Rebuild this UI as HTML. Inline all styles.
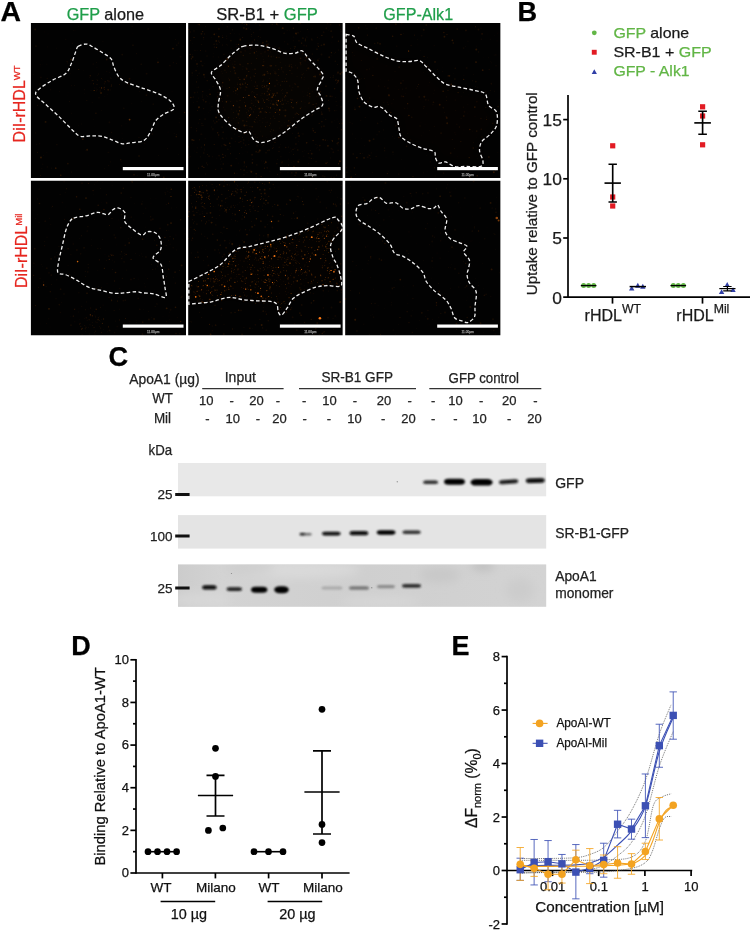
<!DOCTYPE html>
<html lang="en">
<head>
<meta charset="utf-8">
<title>Figure</title>
<style>
html,body{margin:0;padding:0;background:#fff;}
body{width:750px;height:930px;overflow:hidden;}
svg{display:block;}
svg text{font-family:'Liberation Sans',Arial,sans-serif;stroke-width:0.25px;stroke-linejoin:round;}
</style>
</head>
<body>
<svg width="750" height="930" viewBox="0 0 750 930">
<rect x="0" y="0" width="750" height="930" fill="#ffffff"/>
<g id="panelA">
<defs>
<clipPath id="cp00"><rect x="30.7" y="23" width="155.3" height="155"/></clipPath>
<clipPath id="cp01"><rect x="188.1" y="23" width="154.7" height="155"/></clipPath>
<clipPath id="cp02"><rect x="345.1" y="23" width="155.5" height="155"/></clipPath>
<clipPath id="cp10"><rect x="30.7" y="180.5" width="155.3" height="155"/></clipPath>
<clipPath id="cp11"><rect x="188.1" y="180.5" width="154.7" height="155"/></clipPath>
<clipPath id="cp12"><rect x="345.1" y="180.5" width="155.5" height="155"/></clipPath>
<filter id="blurA" x="-5%" y="-5%" width="110%" height="110%"><feGaussianBlur stdDeviation="0.45"/></filter>
<filter id="hazeA" x="-10%" y="-10%" width="120%" height="120%"><feGaussianBlur stdDeviation="4"/></filter>
</defs>
<g clip-path="url(#cp00)">
<rect x="30.7" y="23" width="155.3" height="155" fill="#020202"/>
<path d="M78.27,46.33C79.97,45.2 83.74,43.95 86.2,44.07C88.66,44.18 90.17,45.5 93,47.01C95.83,48.52 100.18,51.17 103.2,53.13C106.22,55.1 109.36,56.53 111.13,58.8C112.91,61.07 112.53,63.71 113.85,66.73C115.18,69.76 116.88,74.29 119.07,76.93C121.26,79.58 123.03,80.71 127,82.6C130.97,84.49 137.58,86.38 142.87,88.27C148.16,90.16 154.2,91.86 158.73,93.93C163.27,96.01 167.54,98.28 170.07,100.73C172.6,103.19 175.05,106.4 173.92,108.67C172.79,110.93 166.36,112.26 163.27,114.33C160.17,116.41 157.41,118.3 155.33,121.13C153.26,123.97 152.69,128.12 150.8,131.33C148.91,134.54 147.21,138.51 144,140.4C140.79,142.29 135.12,142.1 131.53,142.67C127.94,143.23 125.49,144.18 122.47,143.8C119.44,143.42 116.8,141.65 113.4,140.4C110,139.15 105.84,137.08 102.07,136.32C98.29,135.56 94.32,135.87 90.73,135.87C87.14,135.87 83.37,137.08 80.53,136.32C77.7,135.56 77.32,134.62 73.73,131.33C70.14,128.05 63.72,121.13 59,116.6C54.28,112.07 49.25,107.72 45.4,104.13C41.55,100.54 37.01,97.52 35.88,95.07C34.75,92.61 35.88,91.86 38.6,89.4C41.32,86.94 47.67,82.98 52.2,80.33C56.73,77.69 62.59,76.37 65.8,73.53C69.01,70.7 69.77,67.11 71.47,63.33C73.17,59.56 74.87,53.7 76,50.87C77.13,48.03 76.57,47.47 78.27,46.33Z" fill="#c8611a" opacity="0" filter="url(#hazeA)"/>
<g fill="#ff7a14" filter="url(#blurA)">
<circle cx="80.58" cy="59.11" r="0.38" opacity="0.03"/>
<circle cx="109.85" cy="80.54" r="0.3" opacity="0.09"/>
<circle cx="94.48" cy="126.53" r="0.3" opacity="0.05"/>
<circle cx="122.49" cy="138.58" r="0.37" opacity="0.07"/>
<circle cx="78.46" cy="125.46" r="0.31" opacity="0.1"/>
<circle cx="124.08" cy="81.21" r="0.36" opacity="0.03"/>
<circle cx="129.8" cy="86.71" r="0.32" opacity="0.1"/>
<circle cx="98.44" cy="73.96" r="0.43" opacity="0.13"/>
<circle cx="69.58" cy="101.36" r="0.36" opacity="0.18"/>
<circle cx="93.6" cy="119.58" r="0.3" opacity="0.08"/>
<circle cx="141.42" cy="101.22" r="0.45" opacity="0.06"/>
<circle cx="131.86" cy="103.35" r="0.37" opacity="0.08"/>
<circle cx="101.32" cy="110.3" r="0.3" opacity="0.13"/>
<circle cx="125.21" cy="143.11" r="0.44" opacity="0.05"/>
<circle cx="89.13" cy="110.75" r="0.3" opacity="0.08"/>
<circle cx="89.85" cy="130.98" r="0.3" opacity="0.08"/>
<circle cx="111.72" cy="132.17" r="0.43" opacity="0.18"/>
<circle cx="74.31" cy="85.49" r="0.33" opacity="0.18"/>
<circle cx="68.09" cy="92.43" r="0.37" opacity="0.05"/>
<circle cx="86.85" cy="100.55" r="0.48" opacity="0.13"/>
<circle cx="107.04" cy="105.66" r="0.39" opacity="0.03"/>
<circle cx="90.04" cy="83.86" r="0.3" opacity="0.12"/>
<circle cx="82.82" cy="49.31" r="0.3" opacity="0.04"/>
<circle cx="70.7" cy="78.71" r="0.33" opacity="0.04"/>
<circle cx="100.21" cy="92.32" r="0.3" opacity="0.04"/>
<circle cx="83.18" cy="70.47" r="0.44" opacity="0.04"/>
<circle cx="108.8" cy="58.69" r="0.36" opacity="0.03"/>
<circle cx="155.05" cy="113.5" r="0.31" opacity="0.06"/>
<circle cx="109.4" cy="121.76" r="0.32" opacity="0.05"/>
<circle cx="153.58" cy="124.46" r="0.43" opacity="0.14"/>
<circle cx="67.18" cy="95.69" r="0.33" opacity="0.03"/>
<circle cx="71.66" cy="113.13" r="0.48" opacity="0.08"/>
<circle cx="122.03" cy="133.86" r="0.44" opacity="0.08"/>
<circle cx="126.02" cy="123.82" r="0.3" opacity="0.12"/>
<circle cx="139.43" cy="91.74" r="0.31" opacity="0.16"/>
<circle cx="81.78" cy="123.94" r="0.49" opacity="0.07"/>
<circle cx="171.2" cy="109.62" r="0.32" opacity="0.1"/>
<circle cx="169.9" cy="108.86" r="0.36" opacity="0.2"/>
<circle cx="95.76" cy="131.01" r="0.44" opacity="0.04"/>
<circle cx="70.64" cy="73.29" r="0.31" opacity="0.1"/>
<circle cx="71.68" cy="85.86" r="0.3" opacity="0.19"/>
<circle cx="84.72" cy="89.76" r="0.37" opacity="0.19"/>
<circle cx="93.94" cy="135.59" r="0.35" opacity="0.09"/>
<circle cx="96.63" cy="62.33" r="0.3" opacity="0.16"/>
<circle cx="59.67" cy="91.29" r="0.41" opacity="0.1"/>
<circle cx="116.74" cy="144.48" r="0.3" opacity="0.07"/>
<circle cx="69.19" cy="65.89" r="0.48" opacity="0.06"/>
<circle cx="172.04" cy="91.66" r="0.41" opacity="0.06"/>
<circle cx="104.75" cy="168.84" r="0.45" opacity="0.13"/>
<circle cx="176.64" cy="63.21" r="0.39" opacity="0.15"/>
<circle cx="160.82" cy="44.24" r="0.3" opacity="0.06"/>
<circle cx="41.94" cy="60.27" r="0.3" opacity="0.09"/>
<circle cx="152.13" cy="161.95" r="0.31" opacity="0.1"/>
<circle cx="132.97" cy="45.15" r="0.53" opacity="0.15"/>
<circle cx="64.71" cy="170.54" r="0.35" opacity="0.06"/>
<circle cx="184.03" cy="151.95" r="0.31" opacity="0.06"/>
<circle cx="61.02" cy="72.34" r="0.46" opacity="0.03"/>
<circle cx="33.5" cy="74.35" r="0.42" opacity="0.07"/>
<circle cx="40.66" cy="175.59" r="0.49" opacity="0.15"/>
<circle cx="46.93" cy="64.14" r="0.3" opacity="0.11"/>
<circle cx="72.59" cy="43.07" r="0.35" opacity="0.14"/>
<circle cx="157.56" cy="63.06" r="0.31" opacity="0.14"/>
<circle cx="44.56" cy="31.91" r="0.44" opacity="0.06"/>
<circle cx="41.92" cy="168.35" r="0.42" opacity="0.11"/>
<circle cx="43.67" cy="155.63" r="0.3" opacity="0.13"/>
<circle cx="116.37" cy="166.54" r="0.32" opacity="0.03"/>
<circle cx="112.32" cy="59.93" r="0.3" opacity="0.04"/>
<circle cx="38.5" cy="54.25" r="0.33" opacity="0.04"/>
<circle cx="148.35" cy="67.91" r="0.38" opacity="0.04"/>
<circle cx="84.45" cy="25.81" r="0.32" opacity="0.03"/>
<circle cx="175.48" cy="39.46" r="0.5" opacity="0.06"/>
<circle cx="107.38" cy="152.28" r="0.35" opacity="0.06"/>
<circle cx="137.23" cy="175.18" r="0.34" opacity="0.12"/>
<circle cx="39.12" cy="43.11" r="0.3" opacity="0.1"/>
<circle cx="70.29" cy="48.29" r="0.3" opacity="0.12"/>
<circle cx="165.55" cy="126.87" r="0.32" opacity="0.04"/>
<circle cx="71.48" cy="171.98" r="0.58" opacity="0.07"/>
<circle cx="68.56" cy="172.58" r="0.33" opacity="0.05"/>
<circle cx="30.87" cy="82.11" r="0.37" opacity="0.06"/>
<circle cx="31.47" cy="63.92" r="0.3" opacity="0.05"/>
<circle cx="37.15" cy="26.48" r="0.33" opacity="0.04"/>
<circle cx="141.61" cy="159.17" r="0.35" opacity="0.05"/>
<circle cx="183.23" cy="46.15" r="0.46" opacity="0.08"/>
<circle cx="37.48" cy="152.39" r="0.54" opacity="0.08"/>
<circle cx="144.37" cy="148.81" r="0.31" opacity="0.07"/>
<circle cx="108.83" cy="152.33" r="0.49" opacity="0.12"/>
<circle cx="121.17" cy="161.3" r="0.44" opacity="0.09"/>
<circle cx="66.32" cy="27.83" r="0.31" opacity="0.05"/>
<circle cx="46.95" cy="152.47" r="0.39" opacity="0.08"/>
<circle cx="106.49" cy="23.51" r="0.49" opacity="0.1"/>
<circle cx="132.83" cy="33.23" r="0.46" opacity="0.04"/>
<circle cx="42.23" cy="64.13" r="0.46" opacity="0.04"/>
<circle cx="145.3" cy="174.14" r="0.37" opacity="0.05"/>
<circle cx="130.26" cy="35" r="0.31" opacity="0.04"/>
<circle cx="145.82" cy="70.15" r="0.4" opacity="0.03"/>
<circle cx="40.1" cy="64.63" r="0.44" opacity="0.09"/>
<circle cx="135.37" cy="68.05" r="0.38" opacity="0.06"/>
<circle cx="102.94" cy="41.36" r="0.54" opacity="0.04"/>
<circle cx="182.21" cy="168.03" r="0.3" opacity="0.06"/>
<circle cx="157.7" cy="172.96" r="0.36" opacity="0.04"/>
<circle cx="63.2" cy="169.47" r="0.31" opacity="0.08"/>
<circle cx="178.28" cy="43.54" r="0.5" opacity="0.07"/>
<circle cx="168.07" cy="131.95" r="0.32" opacity="0.14"/>
<circle cx="106" cy="26.85" r="0.3" opacity="0.06"/>
<circle cx="52.5" cy="76.28" r="0.33" opacity="0.12"/>
<circle cx="30.97" cy="139.29" r="0.51" opacity="0.03"/>
<circle cx="174.2" cy="133.45" r="0.54" opacity="0.04"/>
<circle cx="185.41" cy="114.26" r="0.34" opacity="0.06"/>
<circle cx="73.32" cy="30.48" r="0.3" opacity="0.12"/>
<circle cx="74.94" cy="167.92" r="0.32" opacity="0.04"/>
<circle cx="109.85" cy="52.41" r="0.34" opacity="0.15"/>
<circle cx="167.67" cy="148.77" r="0.42" opacity="0.14"/>
<circle cx="176.41" cy="108.08" r="0.46" opacity="0.03"/>
<circle cx="75.03" cy="30.59" r="0.56" opacity="0.03"/>
<circle cx="76.82" cy="137.48" r="0.59" opacity="0.04"/>
<circle cx="132.31" cy="69.6" r="0.39" opacity="0.05"/>
<circle cx="56.62" cy="48.04" r="0.31" opacity="0.14"/>
<circle cx="171.08" cy="177.35" r="0.36" opacity="0.03"/>
<circle cx="60.5" cy="37.05" r="0.34" opacity="0.03"/>
<circle cx="67.74" cy="63.02" r="0.4" opacity="0.13"/>
<circle cx="146.82" cy="86.94" r="0.35" opacity="0.07"/>
<circle cx="40.31" cy="65.99" r="0.58" opacity="0.03"/>
<circle cx="164.36" cy="56.45" r="0.32" opacity="0.04"/>
<circle cx="178.47" cy="154.46" r="0.53" opacity="0.03"/>
<circle cx="35.69" cy="132.9" r="0.54" opacity="0.06"/>
<circle cx="121.65" cy="23.03" r="0.35" opacity="0.14"/>
<circle cx="158.58" cy="155.51" r="0.58" opacity="0.04"/>
<circle cx="47.59" cy="46.91" r="0.38" opacity="0.09"/>
<circle cx="176.54" cy="134.8" r="0.43" opacity="0.11"/>
<circle cx="36.83" cy="144.18" r="0.32" opacity="0.14"/>
<circle cx="130.69" cy="70.06" r="0.3" opacity="0.04"/>
<circle cx="48.07" cy="33.9" r="0.38" opacity="0.08"/>
<circle cx="123.8" cy="24.62" r="0.33" opacity="0.06"/>
<circle cx="179.24" cy="122.84" r="0.53" opacity="0.06"/>
<circle cx="67.07" cy="61.27" r="0.58" opacity="0.1"/>
<circle cx="78.32" cy="26.37" r="0.37" opacity="0.09"/>
<circle cx="134.07" cy="166.31" r="0.32" opacity="0.03"/>
<circle cx="136.43" cy="53.68" r="0.49" opacity="0.1"/>
<circle cx="108.91" cy="54.79" r="0.58" opacity="0.04"/>
<circle cx="157.72" cy="58.75" r="0.31" opacity="0.11"/>
<circle cx="76.39" cy="170.45" r="0.37" opacity="0.04"/>
<circle cx="133.75" cy="169.96" r="0.31" opacity="0.05"/>
<circle cx="63.69" cy="173.89" r="0.31" opacity="0.03"/>
<circle cx="40.01" cy="83.93" r="0.54" opacity="0.13"/>
<circle cx="144.2" cy="177.52" r="0.56" opacity="0.05"/>
<circle cx="59.44" cy="167.97" r="0.47" opacity="0.03"/>
<circle cx="133.62" cy="81.65" r="0.34" opacity="0.05"/>
<circle cx="56.92" cy="23.44" r="0.32" opacity="0.05"/>
<circle cx="178.71" cy="42.16" r="0.58" opacity="0.04"/>
<circle cx="85.94" cy="150.26" r="0.5" opacity="0.06"/>
<circle cx="88.43" cy="165.43" r="0.31" opacity="0.05"/>
<circle cx="169.64" cy="27.69" r="0.35" opacity="0.12"/>
<circle cx="149.46" cy="29.3" r="0.3" opacity="0.03"/>
<circle cx="173.22" cy="62.81" r="0.47" opacity="0.14"/>
<circle cx="179.05" cy="118.57" r="0.32" opacity="0.1"/>
<circle cx="97.07" cy="89.87" r="0.3" opacity="0.21"/>
<circle cx="111.04" cy="78.32" r="0.66" opacity="0.06"/>
<circle cx="101.03" cy="93.04" r="0.67" opacity="0.3"/>
<circle cx="94.82" cy="87.98" r="0.37" opacity="0.13"/>
<circle cx="105.15" cy="81.78" r="0.56" opacity="0.2"/>
<circle cx="106.84" cy="71.64" r="0.45" opacity="0.09"/>
<circle cx="96.39" cy="90.87" r="0.54" opacity="0.07"/>
<circle cx="104.89" cy="96.65" r="0.32" opacity="0.07"/>
<circle cx="111.16" cy="86.14" r="0.34" opacity="0.31"/>
<circle cx="99.65" cy="87.34" r="0.3" opacity="0.13"/>
<circle cx="97.55" cy="75.57" r="0.32" opacity="0.11"/>
<circle cx="90.19" cy="75.78" r="0.52" opacity="0.25"/>
<circle cx="97.66" cy="80.51" r="0.58" opacity="0.09"/>
<circle cx="92.06" cy="80.85" r="0.52" opacity="0.07"/>
<circle cx="100.11" cy="90" r="0.31" opacity="0.26"/>
<circle cx="92.95" cy="80.64" r="0.36" opacity="0.32"/>
<circle cx="93.48" cy="83.73" r="0.56" opacity="0.17"/>
<circle cx="104.18" cy="83.79" r="0.39" opacity="0.24"/>
<circle cx="110.75" cy="69.06" r="0.3" opacity="0.09"/>
<circle cx="104.27" cy="87.53" r="0.68" opacity="0.15"/>
<circle cx="107.86" cy="80.72" r="0.6" opacity="0.12"/>
<circle cx="99.02" cy="97.85" r="0.66" opacity="0.07"/>
<circle cx="89.7" cy="77.68" r="0.32" opacity="0.1"/>
<circle cx="103.83" cy="88.19" r="0.33" opacity="0.16"/>
<circle cx="96.48" cy="79.6" r="0.3" opacity="0.09"/>
<circle cx="97.49" cy="79.39" r="0.34" opacity="0.07"/>
<circle cx="103.18" cy="74.32" r="0.3" opacity="0.07"/>
<circle cx="91" cy="90.18" r="0.46" opacity="0.07"/>
<circle cx="107.16" cy="94.57" r="0.37" opacity="0.08"/>
<circle cx="92.12" cy="102.51" r="0.34" opacity="0.15"/>
<circle cx="94.17" cy="90.49" r="0.6" opacity="0.32"/>
<circle cx="96.09" cy="88" r="0.51" opacity="0.07"/>
<circle cx="119.37" cy="84.64" r="0.37" opacity="0.24"/>
<circle cx="84.51" cy="93.21" r="0.38" opacity="0.07"/>
<circle cx="111.35" cy="84.94" r="0.46" opacity="0.28"/>
<circle cx="110.64" cy="89.92" r="0.36" opacity="0.13"/>
<circle cx="104.47" cy="89.18" r="0.41" opacity="0.28"/>
<circle cx="108.1" cy="89.87" r="0.56" opacity="0.3"/>
<circle cx="101.52" cy="87.94" r="0.66" opacity="0.31"/>
<circle cx="97.04" cy="84.29" r="0.64" opacity="0.1"/>
<circle cx="110.33" cy="77.7" r="0.57" opacity="0.07"/>
<circle cx="101.42" cy="78.47" r="0.37" opacity="0.25"/>
<circle cx="102.73" cy="79.53" r="0.32" opacity="0.1"/>
<circle cx="91.2" cy="83.12" r="0.31" opacity="0.08"/>
<circle cx="96.98" cy="67.14" r="0.3" opacity="0.14"/>
<circle cx="148.33" cy="28.91" r="0.92" opacity="0.05"/>
<circle cx="123.81" cy="108.26" r="0.81" opacity="0.06"/>
<circle cx="95.94" cy="113.31" r="0.71" opacity="0.11"/>
<circle cx="100.09" cy="90.94" r="0.51" opacity="0.1"/>
<circle cx="106.72" cy="59.46" r="0.88" opacity="0.13"/>
<circle cx="101.87" cy="50.83" r="0.74" opacity="0.05"/>
<circle cx="50.65" cy="89.74" r="0.55" opacity="0.08"/>
<circle cx="109.93" cy="29.32" r="0.82" opacity="0.05"/>
<circle cx="144.61" cy="143.53" r="0.76" opacity="0.05"/>
<circle cx="108.96" cy="81.57" r="0.98" opacity="0.05"/>
<circle cx="163.8" cy="177.4" r="0.87" opacity="0.14"/>
<circle cx="60.78" cy="175.17" r="0.75" opacity="0.17"/>
<circle cx="172.96" cy="48.59" r="0.89" opacity="0.16"/>
<circle cx="40.87" cy="77.39" r="0.88" opacity="0.05"/>
<circle cx="169.93" cy="65.62" r="0.91" opacity="0.05"/>
<circle cx="108.69" cy="165.59" r="0.6" opacity="0.06"/>
<circle cx="109.28" cy="72.46" r="0.52" opacity="0.05"/>
<circle cx="55.74" cy="168.14" r="0.84" opacity="0.15"/>
<circle cx="56.91" cy="144.65" r="0.56" opacity="0.09"/>
<circle cx="129.52" cy="78.77" r="0.94" opacity="0.09"/>
<circle cx="120.78" cy="159.79" r="0.55" opacity="0.18"/>
<circle cx="128.5" cy="84.11" r="0.9" opacity="0.06"/>
<circle cx="184.52" cy="112.49" r="0.68" opacity="0.13"/>
<circle cx="99.39" cy="50.4" r="0.87" opacity="0.05"/>
<circle cx="158.02" cy="62.32" r="0.82" opacity="0.18"/>
<circle cx="121.69" cy="125.87" r="0.66" opacity="0.05"/>
<circle cx="35.95" cy="46.15" r="0.81" opacity="0.07"/>
<circle cx="110.32" cy="161.81" r="0.57" opacity="0.06"/>
<circle cx="132.13" cy="26.45" r="0.5" opacity="0.07"/>
<circle cx="47.22" cy="78.36" r="0.61" opacity="0.09"/>
<circle cx="122.19" cy="54.65" r="0.81" opacity="0.08"/>
<circle cx="51.63" cy="168.17" r="0.62" opacity="0.05"/>
<circle cx="45.58" cy="121.92" r="0.94" opacity="0.13"/>
<circle cx="93.12" cy="63.96" r="0.51" opacity="0.1"/>
<circle cx="118.03" cy="77.3" r="0.82" opacity="0.08"/>
<circle cx="176.24" cy="136.7" r="0.62" opacity="0.16"/>
<circle cx="37.53" cy="105.39" r="0.7" opacity="0.06"/>
<circle cx="39.77" cy="143.73" r="0.51" opacity="0.09"/>
<circle cx="176.82" cy="45.05" r="0.6" opacity="0.1"/>
<circle cx="109.43" cy="122.44" r="0.91" opacity="0.05"/>
<circle cx="78.75" cy="69.54" r="0.52" opacity="0.15"/>
<circle cx="152.3" cy="133.89" r="0.5" opacity="0.14"/>
<circle cx="146.43" cy="95.12" r="0.87" opacity="0.08"/>
<circle cx="65.79" cy="39.32" r="0.62" opacity="0.05"/>
<circle cx="82.81" cy="139.2" r="0.85" opacity="0.14"/>
<circle cx="141.22" cy="64.23" r="0.78" opacity="0.07"/>
<circle cx="153.15" cy="104.1" r="0.63" opacity="0.1"/>
<circle cx="180.59" cy="56.63" r="0.94" opacity="0.05"/>
<circle cx="71.14" cy="59.6" r="0.87" opacity="0.17"/>
<circle cx="146.58" cy="73.67" r="0.94" opacity="0.06"/>
<circle cx="67.84" cy="163.67" r="0.82" opacity="0.11"/>
<circle cx="134.01" cy="174.75" r="0.73" opacity="0.14"/>
<circle cx="139.04" cy="155.92" r="0.72" opacity="0.12"/>
<circle cx="119.27" cy="70.7" r="0.61" opacity="0.1"/>
<circle cx="42.78" cy="164.17" r="0.57" opacity="0.05"/>
<circle cx="47.27" cy="166.99" r="0.67" opacity="0.05"/>
<circle cx="35.16" cy="29.46" r="0.85" opacity="0.1"/>
<circle cx="138.95" cy="137.2" r="0.53" opacity="0.1"/>
<circle cx="87.14" cy="149.72" r="0.91" opacity="0.15"/>
<circle cx="40.94" cy="157.51" r="0.96" opacity="0.17"/>
<circle cx="129.6" cy="119.6" r="0.9" opacity="0.35"/>
</g>
<path d="M78.27,46.33C79.97,45.2 83.74,43.95 86.2,44.07C88.66,44.18 90.17,45.5 93,47.01C95.83,48.52 100.18,51.17 103.2,53.13C106.22,55.1 109.36,56.53 111.13,58.8C112.91,61.07 112.53,63.71 113.85,66.73C115.18,69.76 116.88,74.29 119.07,76.93C121.26,79.58 123.03,80.71 127,82.6C130.97,84.49 137.58,86.38 142.87,88.27C148.16,90.16 154.2,91.86 158.73,93.93C163.27,96.01 167.54,98.28 170.07,100.73C172.6,103.19 175.05,106.4 173.92,108.67C172.79,110.93 166.36,112.26 163.27,114.33C160.17,116.41 157.41,118.3 155.33,121.13C153.26,123.97 152.69,128.12 150.8,131.33C148.91,134.54 147.21,138.51 144,140.4C140.79,142.29 135.12,142.1 131.53,142.67C127.94,143.23 125.49,144.18 122.47,143.8C119.44,143.42 116.8,141.65 113.4,140.4C110,139.15 105.84,137.08 102.07,136.32C98.29,135.56 94.32,135.87 90.73,135.87C87.14,135.87 83.37,137.08 80.53,136.32C77.7,135.56 77.32,134.62 73.73,131.33C70.14,128.05 63.72,121.13 59,116.6C54.28,112.07 49.25,107.72 45.4,104.13C41.55,100.54 37.01,97.52 35.88,95.07C34.75,92.61 35.88,91.86 38.6,89.4C41.32,86.94 47.67,82.98 52.2,80.33C56.73,77.69 62.59,76.37 65.8,73.53C69.01,70.7 69.77,67.11 71.47,63.33C73.17,59.56 74.87,53.7 76,50.87C77.13,48.03 76.57,47.47 78.27,46.33Z" fill="none" stroke="#f0f0f0" stroke-width="1.3" stroke-dasharray="3.6 2.3"/>
<rect x="122.8" y="167" width="60.7" height="3.2" fill="#ffffff"/>
<text x="153.2" y="175.5" font-size="3.2" fill="#8f8f8f" text-anchor="middle" stroke="#8f8f8f">11.00µm</text>
</g>
<g clip-path="url(#cp01)">
<rect x="188.1" y="23" width="154.7" height="155" fill="#020202"/>
<path d="M243.2,46.33C246.41,45.58 251.89,44.82 256.8,45.2C261.71,45.58 268.13,47.28 272.67,48.6C277.2,49.92 280.22,52.38 284,53.13C287.78,53.89 292.31,53.51 295.33,53.13C298.36,52.76 299.87,49.92 302.13,50.87C304.4,51.81 305.53,55.02 308.93,58.8C312.33,62.58 320.46,69.94 322.53,73.53C324.61,77.12 322.27,77.69 321.4,80.33C320.53,82.98 317.43,86.76 317.32,89.4C317.21,92.04 319.85,93.56 320.72,96.2C321.59,98.84 323.74,102.81 322.53,105.27C321.32,107.72 317.24,108.48 313.47,110.93C309.69,113.39 304.78,116.41 299.87,120C294.96,123.59 288.53,129.26 284,132.47C279.47,135.68 276.44,137.57 272.67,139.27C268.89,140.97 264.54,142.67 261.33,142.67C258.12,142.67 255.48,141.16 253.4,139.27C251.32,137.38 250.57,132.47 248.87,131.33C247.17,130.2 246.22,133.41 243.2,132.47C240.18,131.52 234.7,128.88 230.73,125.67C226.77,122.46 221.48,116.79 219.4,113.2C217.32,109.61 218.08,107.91 218.27,104.13C218.46,100.36 220.91,94.5 220.53,90.53C220.16,86.57 217.51,83.36 216,80.33C214.49,77.31 210.71,74.86 211.47,72.4C212.22,69.94 217.32,68.43 220.53,65.6C223.74,62.77 227.9,58.04 230.73,55.4C233.57,52.76 235.46,51.24 237.53,49.73C239.61,48.22 239.99,47.09 243.2,46.33Z" fill="#c8611a" opacity="0.02" filter="url(#hazeA)"/>
<g fill="#ff7a14" filter="url(#blurA)">
<circle cx="223.36" cy="65.25" r="0.3" opacity="0.05"/>
<circle cx="281.9" cy="125.62" r="0.4" opacity="0.08"/>
<circle cx="295.58" cy="65.18" r="0.33" opacity="0.11"/>
<circle cx="242.85" cy="114.96" r="0.33" opacity="0.09"/>
<circle cx="318.53" cy="94.3" r="0.48" opacity="0.17"/>
<circle cx="259.94" cy="120.54" r="0.33" opacity="0.2"/>
<circle cx="271.21" cy="66.31" r="0.49" opacity="0.05"/>
<circle cx="302.52" cy="61.81" r="0.3" opacity="0.07"/>
<circle cx="266.05" cy="122.86" r="0.31" opacity="0.13"/>
<circle cx="250.03" cy="126.28" r="0.32" opacity="0.31"/>
<circle cx="242.98" cy="66.13" r="0.42" opacity="0.13"/>
<circle cx="223.68" cy="107.24" r="0.3" opacity="0.24"/>
<circle cx="288.9" cy="121.9" r="0.4" opacity="0.1"/>
<circle cx="256.03" cy="83.66" r="0.5" opacity="0.05"/>
<circle cx="234.36" cy="70.85" r="0.5" opacity="0.13"/>
<circle cx="253.59" cy="131.36" r="0.31" opacity="0.12"/>
<circle cx="270.5" cy="118.74" r="0.44" opacity="0.18"/>
<circle cx="250.17" cy="77.04" r="0.31" opacity="0.26"/>
<circle cx="285" cy="117.52" r="0.31" opacity="0.12"/>
<circle cx="297.37" cy="101.65" r="0.3" opacity="0.12"/>
<circle cx="309.77" cy="68.39" r="0.31" opacity="0.08"/>
<circle cx="289.56" cy="127.43" r="0.31" opacity="0.06"/>
<circle cx="238.96" cy="77.03" r="0.37" opacity="0.06"/>
<circle cx="247.9" cy="63.65" r="0.54" opacity="0.21"/>
<circle cx="222.76" cy="82.65" r="0.54" opacity="0.24"/>
<circle cx="292.91" cy="87.59" r="0.31" opacity="0.18"/>
<circle cx="223.34" cy="65.32" r="0.34" opacity="0.05"/>
<circle cx="255.78" cy="122.3" r="0.42" opacity="0.13"/>
<circle cx="281.7" cy="90.35" r="0.31" opacity="0.17"/>
<circle cx="256.42" cy="117.42" r="0.51" opacity="0.11"/>
<circle cx="275.22" cy="118.21" r="0.34" opacity="0.07"/>
<circle cx="297.44" cy="113.43" r="0.48" opacity="0.2"/>
<circle cx="282.72" cy="89.44" r="0.32" opacity="0.18"/>
<circle cx="222.34" cy="86.1" r="0.45" opacity="0.21"/>
<circle cx="281.4" cy="69.57" r="0.34" opacity="0.12"/>
<circle cx="280.5" cy="85.1" r="0.41" opacity="0.3"/>
<circle cx="231.8" cy="108.99" r="0.45" opacity="0.1"/>
<circle cx="265.87" cy="140.19" r="0.3" opacity="0.15"/>
<circle cx="229.33" cy="121.4" r="0.52" opacity="0.14"/>
<circle cx="222.69" cy="101.2" r="0.37" opacity="0.21"/>
<circle cx="268.35" cy="107.51" r="0.47" opacity="0.14"/>
<circle cx="257.04" cy="137.6" r="0.31" opacity="0.2"/>
<circle cx="255.06" cy="119.54" r="0.3" opacity="0.33"/>
<circle cx="250.95" cy="50.72" r="0.32" opacity="0.11"/>
<circle cx="258.18" cy="113.26" r="0.33" opacity="0.08"/>
<circle cx="236.39" cy="117.47" r="0.52" opacity="0.14"/>
<circle cx="235.78" cy="123.32" r="0.34" opacity="0.07"/>
<circle cx="301.38" cy="107.02" r="0.36" opacity="0.15"/>
<circle cx="250.69" cy="107.46" r="0.47" opacity="0.25"/>
<circle cx="263.46" cy="73.89" r="0.38" opacity="0.06"/>
<circle cx="304.07" cy="79.78" r="0.48" opacity="0.08"/>
<circle cx="253.24" cy="69.91" r="0.35" opacity="0.06"/>
<circle cx="242.7" cy="69.08" r="0.32" opacity="0.13"/>
<circle cx="259.06" cy="107.32" r="0.41" opacity="0.1"/>
<circle cx="284.32" cy="69.57" r="0.3" opacity="0.06"/>
<circle cx="237.42" cy="120.86" r="0.33" opacity="0.06"/>
<circle cx="279.04" cy="121.35" r="0.41" opacity="0.29"/>
<circle cx="233.39" cy="112.72" r="0.37" opacity="0.22"/>
<circle cx="260.18" cy="131.23" r="0.38" opacity="0.08"/>
<circle cx="237.48" cy="58.78" r="0.36" opacity="0.05"/>
<circle cx="263.35" cy="59.28" r="0.36" opacity="0.13"/>
<circle cx="271.39" cy="129.3" r="0.3" opacity="0.26"/>
<circle cx="263.44" cy="100.03" r="0.41" opacity="0.26"/>
<circle cx="253.11" cy="86.02" r="0.53" opacity="0.05"/>
<circle cx="282.22" cy="107.2" r="0.3" opacity="0.17"/>
<circle cx="268.18" cy="92.44" r="0.5" opacity="0.05"/>
<circle cx="291.23" cy="106.14" r="0.33" opacity="0.27"/>
<circle cx="252.13" cy="91.45" r="0.37" opacity="0.23"/>
<circle cx="234.87" cy="87.62" r="0.34" opacity="0.15"/>
<circle cx="303.29" cy="73.75" r="0.47" opacity="0.11"/>
<circle cx="267.42" cy="71.68" r="0.36" opacity="0.33"/>
<circle cx="284.17" cy="122.39" r="0.33" opacity="0.09"/>
<circle cx="244.7" cy="102.36" r="0.4" opacity="0.24"/>
<circle cx="309.83" cy="98.36" r="0.3" opacity="0.08"/>
<circle cx="313.81" cy="104.53" r="0.41" opacity="0.24"/>
<circle cx="312.52" cy="104.82" r="0.4" opacity="0.18"/>
<circle cx="288.81" cy="103.32" r="0.42" opacity="0.07"/>
<circle cx="285.55" cy="89.83" r="0.45" opacity="0.06"/>
<circle cx="284.3" cy="81.15" r="0.47" opacity="0.24"/>
<circle cx="273.9" cy="70.35" r="0.32" opacity="0.11"/>
<circle cx="246.84" cy="87.18" r="0.4" opacity="0.31"/>
<circle cx="301.47" cy="101.27" r="0.51" opacity="0.12"/>
<circle cx="257.27" cy="55.15" r="0.4" opacity="0.07"/>
<circle cx="291.36" cy="68.81" r="0.43" opacity="0.07"/>
<circle cx="292.51" cy="53.42" r="0.4" opacity="0.21"/>
<circle cx="262.62" cy="136.07" r="0.32" opacity="0.32"/>
<circle cx="302.25" cy="52.97" r="0.32" opacity="0.21"/>
<circle cx="265.48" cy="51.03" r="0.33" opacity="0.16"/>
<circle cx="260.19" cy="111.17" r="0.31" opacity="0.24"/>
<circle cx="251.81" cy="108.06" r="0.4" opacity="0.11"/>
<circle cx="254.31" cy="121.83" r="0.52" opacity="0.24"/>
<circle cx="274.42" cy="73.7" r="0.3" opacity="0.33"/>
<circle cx="289.58" cy="125.84" r="0.33" opacity="0.17"/>
<circle cx="278.23" cy="75.28" r="0.35" opacity="0.28"/>
<circle cx="253.3" cy="111.95" r="0.39" opacity="0.29"/>
<circle cx="301.15" cy="72.81" r="0.3" opacity="0.08"/>
<circle cx="258.39" cy="102.38" r="0.47" opacity="0.28"/>
<circle cx="274.99" cy="71.89" r="0.48" opacity="0.25"/>
<circle cx="249.99" cy="53.49" r="0.38" opacity="0.24"/>
<circle cx="233.73" cy="118.32" r="0.52" opacity="0.07"/>
<circle cx="278.87" cy="111.25" r="0.35" opacity="0.07"/>
<circle cx="239.76" cy="118.41" r="0.46" opacity="0.12"/>
<circle cx="297.23" cy="67.9" r="0.38" opacity="0.29"/>
<circle cx="309.77" cy="96.06" r="0.36" opacity="0.16"/>
<circle cx="232.48" cy="63.94" r="0.31" opacity="0.2"/>
<circle cx="251.76" cy="100.21" r="0.34" opacity="0.14"/>
<circle cx="223.25" cy="106.87" r="0.45" opacity="0.06"/>
<circle cx="277.8" cy="78.82" r="0.37" opacity="0.05"/>
<circle cx="307.66" cy="92.6" r="0.38" opacity="0.08"/>
<circle cx="298.01" cy="86.72" r="0.52" opacity="0.23"/>
<circle cx="239.68" cy="48.89" r="0.31" opacity="0.06"/>
<circle cx="273.37" cy="130.06" r="0.35" opacity="0.31"/>
<circle cx="277.89" cy="83.93" r="0.3" opacity="0.32"/>
<circle cx="240.03" cy="100.22" r="0.4" opacity="0.32"/>
<circle cx="285.85" cy="83.52" r="0.35" opacity="0.06"/>
<circle cx="239.88" cy="79.51" r="0.5" opacity="0.29"/>
<circle cx="298.81" cy="114.36" r="0.4" opacity="0.33"/>
<circle cx="286.65" cy="74.32" r="0.39" opacity="0.23"/>
<circle cx="223.18" cy="76.77" r="0.32" opacity="0.06"/>
<circle cx="264.92" cy="61.63" r="0.31" opacity="0.06"/>
<circle cx="291.13" cy="64.22" r="0.3" opacity="0.3"/>
<circle cx="226.99" cy="88.79" r="0.3" opacity="0.3"/>
<circle cx="305.01" cy="106.45" r="0.35" opacity="0.09"/>
<circle cx="302.88" cy="91.74" r="0.4" opacity="0.06"/>
<circle cx="290.74" cy="99.14" r="0.31" opacity="0.28"/>
<circle cx="241.05" cy="85.33" r="0.31" opacity="0.08"/>
<circle cx="304.71" cy="77.8" r="0.31" opacity="0.13"/>
<circle cx="285.69" cy="65.78" r="0.36" opacity="0.08"/>
<circle cx="240.1" cy="64.85" r="0.33" opacity="0.34"/>
<circle cx="222.3" cy="73.41" r="0.5" opacity="0.05"/>
<circle cx="292.15" cy="73.81" r="0.54" opacity="0.05"/>
<circle cx="301.1" cy="78.43" r="0.3" opacity="0.05"/>
<circle cx="303.9" cy="96.52" r="0.31" opacity="0.12"/>
<circle cx="312.76" cy="66.47" r="0.38" opacity="0.06"/>
<circle cx="231.47" cy="120.29" r="0.43" opacity="0.07"/>
<circle cx="279.06" cy="93.49" r="0.32" opacity="0.07"/>
<circle cx="279.49" cy="114.18" r="0.46" opacity="0.16"/>
<circle cx="292.85" cy="84.98" r="0.43" opacity="0.05"/>
<circle cx="301.5" cy="77.87" r="0.48" opacity="0.27"/>
<circle cx="312.56" cy="91.65" r="0.49" opacity="0.08"/>
<circle cx="232.13" cy="126.26" r="0.33" opacity="0.06"/>
<circle cx="252.69" cy="103.18" r="0.3" opacity="0.14"/>
<circle cx="260.98" cy="95.46" r="0.3" opacity="0.21"/>
<circle cx="247.12" cy="114.52" r="0.34" opacity="0.22"/>
<circle cx="317.43" cy="93.43" r="0.37" opacity="0.14"/>
<circle cx="231.72" cy="55.21" r="0.32" opacity="0.25"/>
<circle cx="289.1" cy="64.21" r="0.3" opacity="0.17"/>
<circle cx="275.49" cy="96.17" r="0.42" opacity="0.06"/>
<circle cx="266.29" cy="94.01" r="0.32" opacity="0.06"/>
<circle cx="256.52" cy="58.55" r="0.39" opacity="0.27"/>
<circle cx="227.82" cy="101.03" r="0.44" opacity="0.06"/>
<circle cx="254.64" cy="86.18" r="0.48" opacity="0.14"/>
<circle cx="255.41" cy="136.94" r="0.45" opacity="0.09"/>
<circle cx="238.16" cy="77.86" r="0.35" opacity="0.33"/>
<circle cx="239.15" cy="86.34" r="0.4" opacity="0.1"/>
<circle cx="270.42" cy="51.95" r="0.35" opacity="0.14"/>
<circle cx="315.53" cy="106.92" r="0.46" opacity="0.28"/>
<circle cx="282.72" cy="71.1" r="0.42" opacity="0.08"/>
<circle cx="271.69" cy="135.3" r="0.4" opacity="0.07"/>
<circle cx="269.26" cy="87.47" r="0.53" opacity="0.08"/>
<circle cx="245.39" cy="108.31" r="0.3" opacity="0.16"/>
<circle cx="317.66" cy="95.28" r="0.32" opacity="0.12"/>
<circle cx="270.76" cy="59.66" r="0.3" opacity="0.06"/>
<circle cx="244.08" cy="84.82" r="0.32" opacity="0.07"/>
<circle cx="221.22" cy="98.45" r="0.48" opacity="0.17"/>
<circle cx="274.79" cy="108.59" r="0.31" opacity="0.21"/>
<circle cx="262.66" cy="98.61" r="0.39" opacity="0.12"/>
<circle cx="245.95" cy="68.81" r="0.31" opacity="0.14"/>
<circle cx="254.02" cy="102.28" r="0.3" opacity="0.1"/>
<circle cx="307.19" cy="68.45" r="0.38" opacity="0.13"/>
<circle cx="244.29" cy="120.46" r="0.31" opacity="0.05"/>
<circle cx="308.24" cy="88.08" r="0.3" opacity="0.1"/>
<circle cx="260.32" cy="116.88" r="0.3" opacity="0.07"/>
<circle cx="228.63" cy="78.05" r="0.33" opacity="0.19"/>
<circle cx="279.92" cy="128.05" r="0.47" opacity="0.14"/>
<circle cx="293.52" cy="117.64" r="0.44" opacity="0.13"/>
<circle cx="298.65" cy="114.26" r="0.51" opacity="0.06"/>
<circle cx="296.51" cy="102.3" r="0.36" opacity="0.32"/>
<circle cx="274.99" cy="85.93" r="0.45" opacity="0.28"/>
<circle cx="278.92" cy="82.19" r="0.35" opacity="0.12"/>
<circle cx="291.77" cy="73.75" r="0.34" opacity="0.15"/>
<circle cx="254.17" cy="76.58" r="0.45" opacity="0.27"/>
<circle cx="266.95" cy="88.48" r="0.31" opacity="0.08"/>
<circle cx="227.57" cy="101.29" r="0.38" opacity="0.05"/>
<circle cx="313.67" cy="76.77" r="0.48" opacity="0.26"/>
<circle cx="258.83" cy="133.95" r="0.3" opacity="0.05"/>
<circle cx="274.21" cy="93.67" r="0.51" opacity="0.23"/>
<circle cx="268.94" cy="95.62" r="0.42" opacity="0.1"/>
<circle cx="251.2" cy="103.17" r="0.33" opacity="0.31"/>
<circle cx="286.6" cy="96.39" r="0.3" opacity="0.1"/>
<circle cx="255.99" cy="99.91" r="0.38" opacity="0.28"/>
<circle cx="318.59" cy="92.64" r="0.35" opacity="0.17"/>
<circle cx="270.35" cy="124.72" r="0.31" opacity="0.09"/>
<circle cx="268.4" cy="55.97" r="0.5" opacity="0.2"/>
<circle cx="310.11" cy="86.22" r="0.31" opacity="0.08"/>
<circle cx="268.29" cy="94.41" r="0.31" opacity="0.06"/>
<circle cx="281.45" cy="103.98" r="0.33" opacity="0.34"/>
<circle cx="257.16" cy="121.97" r="0.32" opacity="0.2"/>
<circle cx="305" cy="102.34" r="0.41" opacity="0.07"/>
<circle cx="266.76" cy="99.12" r="0.32" opacity="0.18"/>
<circle cx="275.27" cy="85.27" r="0.3" opacity="0.06"/>
<circle cx="295.82" cy="55.59" r="0.3" opacity="0.06"/>
<circle cx="269.5" cy="125.43" r="0.39" opacity="0.25"/>
<circle cx="297.05" cy="76.66" r="0.43" opacity="0.1"/>
<circle cx="230.28" cy="71.19" r="0.3" opacity="0.29"/>
<circle cx="276.14" cy="79.21" r="0.35" opacity="0.1"/>
<circle cx="260.3" cy="105.65" r="0.32" opacity="0.05"/>
<circle cx="302.09" cy="74.8" r="0.39" opacity="0.32"/>
<circle cx="266.51" cy="137.77" r="0.31" opacity="0.1"/>
<circle cx="291.26" cy="66.78" r="0.32" opacity="0.28"/>
<circle cx="265.27" cy="122.47" r="0.31" opacity="0.06"/>
<circle cx="251.27" cy="63.38" r="0.54" opacity="0.08"/>
<circle cx="273.83" cy="56.4" r="0.37" opacity="0.1"/>
<circle cx="256.25" cy="51.58" r="0.3" opacity="0.26"/>
<circle cx="250.48" cy="69.07" r="0.31" opacity="0.08"/>
<circle cx="285.25" cy="78.48" r="0.31" opacity="0.21"/>
<circle cx="221.75" cy="71.48" r="0.47" opacity="0.06"/>
<circle cx="260.7" cy="126.71" r="0.46" opacity="0.06"/>
<circle cx="250.66" cy="115.62" r="0.34" opacity="0.32"/>
<circle cx="267.54" cy="67.35" r="0.35" opacity="0.06"/>
<circle cx="289.93" cy="70.62" r="0.5" opacity="0.16"/>
<circle cx="252.34" cy="69.2" r="0.39" opacity="0.07"/>
<circle cx="268.45" cy="98.08" r="0.32" opacity="0.23"/>
<circle cx="254.21" cy="109.29" r="0.38" opacity="0.09"/>
<circle cx="254.78" cy="53.59" r="0.31" opacity="0.27"/>
<circle cx="247.12" cy="109.8" r="0.3" opacity="0.15"/>
<circle cx="251.62" cy="93.97" r="0.32" opacity="0.05"/>
<circle cx="246.04" cy="67.27" r="0.3" opacity="0.21"/>
<circle cx="242.83" cy="84.52" r="0.51" opacity="0.23"/>
<circle cx="226.15" cy="72.15" r="0.3" opacity="0.2"/>
<circle cx="285.51" cy="51.14" r="0.3" opacity="0.23"/>
<circle cx="301.8" cy="133.38" r="0.3" opacity="0.05"/>
<circle cx="213.2" cy="53.68" r="0.33" opacity="0.08"/>
<circle cx="194.18" cy="71.16" r="0.42" opacity="0.06"/>
<circle cx="318.13" cy="111.32" r="0.45" opacity="0.07"/>
<circle cx="242.17" cy="23.15" r="0.51" opacity="0.18"/>
<circle cx="232.45" cy="29.65" r="0.52" opacity="0.13"/>
<circle cx="195.43" cy="60.87" r="0.3" opacity="0.18"/>
<circle cx="220.65" cy="164.65" r="0.47" opacity="0.05"/>
<circle cx="303.9" cy="151.37" r="0.32" opacity="0.05"/>
<circle cx="334.69" cy="88.67" r="0.56" opacity="0.15"/>
<circle cx="302.51" cy="151.57" r="0.42" opacity="0.09"/>
<circle cx="196.51" cy="131.16" r="0.36" opacity="0.11"/>
<circle cx="331.87" cy="42.77" r="0.47" opacity="0.05"/>
<circle cx="296.95" cy="147.81" r="0.32" opacity="0.11"/>
<circle cx="338.26" cy="121.75" r="0.39" opacity="0.06"/>
<circle cx="197.3" cy="78.43" r="0.35" opacity="0.06"/>
<circle cx="236.2" cy="44.15" r="0.45" opacity="0.15"/>
<circle cx="224.95" cy="60.44" r="0.38" opacity="0.09"/>
<circle cx="333.06" cy="77.44" r="0.33" opacity="0.21"/>
<circle cx="210.08" cy="110.25" r="0.33" opacity="0.19"/>
<circle cx="273.03" cy="140.8" r="0.31" opacity="0.14"/>
<circle cx="306.78" cy="151.75" r="0.3" opacity="0.07"/>
<circle cx="197.45" cy="66.51" r="0.31" opacity="0.15"/>
<circle cx="257.5" cy="40.5" r="0.33" opacity="0.1"/>
<circle cx="199.22" cy="24.68" r="0.6" opacity="0.17"/>
<circle cx="201.11" cy="134.09" r="0.59" opacity="0.12"/>
<circle cx="204.95" cy="98.73" r="0.36" opacity="0.06"/>
<circle cx="272.22" cy="24.29" r="0.55" opacity="0.14"/>
<circle cx="285.34" cy="167.87" r="0.43" opacity="0.07"/>
<circle cx="226.2" cy="44.48" r="0.3" opacity="0.18"/>
<circle cx="216.87" cy="121.84" r="0.51" opacity="0.23"/>
<circle cx="214.19" cy="144.54" r="0.51" opacity="0.17"/>
<circle cx="245.3" cy="151.78" r="0.32" opacity="0.05"/>
<circle cx="315.08" cy="132.29" r="0.55" opacity="0.24"/>
<circle cx="212.49" cy="69.4" r="0.4" opacity="0.05"/>
<circle cx="294.67" cy="48.35" r="0.36" opacity="0.25"/>
<circle cx="201.99" cy="29.19" r="0.36" opacity="0.06"/>
<circle cx="300.09" cy="23.43" r="0.51" opacity="0.2"/>
<circle cx="291.28" cy="150.96" r="0.55" opacity="0.06"/>
<circle cx="218.37" cy="36.17" r="0.33" opacity="0.1"/>
<circle cx="338.55" cy="163.76" r="0.52" opacity="0.25"/>
<circle cx="337.09" cy="119.02" r="0.5" opacity="0.05"/>
<circle cx="335.69" cy="97.47" r="0.43" opacity="0.07"/>
<circle cx="241.29" cy="160.1" r="0.3" opacity="0.06"/>
<circle cx="201.3" cy="125.31" r="0.34" opacity="0.12"/>
<circle cx="205.8" cy="50.96" r="0.54" opacity="0.11"/>
<circle cx="205.49" cy="156.55" r="0.32" opacity="0.05"/>
<circle cx="205.61" cy="102.49" r="0.4" opacity="0.05"/>
<circle cx="251.3" cy="34.38" r="0.36" opacity="0.21"/>
<circle cx="305.34" cy="40.75" r="0.59" opacity="0.16"/>
<circle cx="203.91" cy="151.6" r="0.35" opacity="0.06"/>
<circle cx="336.81" cy="110.21" r="0.48" opacity="0.06"/>
<circle cx="308.33" cy="31.92" r="0.32" opacity="0.08"/>
<circle cx="190.45" cy="115.06" r="0.31" opacity="0.07"/>
<circle cx="325.75" cy="119.22" r="0.53" opacity="0.12"/>
<circle cx="330.22" cy="157.88" r="0.31" opacity="0.17"/>
<circle cx="240.98" cy="141.28" r="0.44" opacity="0.19"/>
<circle cx="207.11" cy="80.78" r="0.46" opacity="0.24"/>
<circle cx="299.9" cy="29.74" r="0.41" opacity="0.05"/>
<circle cx="273.11" cy="147.39" r="0.3" opacity="0.23"/>
<circle cx="218.02" cy="92.2" r="0.51" opacity="0.12"/>
<circle cx="205.69" cy="26.25" r="0.3" opacity="0.19"/>
<circle cx="216.8" cy="108.85" r="0.33" opacity="0.15"/>
<circle cx="247.09" cy="45.34" r="0.53" opacity="0.11"/>
<circle cx="294.91" cy="148.19" r="0.57" opacity="0.05"/>
<circle cx="241.13" cy="46.38" r="0.38" opacity="0.21"/>
<circle cx="312.09" cy="28.49" r="0.31" opacity="0.19"/>
<circle cx="323.33" cy="117.62" r="0.3" opacity="0.07"/>
<circle cx="221.61" cy="161.48" r="0.4" opacity="0.05"/>
<circle cx="214.39" cy="78.92" r="0.37" opacity="0.12"/>
<circle cx="189.03" cy="112.71" r="0.33" opacity="0.05"/>
<circle cx="259.26" cy="175.79" r="0.3" opacity="0.06"/>
<circle cx="269.91" cy="171.23" r="0.6" opacity="0.05"/>
<circle cx="274.94" cy="142.41" r="0.53" opacity="0.18"/>
<circle cx="311.29" cy="158.2" r="0.56" opacity="0.15"/>
<circle cx="235.19" cy="141.24" r="0.46" opacity="0.11"/>
<circle cx="197.46" cy="75.23" r="0.33" opacity="0.26"/>
<circle cx="225.81" cy="59.37" r="0.34" opacity="0.06"/>
<circle cx="189.22" cy="157.91" r="0.36" opacity="0.09"/>
<circle cx="214.27" cy="33.27" r="0.33" opacity="0.07"/>
<circle cx="333.31" cy="75.74" r="0.55" opacity="0.12"/>
<circle cx="200.5" cy="50.69" r="0.4" opacity="0.25"/>
<circle cx="243.4" cy="142.96" r="0.36" opacity="0.21"/>
<circle cx="198.59" cy="98.05" r="0.54" opacity="0.07"/>
<circle cx="227.99" cy="26.57" r="0.31" opacity="0.07"/>
<circle cx="281.49" cy="156.84" r="0.43" opacity="0.06"/>
<circle cx="301.78" cy="172.19" r="0.41" opacity="0.05"/>
<circle cx="313.49" cy="158.62" r="0.33" opacity="0.06"/>
<circle cx="217.25" cy="106.17" r="0.53" opacity="0.14"/>
<circle cx="331.06" cy="55.87" r="0.33" opacity="0.17"/>
<circle cx="197" cy="87.17" r="0.3" opacity="0.13"/>
<circle cx="259.88" cy="25.11" r="0.56" opacity="0.12"/>
<circle cx="341.07" cy="31.68" r="0.41" opacity="0.16"/>
<circle cx="239.09" cy="37.48" r="0.31" opacity="0.06"/>
<circle cx="306.94" cy="36.92" r="0.5" opacity="0.09"/>
<circle cx="298.3" cy="141.24" r="0.48" opacity="0.07"/>
<circle cx="307.78" cy="174.4" r="0.36" opacity="0.07"/>
<circle cx="269.16" cy="168.75" r="0.31" opacity="0.05"/>
<circle cx="341.38" cy="58.34" r="0.47" opacity="0.05"/>
<circle cx="192.43" cy="43.78" r="0.3" opacity="0.1"/>
<circle cx="333.67" cy="79.63" r="0.31" opacity="0.06"/>
<circle cx="302.38" cy="165.73" r="0.31" opacity="0.05"/>
<circle cx="340.26" cy="100.29" r="0.42" opacity="0.08"/>
<circle cx="238.26" cy="162.95" r="0.3" opacity="0.16"/>
<circle cx="198.24" cy="122.98" r="0.35" opacity="0.21"/>
<circle cx="197.39" cy="110.39" r="0.35" opacity="0.23"/>
<circle cx="334.47" cy="120.14" r="0.32" opacity="0.07"/>
<circle cx="223.94" cy="54.48" r="0.47" opacity="0.14"/>
<circle cx="234.33" cy="177.02" r="0.31" opacity="0.12"/>
<circle cx="212.38" cy="156.69" r="0.53" opacity="0.07"/>
<circle cx="304.51" cy="150.46" r="0.32" opacity="0.07"/>
<circle cx="263.31" cy="161.01" r="0.31" opacity="0.15"/>
<circle cx="277.82" cy="159.75" r="0.31" opacity="0.21"/>
<circle cx="243.92" cy="143.79" r="0.52" opacity="0.06"/>
<circle cx="321.93" cy="177.1" r="0.33" opacity="0.05"/>
<circle cx="205.38" cy="173.92" r="0.3" opacity="0.22"/>
<circle cx="211.46" cy="137.01" r="0.3" opacity="0.06"/>
<circle cx="293.86" cy="36.98" r="0.33" opacity="0.23"/>
<circle cx="299.06" cy="159.61" r="0.59" opacity="0.05"/>
<circle cx="224.44" cy="145.7" r="0.44" opacity="0.05"/>
<circle cx="254.78" cy="39.24" r="0.3" opacity="0.26"/>
<circle cx="237.12" cy="159.09" r="0.3" opacity="0.1"/>
<circle cx="209.14" cy="89.37" r="0.31" opacity="0.15"/>
<circle cx="211.02" cy="137.35" r="0.38" opacity="0.05"/>
<circle cx="330.41" cy="77.13" r="0.31" opacity="0.25"/>
<circle cx="324.9" cy="136.29" r="0.32" opacity="0.06"/>
<circle cx="229.09" cy="33.68" r="0.3" opacity="0.11"/>
<circle cx="244.27" cy="24.64" r="0.44" opacity="0.14"/>
<circle cx="295.03" cy="175.17" r="0.53" opacity="0.16"/>
<circle cx="253.03" cy="173.71" r="0.34" opacity="0.08"/>
<circle cx="251.6" cy="45.16" r="0.6" opacity="0.05"/>
<circle cx="282.25" cy="166.48" r="0.32" opacity="0.13"/>
<circle cx="218.84" cy="40.99" r="0.51" opacity="0.18"/>
<circle cx="328.83" cy="30.67" r="0.44" opacity="0.07"/>
<circle cx="236.99" cy="173.5" r="0.3" opacity="0.17"/>
<circle cx="279.85" cy="177.09" r="0.32" opacity="0.13"/>
<circle cx="222.68" cy="117.88" r="0.32" opacity="0.22"/>
<circle cx="222.37" cy="45.01" r="0.56" opacity="0.11"/>
<circle cx="314.09" cy="59.97" r="0.31" opacity="0.19"/>
<circle cx="316.27" cy="161.48" r="0.53" opacity="0.05"/>
<circle cx="247.16" cy="151.9" r="0.5" opacity="0.06"/>
<circle cx="211.93" cy="61.95" r="0.3" opacity="0.08"/>
<circle cx="258.24" cy="36.63" r="0.35" opacity="0.26"/>
<circle cx="262.19" cy="146.65" r="0.47" opacity="0.06"/>
<circle cx="247.14" cy="25.75" r="0.31" opacity="0.12"/>
<circle cx="197.04" cy="50.64" r="0.45" opacity="0.07"/>
<circle cx="317.31" cy="37.15" r="0.42" opacity="0.21"/>
<circle cx="219.34" cy="88.55" r="0.49" opacity="0.13"/>
<circle cx="245.66" cy="29.8" r="0.36" opacity="0.08"/>
<circle cx="331.35" cy="52.68" r="0.58" opacity="0.16"/>
<circle cx="239.13" cy="33.96" r="0.47" opacity="0.08"/>
<circle cx="327.71" cy="140.26" r="0.3" opacity="0.13"/>
<circle cx="261.46" cy="160.92" r="0.36" opacity="0.1"/>
<circle cx="267.38" cy="150.74" r="0.43" opacity="0.17"/>
<circle cx="250.32" cy="29.29" r="0.44" opacity="0.12"/>
<circle cx="307.25" cy="142.25" r="0.3" opacity="0.06"/>
<circle cx="200.05" cy="149.63" r="0.3" opacity="0.05"/>
<circle cx="196.62" cy="128.48" r="0.45" opacity="0.1"/>
<circle cx="196.59" cy="130.04" r="0.35" opacity="0.12"/>
<circle cx="342.7" cy="149.53" r="0.53" opacity="0.06"/>
<circle cx="189.03" cy="176.15" r="0.32" opacity="0.07"/>
<circle cx="321.14" cy="109.08" r="0.38" opacity="0.09"/>
<circle cx="196.02" cy="70.17" r="0.53" opacity="0.19"/>
<circle cx="320.79" cy="62.82" r="0.31" opacity="0.05"/>
<circle cx="312.24" cy="54.02" r="0.55" opacity="0.12"/>
<circle cx="196.02" cy="71.68" r="0.39" opacity="0.09"/>
<circle cx="230.47" cy="146.31" r="0.33" opacity="0.16"/>
<circle cx="312.4" cy="114.72" r="0.36" opacity="0.23"/>
<circle cx="257.01" cy="159.01" r="0.3" opacity="0.09"/>
<circle cx="287.12" cy="30.58" r="0.52" opacity="0.05"/>
<circle cx="280.46" cy="50.91" r="0.56" opacity="0.12"/>
<circle cx="292.48" cy="127.55" r="0.33" opacity="0.06"/>
<circle cx="317.95" cy="45.58" r="0.55" opacity="0.06"/>
<circle cx="203.72" cy="37.75" r="0.48" opacity="0.24"/>
<circle cx="228" cy="163.32" r="0.44" opacity="0.06"/>
<circle cx="196.88" cy="130.77" r="0.3" opacity="0.2"/>
<circle cx="274.93" cy="46.85" r="0.55" opacity="0.07"/>
<circle cx="318.42" cy="46.53" r="0.49" opacity="0.25"/>
<circle cx="248.74" cy="28.1" r="0.34" opacity="0.14"/>
<circle cx="202.6" cy="94.94" r="0.46" opacity="0.09"/>
<circle cx="293.26" cy="40.72" r="0.51" opacity="0.06"/>
<circle cx="331.12" cy="177.3" r="0.56" opacity="0.11"/>
<circle cx="332.13" cy="37.4" r="0.37" opacity="0.21"/>
<circle cx="201.8" cy="44.64" r="0.32" opacity="0.22"/>
<circle cx="319.05" cy="58.19" r="0.56" opacity="0.05"/>
<circle cx="280.85" cy="172.84" r="0.34" opacity="0.24"/>
<circle cx="289.8" cy="30.75" r="0.33" opacity="0.09"/>
<circle cx="226.42" cy="137.99" r="0.31" opacity="0.18"/>
<circle cx="234.3" cy="33.75" r="0.39" opacity="0.05"/>
<circle cx="273.54" cy="145.06" r="0.41" opacity="0.1"/>
<circle cx="193.32" cy="102.52" r="0.3" opacity="0.14"/>
<circle cx="208.54" cy="112.53" r="0.34" opacity="0.08"/>
<circle cx="290.82" cy="48.39" r="0.31" opacity="0.24"/>
<circle cx="239.47" cy="153.47" r="0.53" opacity="0.1"/>
<circle cx="211.19" cy="37.56" r="0.53" opacity="0.05"/>
<circle cx="206.31" cy="95.46" r="0.31" opacity="0.11"/>
<circle cx="219.62" cy="42.69" r="0.32" opacity="0.21"/>
<circle cx="265.83" cy="160.96" r="0.3" opacity="0.24"/>
<circle cx="263.75" cy="145.53" r="0.4" opacity="0.15"/>
<circle cx="223.61" cy="139.18" r="0.31" opacity="0.07"/>
<circle cx="192.89" cy="83.92" r="0.38" opacity="0.07"/>
<circle cx="326.04" cy="36.06" r="0.4" opacity="0.06"/>
<circle cx="280.31" cy="144.44" r="0.45" opacity="0.05"/>
<circle cx="340.36" cy="29.39" r="0.41" opacity="0.15"/>
<circle cx="330.74" cy="24.67" r="0.57" opacity="0.09"/>
<circle cx="251.16" cy="36.64" r="0.32" opacity="0.16"/>
<circle cx="293.25" cy="46.43" r="0.34" opacity="0.06"/>
<circle cx="218.8" cy="57.02" r="0.33" opacity="0.25"/>
<circle cx="342.58" cy="145.62" r="0.37" opacity="0.1"/>
<circle cx="308.81" cy="163.66" r="0.47" opacity="0.14"/>
<circle cx="218.93" cy="119.84" r="0.51" opacity="0.18"/>
<circle cx="202.41" cy="134.13" r="0.34" opacity="0.06"/>
<circle cx="337.69" cy="127.2" r="0.47" opacity="0.06"/>
<circle cx="316.42" cy="168.16" r="0.55" opacity="0.17"/>
<circle cx="317.05" cy="147.26" r="0.4" opacity="0.09"/>
<circle cx="315.92" cy="144.51" r="0.53" opacity="0.07"/>
<circle cx="336.95" cy="105.36" r="0.57" opacity="0.05"/>
<circle cx="338.11" cy="144.98" r="0.32" opacity="0.2"/>
<circle cx="224.05" cy="53.67" r="0.36" opacity="0.06"/>
<circle cx="264.41" cy="163.67" r="0.44" opacity="0.16"/>
<circle cx="248.82" cy="144.42" r="0.49" opacity="0.15"/>
<circle cx="333.97" cy="150.91" r="0.35" opacity="0.05"/>
<circle cx="289.17" cy="152.54" r="0.33" opacity="0.13"/>
<circle cx="317.64" cy="145.83" r="0.3" opacity="0.1"/>
<circle cx="190.63" cy="40.13" r="0.5" opacity="0.09"/>
<circle cx="242.89" cy="153.82" r="0.42" opacity="0.07"/>
<circle cx="201.73" cy="64.98" r="0.45" opacity="0.09"/>
<circle cx="290.49" cy="148.02" r="0.3" opacity="0.15"/>
<circle cx="194.53" cy="150.47" r="0.31" opacity="0.07"/>
<circle cx="336.45" cy="79.13" r="0.32" opacity="0.22"/>
<circle cx="282.63" cy="161.46" r="0.35" opacity="0.1"/>
<circle cx="336.15" cy="101.5" r="0.59" opacity="0.06"/>
<circle cx="316.76" cy="48.13" r="0.38" opacity="0.05"/>
<circle cx="215.26" cy="169.38" r="0.36" opacity="0.19"/>
<circle cx="203.73" cy="108.61" r="0.52" opacity="0.11"/>
<circle cx="246.45" cy="166.84" r="0.54" opacity="0.14"/>
<circle cx="199.86" cy="119.66" r="0.36" opacity="0.24"/>
<circle cx="328.62" cy="100.16" r="0.34" opacity="0.25"/>
<circle cx="196.93" cy="152.31" r="0.44" opacity="0.12"/>
<circle cx="326.13" cy="135.9" r="0.47" opacity="0.05"/>
<circle cx="238.47" cy="44.22" r="0.57" opacity="0.22"/>
<circle cx="210.49" cy="114.01" r="0.4" opacity="0.05"/>
<circle cx="248.85" cy="138.77" r="0.42" opacity="0.07"/>
<circle cx="339.62" cy="123.5" r="0.49" opacity="0.15"/>
<circle cx="247.04" cy="172.17" r="0.45" opacity="0.15"/>
<circle cx="231.08" cy="48.07" r="0.4" opacity="0.19"/>
<circle cx="209.77" cy="102.93" r="0.53" opacity="0.06"/>
<circle cx="302.47" cy="49.44" r="0.33" opacity="0.05"/>
<circle cx="337.88" cy="172.03" r="0.31" opacity="0.07"/>
<circle cx="334.28" cy="53.57" r="0.33" opacity="0.09"/>
<circle cx="204.9" cy="63.31" r="0.35" opacity="0.08"/>
<circle cx="337.36" cy="64.33" r="0.31" opacity="0.22"/>
<circle cx="257.84" cy="152.67" r="0.42" opacity="0.18"/>
<circle cx="236.86" cy="46.56" r="0.47" opacity="0.1"/>
<circle cx="244.29" cy="165.12" r="0.38" opacity="0.07"/>
<circle cx="307.58" cy="29.4" r="0.51" opacity="0.12"/>
<circle cx="242.88" cy="168.59" r="0.32" opacity="0.06"/>
<circle cx="198.92" cy="107.97" r="0.47" opacity="0.15"/>
<circle cx="252.03" cy="148.12" r="0.3" opacity="0.07"/>
<circle cx="287.98" cy="172.83" r="0.42" opacity="0.15"/>
<circle cx="333.76" cy="138.01" r="0.34" opacity="0.08"/>
<circle cx="216.87" cy="158.01" r="0.38" opacity="0.11"/>
<circle cx="291.79" cy="162.64" r="0.31" opacity="0.08"/>
<circle cx="198.32" cy="87.01" r="0.38" opacity="0.2"/>
<circle cx="230.51" cy="153.86" r="0.49" opacity="0.2"/>
<circle cx="211.51" cy="127.02" r="0.47" opacity="0.1"/>
<circle cx="327.25" cy="162.23" r="0.47" opacity="0.19"/>
<circle cx="288.61" cy="159.11" r="0.31" opacity="0.16"/>
<circle cx="230.71" cy="33.43" r="0.41" opacity="0.19"/>
<circle cx="222.78" cy="37.54" r="0.44" opacity="0.25"/>
<circle cx="296.44" cy="34.18" r="0.51" opacity="0.07"/>
<circle cx="188.63" cy="120.47" r="0.31" opacity="0.07"/>
<circle cx="197.25" cy="92.04" r="0.39" opacity="0.19"/>
<circle cx="194.23" cy="151.16" r="0.3" opacity="0.06"/>
<circle cx="221.85" cy="145.91" r="0.31" opacity="0.2"/>
<circle cx="192.82" cy="143.53" r="0.3" opacity="0.1"/>
<circle cx="253.76" cy="32.77" r="0.42" opacity="0.16"/>
<circle cx="223.15" cy="157.4" r="0.6" opacity="0.19"/>
<circle cx="337.01" cy="74.03" r="0.59" opacity="0.05"/>
<circle cx="262.12" cy="43.72" r="0.36" opacity="0.15"/>
<circle cx="218.18" cy="137.01" r="0.38" opacity="0.09"/>
<circle cx="218.72" cy="132.01" r="0.31" opacity="0.07"/>
<circle cx="338.82" cy="138.81" r="0.57" opacity="0.23"/>
<circle cx="300.02" cy="134.45" r="0.3" opacity="0.06"/>
<circle cx="190.12" cy="156.77" r="0.46" opacity="0.13"/>
<circle cx="213.45" cy="120.93" r="0.59" opacity="0.07"/>
<circle cx="194.95" cy="50.13" r="0.34" opacity="0.22"/>
<circle cx="203.92" cy="39.53" r="0.31" opacity="0.18"/>
<circle cx="261.1" cy="176.44" r="0.55" opacity="0.18"/>
<circle cx="261.87" cy="150.31" r="0.3" opacity="0.05"/>
<circle cx="220.52" cy="62.03" r="0.3" opacity="0.22"/>
<circle cx="298.11" cy="169.43" r="0.59" opacity="0.09"/>
<circle cx="313.86" cy="153.33" r="0.31" opacity="0.05"/>
<circle cx="246.79" cy="24.41" r="0.51" opacity="0.18"/>
<circle cx="259.93" cy="29.7" r="0.54" opacity="0.11"/>
<circle cx="199.09" cy="73.09" r="0.42" opacity="0.22"/>
<circle cx="219.97" cy="60.7" r="0.55" opacity="0.08"/>
<circle cx="204.21" cy="114.58" r="0.3" opacity="0.06"/>
<circle cx="286.68" cy="132.51" r="0.36" opacity="0.05"/>
<circle cx="300.32" cy="31.33" r="0.37" opacity="0.09"/>
<circle cx="292.33" cy="133.56" r="0.32" opacity="0.14"/>
<circle cx="210.06" cy="163.81" r="0.41" opacity="0.05"/>
<circle cx="225.06" cy="175.86" r="0.32" opacity="0.08"/>
<circle cx="310.17" cy="150.61" r="0.42" opacity="0.17"/>
<circle cx="194.03" cy="37.53" r="0.59" opacity="0.19"/>
<circle cx="194" cy="30.54" r="0.32" opacity="0.23"/>
<circle cx="222.11" cy="127.07" r="0.56" opacity="0.14"/>
<circle cx="330.5" cy="63.73" r="0.31" opacity="0.05"/>
<circle cx="305.38" cy="39.08" r="0.58" opacity="0.16"/>
<circle cx="217.06" cy="148.01" r="0.31" opacity="0.11"/>
<circle cx="204.49" cy="144.9" r="0.54" opacity="0.23"/>
<circle cx="188.45" cy="154.88" r="0.39" opacity="0.19"/>
<circle cx="280.2" cy="146.84" r="0.3" opacity="0.05"/>
<circle cx="249.59" cy="24.18" r="0.47" opacity="0.05"/>
<circle cx="316.61" cy="148.71" r="0.36" opacity="0.06"/>
<circle cx="254.56" cy="40.1" r="0.59" opacity="0.11"/>
<circle cx="242.71" cy="37.57" r="0.46" opacity="0.2"/>
<circle cx="319.51" cy="38.71" r="0.34" opacity="0.07"/>
<circle cx="306.2" cy="45.9" r="0.41" opacity="0.25"/>
<circle cx="307.19" cy="24.08" r="0.3" opacity="0.05"/>
<circle cx="288.56" cy="164.95" r="0.46" opacity="0.18"/>
<circle cx="329.5" cy="152.68" r="0.45" opacity="0.05"/>
<circle cx="293.57" cy="154.66" r="0.36" opacity="0.21"/>
<circle cx="215.95" cy="169.03" r="0.36" opacity="0.16"/>
<circle cx="202.77" cy="91.6" r="0.59" opacity="0.14"/>
<circle cx="332.5" cy="141.09" r="0.51" opacity="0.26"/>
<circle cx="191.34" cy="58.75" r="0.54" opacity="0.23"/>
<circle cx="239.02" cy="142.34" r="0.48" opacity="0.22"/>
<circle cx="204.34" cy="150.86" r="0.33" opacity="0.13"/>
<circle cx="260.83" cy="111.96" r="0.67" opacity="0.21"/>
<circle cx="254.36" cy="96.36" r="0.42" opacity="0.86"/>
<circle cx="249.64" cy="115.8" r="0.49" opacity="0.9"/>
<circle cx="276.43" cy="104.8" r="0.33" opacity="0.81"/>
<circle cx="278.51" cy="100.86" r="0.5" opacity="0.93"/>
<circle cx="275.28" cy="112.49" r="0.49" opacity="0.55"/>
<circle cx="269.54" cy="78.26" r="0.32" opacity="0.24"/>
<circle cx="286.61" cy="103.45" r="0.32" opacity="0.24"/>
<circle cx="285.4" cy="95.85" r="0.44" opacity="0.52"/>
<circle cx="256.15" cy="88.44" r="0.34" opacity="0.19"/>
<circle cx="271.72" cy="100.91" r="0.35" opacity="0.21"/>
<circle cx="279.74" cy="109.88" r="0.68" opacity="0.55"/>
<circle cx="267.23" cy="122.03" r="0.31" opacity="0.2"/>
<circle cx="266.3" cy="112.59" r="0.49" opacity="0.34"/>
<circle cx="269.33" cy="94.25" r="0.65" opacity="0.28"/>
<circle cx="271.36" cy="97.18" r="0.57" opacity="0.23"/>
<circle cx="282.15" cy="81.49" r="0.48" opacity="0.25"/>
<circle cx="277.13" cy="100.52" r="0.63" opacity="0.21"/>
<circle cx="262.1" cy="85.45" r="0.47" opacity="0.21"/>
<circle cx="273.08" cy="104.61" r="0.69" opacity="0.3"/>
<circle cx="261.77" cy="86.21" r="0.32" opacity="0.19"/>
<circle cx="291.43" cy="102.36" r="0.31" opacity="0.89"/>
<circle cx="258.46" cy="115.73" r="0.31" opacity="0.66"/>
<circle cx="269.89" cy="112.42" r="0.41" opacity="0.2"/>
<circle cx="270.21" cy="123.18" r="0.33" opacity="0.3"/>
<circle cx="270.73" cy="90.78" r="0.32" opacity="0.23"/>
<circle cx="262.17" cy="108.25" r="0.46" opacity="0.36"/>
<circle cx="272.42" cy="96.94" r="0.48" opacity="0.72"/>
<circle cx="270.26" cy="103.16" r="0.38" opacity="0.2"/>
<circle cx="253.2" cy="105.1" r="0.3" opacity="0.2"/>
<circle cx="263.26" cy="101.03" r="0.32" opacity="0.34"/>
<circle cx="273.04" cy="103.3" r="0.35" opacity="0.36"/>
<circle cx="282.9" cy="93.58" r="0.3" opacity="0.23"/>
<circle cx="269.49" cy="83.29" r="0.6" opacity="0.89"/>
<circle cx="273.33" cy="95.11" r="0.66" opacity="0.4"/>
<circle cx="270.43" cy="107.94" r="0.6" opacity="0.22"/>
<circle cx="277.49" cy="105.09" r="0.64" opacity="0.35"/>
<circle cx="269.49" cy="94.92" r="0.38" opacity="0.27"/>
<circle cx="274.49" cy="118.42" r="0.35" opacity="0.2"/>
<circle cx="282.55" cy="98.52" r="0.31" opacity="0.19"/>
<circle cx="262.43" cy="87.18" r="0.3" opacity="0.36"/>
<circle cx="269.18" cy="83.89" r="0.32" opacity="0.38"/>
<circle cx="257.38" cy="88.44" r="0.31" opacity="0.68"/>
<circle cx="287.02" cy="92.84" r="0.59" opacity="0.29"/>
<circle cx="275.71" cy="95.28" r="0.32" opacity="0.46"/>
<circle cx="273.71" cy="96.88" r="0.32" opacity="0.19"/>
<circle cx="264.39" cy="102.67" r="0.31" opacity="0.62"/>
<circle cx="247.44" cy="84.61" r="0.36" opacity="0.54"/>
<circle cx="296.7" cy="102.51" r="0.32" opacity="0.36"/>
<circle cx="243.3" cy="97.69" r="0.4" opacity="0.94"/>
<circle cx="264.44" cy="93.73" r="0.58" opacity="0.22"/>
<circle cx="282.15" cy="99.96" r="0.32" opacity="0.89"/>
<circle cx="265.1" cy="111.96" r="0.35" opacity="0.53"/>
<circle cx="280.54" cy="101.81" r="0.31" opacity="0.71"/>
<circle cx="285.04" cy="100.02" r="0.33" opacity="0.35"/>
<circle cx="253.94" cy="92.23" r="0.31" opacity="0.23"/>
<circle cx="290.3" cy="122.68" r="0.31" opacity="0.2"/>
<circle cx="255.62" cy="97.61" r="0.61" opacity="0.19"/>
<circle cx="270.66" cy="107.83" r="0.44" opacity="0.35"/>
<circle cx="250.63" cy="114.74" r="0.48" opacity="0.75"/>
<circle cx="266.78" cy="85.77" r="0.65" opacity="0.17"/>
<circle cx="296.28" cy="104.14" r="0.3" opacity="0.1"/>
<circle cx="245.52" cy="106.01" r="0.67" opacity="0.4"/>
<circle cx="226.32" cy="101.82" r="0.59" opacity="0.36"/>
<circle cx="234.95" cy="70.3" r="0.31" opacity="0.12"/>
<circle cx="234.05" cy="67.73" r="0.56" opacity="0.42"/>
<circle cx="263.99" cy="86.94" r="0.3" opacity="0.42"/>
<circle cx="237.41" cy="84.59" r="0.49" opacity="0.13"/>
<circle cx="251.77" cy="109.03" r="0.41" opacity="0.28"/>
<circle cx="282.39" cy="104.64" r="0.46" opacity="0.19"/>
<circle cx="231.46" cy="58.35" r="0.3" opacity="0.19"/>
<circle cx="234.88" cy="61.74" r="0.47" opacity="0.11"/>
<circle cx="287.31" cy="80.95" r="0.32" opacity="0.17"/>
<circle cx="264.47" cy="86.44" r="0.37" opacity="0.47"/>
<circle cx="262.95" cy="81.45" r="0.52" opacity="0.15"/>
<circle cx="230.55" cy="60.8" r="0.31" opacity="0.12"/>
<circle cx="253.78" cy="105.35" r="0.3" opacity="0.11"/>
<circle cx="230.89" cy="101.62" r="0.3" opacity="0.24"/>
<circle cx="276.99" cy="80.71" r="0.35" opacity="0.3"/>
<circle cx="237.39" cy="94.77" r="0.39" opacity="0.1"/>
<circle cx="244.15" cy="79.41" r="0.35" opacity="0.47"/>
<circle cx="254.4" cy="52.21" r="0.46" opacity="0.26"/>
<circle cx="262.42" cy="122.17" r="0.34" opacity="0.13"/>
<circle cx="262.97" cy="65.58" r="0.59" opacity="0.41"/>
<circle cx="237.59" cy="82.96" r="0.3" opacity="0.21"/>
<circle cx="247.32" cy="74.24" r="0.3" opacity="0.1"/>
<circle cx="265.75" cy="117.34" r="0.3" opacity="0.12"/>
<circle cx="246.71" cy="121.37" r="0.69" opacity="0.1"/>
<circle cx="288.71" cy="120.72" r="0.68" opacity="0.11"/>
<circle cx="236.34" cy="110.9" r="0.34" opacity="0.17"/>
<circle cx="233.13" cy="92.05" r="0.3" opacity="0.1"/>
<circle cx="255.03" cy="97.46" r="0.46" opacity="0.29"/>
<circle cx="246.83" cy="125.31" r="0.51" opacity="0.15"/>
<circle cx="235.8" cy="90.67" r="0.65" opacity="0.23"/>
<circle cx="262.07" cy="93.66" r="0.49" opacity="0.16"/>
<circle cx="246.73" cy="75.87" r="0.55" opacity="0.36"/>
<circle cx="274.25" cy="104.82" r="0.31" opacity="0.3"/>
<circle cx="262.96" cy="56.62" r="0.32" opacity="0.1"/>
<circle cx="235.31" cy="67.92" r="0.31" opacity="0.11"/>
<circle cx="240.87" cy="85.27" r="0.46" opacity="0.12"/>
<circle cx="248.76" cy="110.96" r="0.41" opacity="0.31"/>
<circle cx="284.66" cy="96.2" r="0.32" opacity="0.13"/>
<circle cx="228.47" cy="66.4" r="0.45" opacity="0.43"/>
<circle cx="255.34" cy="106.57" r="0.48" opacity="0.13"/>
<circle cx="258.67" cy="101.97" r="0.54" opacity="0.37"/>
<circle cx="255.21" cy="73.45" r="0.34" opacity="0.31"/>
<circle cx="278.33" cy="99.39" r="0.3" opacity="0.1"/>
<circle cx="237.45" cy="89.01" r="0.65" opacity="0.41"/>
<circle cx="235.82" cy="93.16" r="0.31" opacity="0.2"/>
<circle cx="229.3" cy="87.47" r="0.51" opacity="0.21"/>
<circle cx="251.66" cy="80.64" r="0.3" opacity="0.16"/>
<circle cx="233.3" cy="91.58" r="0.48" opacity="0.12"/>
<circle cx="239.59" cy="110.71" r="0.5" opacity="0.34"/>
<circle cx="233.43" cy="105.71" r="0.64" opacity="0.45"/>
<circle cx="242.39" cy="83.61" r="0.38" opacity="0.26"/>
<circle cx="248.91" cy="95.43" r="0.69" opacity="0.43"/>
<circle cx="266.98" cy="106.23" r="0.45" opacity="0.14"/>
<circle cx="283.32" cy="103.92" r="0.54" opacity="0.18"/>
<circle cx="268.9" cy="100.26" r="0.3" opacity="0.47"/>
<circle cx="267.2" cy="95.21" r="0.54" opacity="0.11"/>
<circle cx="204.58" cy="33.95" r="0.58" opacity="0.09"/>
<circle cx="316.98" cy="49.21" r="0.59" opacity="0.13"/>
<circle cx="253.97" cy="75.4" r="0.56" opacity="0.06"/>
<circle cx="338.43" cy="41.13" r="0.63" opacity="0.12"/>
<circle cx="326.05" cy="163.16" r="0.74" opacity="0.17"/>
<circle cx="281.55" cy="67.75" r="0.73" opacity="0.12"/>
<circle cx="301.65" cy="43.09" r="0.6" opacity="0.17"/>
<circle cx="204.65" cy="149.08" r="0.67" opacity="0.06"/>
<circle cx="227.57" cy="95.73" r="1" opacity="0.05"/>
<circle cx="320.3" cy="72.79" r="0.59" opacity="0.12"/>
<circle cx="240.95" cy="52.07" r="0.71" opacity="0.14"/>
<circle cx="321.62" cy="112.11" r="0.51" opacity="0.13"/>
<circle cx="281.93" cy="162.41" r="0.98" opacity="0.06"/>
<circle cx="319.36" cy="149.93" r="0.63" opacity="0.07"/>
<circle cx="246.06" cy="77.7" r="0.69" opacity="0.05"/>
<circle cx="223.24" cy="163.98" r="0.71" opacity="0.1"/>
<circle cx="325.36" cy="140.12" r="0.62" opacity="0.16"/>
<circle cx="312.51" cy="176.55" r="0.86" opacity="0.12"/>
<circle cx="313.87" cy="62.25" r="0.83" opacity="0.07"/>
<circle cx="318" cy="43.71" r="0.77" opacity="0.06"/>
<circle cx="315.05" cy="76.52" r="0.92" opacity="0.14"/>
<circle cx="324.06" cy="44.56" r="0.97" opacity="0.12"/>
<circle cx="292.82" cy="124.13" r="0.52" opacity="0.15"/>
<circle cx="272.84" cy="93.63" r="0.67" opacity="0.13"/>
<circle cx="309.11" cy="157.83" r="0.61" opacity="0.07"/>
<circle cx="226.67" cy="38.56" r="0.66" opacity="0.05"/>
<circle cx="311.33" cy="58.2" r="0.54" opacity="0.05"/>
<circle cx="302.75" cy="53.76" r="0.73" opacity="0.07"/>
<circle cx="312.23" cy="170.88" r="0.65" opacity="0.1"/>
<circle cx="326.52" cy="95.92" r="0.95" opacity="0.12"/>
<circle cx="236.29" cy="158.46" r="0.79" opacity="0.05"/>
<circle cx="278.98" cy="151.53" r="0.76" opacity="0.08"/>
<circle cx="252.52" cy="159.47" r="0.83" opacity="0.06"/>
<circle cx="244.16" cy="79.31" r="0.98" opacity="0.11"/>
<circle cx="207.42" cy="164.72" r="0.52" opacity="0.1"/>
<circle cx="254.99" cy="134.21" r="0.71" opacity="0.05"/>
<circle cx="269.11" cy="150.16" r="0.89" opacity="0.07"/>
<circle cx="222.49" cy="138.45" r="0.9" opacity="0.06"/>
<circle cx="324.72" cy="176.83" r="0.72" opacity="0.07"/>
<circle cx="297.91" cy="167.11" r="0.6" opacity="0.06"/>
<circle cx="239" cy="136.49" r="0.59" opacity="0.09"/>
<circle cx="265.5" cy="126.61" r="0.57" opacity="0.17"/>
<circle cx="342.79" cy="109.97" r="0.9" opacity="0.05"/>
<circle cx="328.91" cy="108.47" r="0.88" opacity="0.15"/>
<circle cx="244.06" cy="166.22" r="0.6" opacity="0.05"/>
<circle cx="265.82" cy="162.29" r="0.95" opacity="0.17"/>
<circle cx="267.12" cy="167.56" r="0.78" opacity="0.05"/>
<circle cx="285.73" cy="147.53" r="0.71" opacity="0.1"/>
<circle cx="228.19" cy="65.78" r="0.71" opacity="0.08"/>
<circle cx="260.54" cy="37.32" r="0.5" opacity="0.07"/>
<circle cx="299" cy="139" r="0.62" opacity="0.06"/>
<circle cx="268.03" cy="50.2" r="0.8" opacity="0.16"/>
<circle cx="219.35" cy="113.75" r="0.86" opacity="0.12"/>
<circle cx="298.26" cy="133.14" r="0.64" opacity="0.14"/>
<circle cx="331.21" cy="31.15" r="0.97" opacity="0.08"/>
<circle cx="201.46" cy="33.79" r="0.9" opacity="0.11"/>
<circle cx="210.08" cy="94.3" r="0.82" opacity="0.18"/>
<circle cx="240.09" cy="141.82" r="0.62" opacity="0.06"/>
<circle cx="213.04" cy="86.57" r="0.81" opacity="0.06"/>
<circle cx="213.15" cy="56.87" r="0.54" opacity="0.05"/>
<circle cx="236.95" cy="101.21" r="0.59" opacity="0.08"/>
<circle cx="256.14" cy="173.81" r="0.74" opacity="0.17"/>
<circle cx="261.03" cy="53.68" r="0.8" opacity="0.05"/>
<circle cx="214.27" cy="34.36" r="0.85" opacity="0.17"/>
<circle cx="250.51" cy="77.88" r="0.71" opacity="0.07"/>
<circle cx="294.95" cy="83.75" r="0.58" opacity="0.15"/>
<circle cx="276.68" cy="23.99" r="0.92" opacity="0.12"/>
<circle cx="242.94" cy="120.64" r="0.96" opacity="0.07"/>
<circle cx="255.02" cy="69.22" r="0.78" opacity="0.11"/>
<circle cx="301.81" cy="170.14" r="0.57" opacity="0.07"/>
<circle cx="319.84" cy="145.61" r="0.8" opacity="0.11"/>
<circle cx="240.71" cy="169.45" r="0.77" opacity="0.07"/>
<circle cx="216.32" cy="40.89" r="0.95" opacity="0.13"/>
<circle cx="192.24" cy="73.1" r="0.74" opacity="0.08"/>
<circle cx="244.33" cy="161.75" r="0.67" opacity="0.09"/>
<circle cx="331.88" cy="122.07" r="0.74" opacity="0.06"/>
<circle cx="247.99" cy="117.42" r="0.89" opacity="0.06"/>
<circle cx="245.41" cy="83.09" r="0.68" opacity="0.16"/>
<circle cx="271.47" cy="65.75" r="0.67" opacity="0.14"/>
<circle cx="212.89" cy="129.94" r="0.51" opacity="0.05"/>
<circle cx="197.3" cy="147.86" r="0.57" opacity="0.06"/>
<circle cx="197.01" cy="63.89" r="0.87" opacity="0.12"/>
<circle cx="328.93" cy="169.78" r="0.78" opacity="0.16"/>
<circle cx="201.96" cy="166.39" r="0.72" opacity="0.05"/>
<circle cx="303.82" cy="156.08" r="0.69" opacity="0.05"/>
<circle cx="323.14" cy="139.8" r="0.8" opacity="0.17"/>
<circle cx="193.99" cy="31.67" r="0.56" opacity="0.05"/>
<circle cx="297.67" cy="120.67" r="0.56" opacity="0.05"/>
<circle cx="216.09" cy="117.44" r="0.84" opacity="0.17"/>
<circle cx="243.89" cy="174.75" r="0.72" opacity="0.07"/>
<circle cx="227.29" cy="59.06" r="0.99" opacity="0.18"/>
<circle cx="297.3" cy="50.14" r="0.59" opacity="0.05"/>
<circle cx="242.4" cy="137.26" r="0.53" opacity="0.09"/>
<circle cx="293.41" cy="28.2" r="0.72" opacity="0.13"/>
<circle cx="277.16" cy="93" r="0.94" opacity="0.1"/>
<circle cx="240.23" cy="84.37" r="0.97" opacity="0.15"/>
<circle cx="329.63" cy="109.93" r="0.57" opacity="0.05"/>
<circle cx="247.4" cy="130.05" r="0.5" opacity="0.13"/>
<circle cx="309.69" cy="102.8" r="0.5" opacity="0.13"/>
<circle cx="252.16" cy="126.74" r="0.78" opacity="0.12"/>
<circle cx="251.34" cy="171.79" r="0.98" opacity="0.16"/>
<circle cx="283.27" cy="72.03" r="0.69" opacity="0.06"/>
<circle cx="327.92" cy="145.79" r="0.89" opacity="0.14"/>
<circle cx="341.37" cy="129.64" r="0.66" opacity="0.12"/>
<circle cx="228.68" cy="117.69" r="0.58" opacity="0.15"/>
<circle cx="263.71" cy="65.64" r="0.96" opacity="0.05"/>
<circle cx="332" cy="140.33" r="0.57" opacity="0.13"/>
<circle cx="276.79" cy="163.62" r="0.79" opacity="0.07"/>
<circle cx="332.49" cy="36.53" r="0.89" opacity="0.05"/>
<circle cx="230.9" cy="40.62" r="0.94" opacity="0.08"/>
<circle cx="300.47" cy="62.77" r="0.87" opacity="0.1"/>
<circle cx="203.2" cy="99.55" r="0.86" opacity="0.06"/>
<circle cx="289.32" cy="66.07" r="0.69" opacity="0.16"/>
<circle cx="333.99" cy="177.67" r="0.71" opacity="0.09"/>
<circle cx="313.17" cy="140.57" r="0.73" opacity="0.15"/>
<circle cx="250.17" cy="170.25" r="0.74" opacity="0.05"/>
<circle cx="303.99" cy="45.46" r="0.84" opacity="0.05"/>
<circle cx="340.99" cy="106.85" r="0.87" opacity="0.05"/>
<circle cx="286.62" cy="81.36" r="0.62" opacity="0.14"/>
<circle cx="193.25" cy="97.08" r="0.54" opacity="0.14"/>
<circle cx="326.28" cy="28.33" r="0.73" opacity="0.08"/>
<circle cx="299.28" cy="136.02" r="0.67" opacity="0.16"/>
<circle cx="216.77" cy="44.18" r="0.91" opacity="0.05"/>
<circle cx="216.86" cy="100.52" r="0.67" opacity="0.05"/>
<circle cx="331.96" cy="96.45" r="0.89" opacity="0.06"/>
<circle cx="329.28" cy="57.28" r="0.95" opacity="0.1"/>
<circle cx="338.32" cy="142.53" r="0.82" opacity="0.09"/>
<circle cx="320.34" cy="91.75" r="0.55" opacity="0.16"/>
<circle cx="312.73" cy="128.71" r="0.87" opacity="0.06"/>
<circle cx="259.78" cy="150.55" r="0.98" opacity="0.16"/>
<circle cx="212.93" cy="129" r="0.78" opacity="0.07"/>
<circle cx="214.05" cy="44.25" r="0.74" opacity="0.08"/>
<circle cx="229.54" cy="79.99" r="0.78" opacity="0.13"/>
<circle cx="279.28" cy="48.13" r="0.94" opacity="0.07"/>
<circle cx="336.58" cy="175.16" r="0.57" opacity="0.09"/>
<circle cx="337.67" cy="82.68" r="0.77" opacity="0.06"/>
<circle cx="192.53" cy="54.71" r="0.56" opacity="0.06"/>
<circle cx="285.48" cy="110.27" r="0.97" opacity="0.11"/>
<circle cx="244.15" cy="170.16" r="0.82" opacity="0.09"/>
<circle cx="321.54" cy="126.83" r="0.68" opacity="0.1"/>
<circle cx="234.55" cy="173.23" r="0.62" opacity="0.17"/>
<circle cx="198.06" cy="24.53" r="0.78" opacity="0.06"/>
<circle cx="266.6" cy="41.32" r="0.92" opacity="0.11"/>
<circle cx="293.95" cy="166.63" r="1" opacity="0.11"/>
<circle cx="298.43" cy="23.28" r="0.52" opacity="0.07"/>
<circle cx="338.01" cy="71.51" r="0.78" opacity="0.05"/>
<circle cx="252.42" cy="162.89" r="0.79" opacity="0.14"/>
<circle cx="190.12" cy="54.42" r="0.59" opacity="0.14"/>
<circle cx="203.83" cy="167.47" r="0.63" opacity="0.15"/>
<circle cx="267.86" cy="73.14" r="0.98" opacity="0.07"/>
<circle cx="295.99" cy="33.43" r="0.92" opacity="0.18"/>
<circle cx="205.19" cy="138.67" r="0.64" opacity="0.05"/>
<circle cx="244.45" cy="125.58" r="0.98" opacity="0.18"/>
<circle cx="341.81" cy="119.61" r="0.83" opacity="0.05"/>
<circle cx="300.42" cy="108.45" r="0.68" opacity="0.16"/>
<circle cx="227.56" cy="44.96" r="0.58" opacity="0.05"/>
<circle cx="279.15" cy="147.13" r="0.58" opacity="0.08"/>
<circle cx="276.96" cy="109.87" r="0.71" opacity="0.09"/>
<circle cx="190.44" cy="32" r="0.71" opacity="0.06"/>
<circle cx="305.18" cy="60.5" r="0.91" opacity="0.06"/>
<circle cx="202.42" cy="97" r="0.69" opacity="0.06"/>
<circle cx="306.46" cy="57.46" r="0.84" opacity="0.14"/>
<circle cx="258.12" cy="100.98" r="0.96" opacity="0.1"/>
<circle cx="216.09" cy="33.77" r="0.54" opacity="0.06"/>
<circle cx="201.84" cy="123.57" r="0.71" opacity="0.06"/>
<circle cx="267.33" cy="168.18" r="0.62" opacity="0.05"/>
<circle cx="235.34" cy="73.27" r="0.95" opacity="0.11"/>
<circle cx="254.44" cy="48.72" r="0.52" opacity="0.05"/>
<circle cx="319.21" cy="123.44" r="0.58" opacity="0.1"/>
<circle cx="197.13" cy="101.57" r="0.67" opacity="0.05"/>
<circle cx="302.96" cy="134.1" r="0.76" opacity="0.05"/>
<circle cx="291.69" cy="90.16" r="0.83" opacity="0.05"/>
<circle cx="327.73" cy="23.55" r="0.61" opacity="0.07"/>
<circle cx="218.79" cy="36.61" r="0.84" opacity="0.18"/>
<circle cx="239.92" cy="64.26" r="0.84" opacity="0.06"/>
<circle cx="250.1" cy="129.71" r="0.72" opacity="0.05"/>
<circle cx="199" cy="107.17" r="1" opacity="0.16"/>
<circle cx="203.55" cy="100.86" r="0.74" opacity="0.05"/>
<circle cx="291.72" cy="99.82" r="0.9" opacity="0.06"/>
<circle cx="332.57" cy="149.25" r="0.74" opacity="0.05"/>
<circle cx="262.92" cy="42.69" r="0.84" opacity="0.11"/>
<circle cx="277.54" cy="174.33" r="0.52" opacity="0.12"/>
<circle cx="312" cy="40.5" r="0.66" opacity="0.05"/>
<circle cx="278.29" cy="135.07" r="0.67" opacity="0.11"/>
<circle cx="244.83" cy="133.39" r="0.64" opacity="0.17"/>
<circle cx="255.85" cy="23.56" r="0.55" opacity="0.12"/>
<circle cx="321.87" cy="121.69" r="0.58" opacity="0.15"/>
<circle cx="299" cy="40.86" r="0.69" opacity="0.11"/>
<circle cx="188.66" cy="29.56" r="0.68" opacity="0.15"/>
<circle cx="342.24" cy="72.34" r="0.95" opacity="0.13"/>
<circle cx="321.93" cy="114.18" r="0.98" opacity="0.1"/>
<circle cx="334.73" cy="110.71" r="0.6" opacity="0.08"/>
<circle cx="262.81" cy="75.3" r="0.69" opacity="0.08"/>
<circle cx="279.07" cy="57.49" r="0.64" opacity="0.08"/>
<circle cx="266.05" cy="87.91" r="0.83" opacity="0.05"/>
<circle cx="270.37" cy="65.75" r="0.89" opacity="0.11"/>
<circle cx="308.93" cy="103.2" r="0.62" opacity="0.16"/>
<circle cx="267.13" cy="81.15" r="0.65" opacity="0.07"/>
<circle cx="297.73" cy="149.88" r="0.74" opacity="0.12"/>
<circle cx="221.04" cy="93.06" r="0.68" opacity="0.06"/>
<circle cx="243.71" cy="139.98" r="0.87" opacity="0.06"/>
<circle cx="224.27" cy="144.58" r="0.83" opacity="0.11"/>
<circle cx="286.37" cy="130.49" r="0.64" opacity="0.05"/>
<circle cx="243.89" cy="28.02" r="0.98" opacity="0.09"/>
<circle cx="291.78" cy="172.81" r="0.9" opacity="0.06"/>
<circle cx="240.22" cy="39.83" r="0.9" opacity="0.12"/>
<circle cx="263.54" cy="80.24" r="0.63" opacity="0.08"/>
<circle cx="298.26" cy="161.78" r="0.92" opacity="0.15"/>
<circle cx="256.05" cy="88.29" r="0.66" opacity="0.17"/>
<circle cx="216.47" cy="47.46" r="0.64" opacity="0.16"/>
<circle cx="320.02" cy="74.38" r="0.93" opacity="0.15"/>
<circle cx="254.19" cy="52.81" r="0.89" opacity="0.07"/>
<circle cx="206.56" cy="162.93" r="0.72" opacity="0.07"/>
<circle cx="280.19" cy="62.57" r="0.51" opacity="0.07"/>
<circle cx="246.78" cy="24.72" r="0.69" opacity="0.13"/>
<circle cx="239.61" cy="128.33" r="0.81" opacity="0.05"/>
<circle cx="191.25" cy="127.52" r="0.81" opacity="0.06"/>
<circle cx="219.07" cy="155.58" r="0.95" opacity="0.06"/>
<circle cx="278.75" cy="112.07" r="0.66" opacity="0.05"/>
<circle cx="238.43" cy="122.88" r="0.8" opacity="0.08"/>
<circle cx="207.03" cy="55.99" r="0.66" opacity="0.07"/>
<circle cx="244.29" cy="162.86" r="0.56" opacity="0.18"/>
<circle cx="225.29" cy="155.77" r="0.62" opacity="0.09"/>
<circle cx="246.45" cy="28.88" r="0.9" opacity="0.14"/>
<circle cx="229.74" cy="143.31" r="0.74" opacity="0.18"/>
<circle cx="196.51" cy="81.95" r="0.61" opacity="0.1"/>
<circle cx="308.45" cy="153.54" r="0.77" opacity="0.07"/>
<circle cx="311.81" cy="39.21" r="0.63" opacity="0.12"/>
<circle cx="256.23" cy="176.91" r="0.55" opacity="0.08"/>
<circle cx="220.97" cy="23.33" r="0.55" opacity="0.05"/>
<circle cx="245.17" cy="90.05" r="0.75" opacity="0.06"/>
<circle cx="296.7" cy="103" r="0.99" opacity="0.05"/>
<circle cx="267.09" cy="99.53" r="0.69" opacity="0.15"/>
<circle cx="220.51" cy="159.03" r="0.68" opacity="0.06"/>
<circle cx="283.21" cy="110.32" r="0.64" opacity="0.05"/>
<circle cx="335.87" cy="80.25" r="0.56" opacity="0.11"/>
<circle cx="270.4" cy="73.77" r="0.66" opacity="0.14"/>
<circle cx="240.48" cy="87.7" r="0.98" opacity="0.07"/>
<circle cx="250.29" cy="48.11" r="0.83" opacity="0.11"/>
<circle cx="257.15" cy="85.91" r="0.62" opacity="0.13"/>
<circle cx="258.84" cy="151.95" r="0.69" opacity="0.12"/>
<circle cx="192.55" cy="57.06" r="0.98" opacity="0.11"/>
<circle cx="292.63" cy="100.04" r="0.74" opacity="0.06"/>
<circle cx="214.86" cy="123.01" r="0.85" opacity="0.06"/>
<circle cx="287.81" cy="44.11" r="0.81" opacity="0.05"/>
<circle cx="266.92" cy="71.67" r="0.78" opacity="0.05"/>
<circle cx="262.88" cy="118.57" r="0.57" opacity="0.06"/>
<circle cx="293.08" cy="107.66" r="0.81" opacity="0.13"/>
<circle cx="276.51" cy="57.44" r="0.72" opacity="0.14"/>
<circle cx="275.77" cy="139.73" r="0.68" opacity="0.08"/>
<circle cx="338.13" cy="150.43" r="0.83" opacity="0.05"/>
<circle cx="282.75" cy="28.15" r="0.97" opacity="0.17"/>
<circle cx="300.74" cy="64.47" r="0.92" opacity="0.05"/>
<circle cx="316.17" cy="103.71" r="0.51" opacity="0.15"/>
<circle cx="256.17" cy="151.68" r="0.84" opacity="0.09"/>
<circle cx="321.52" cy="54.47" r="0.95" opacity="0.06"/>
<circle cx="192.13" cy="75.17" r="0.53" opacity="0.05"/>
<circle cx="284.66" cy="41.73" r="0.58" opacity="0.06"/>
<circle cx="231.22" cy="165.62" r="0.95" opacity="0.15"/>
<circle cx="341.22" cy="91.23" r="0.9" opacity="0.06"/>
<circle cx="331.43" cy="148.66" r="0.87" opacity="0.06"/>
<circle cx="202.25" cy="166.39" r="0.78" opacity="0.1"/>
<circle cx="321.45" cy="45.24" r="0.85" opacity="0.08"/>
<circle cx="309.7" cy="93.67" r="0.6" opacity="0.17"/>
<circle cx="231.6" cy="138.45" r="0.92" opacity="0.06"/>
<circle cx="295.62" cy="84.39" r="0.61" opacity="0.06"/>
<circle cx="335.69" cy="80.07" r="0.75" opacity="0.08"/>
<circle cx="192.21" cy="139.8" r="0.87" opacity="0.15"/>
<circle cx="243.32" cy="55.51" r="0.67" opacity="0.12"/>
<circle cx="289.89" cy="85.94" r="0.76" opacity="0.05"/>
<circle cx="330.2" cy="96.13" r="0.75" opacity="0.13"/>
<circle cx="218.71" cy="134.98" r="0.68" opacity="0.14"/>
<circle cx="202.7" cy="65.77" r="0.82" opacity="0.08"/>
<circle cx="246.4" cy="112.69" r="0.61" opacity="0.07"/>
<circle cx="188.39" cy="146.79" r="0.63" opacity="0.14"/>
<circle cx="273.52" cy="116.23" r="0.81" opacity="0.05"/>
<circle cx="308.34" cy="68.27" r="0.93" opacity="0.13"/>
<circle cx="293.01" cy="149.35" r="0.72" opacity="0.11"/>
<circle cx="335.5" cy="52.31" r="0.55" opacity="0.07"/>
<circle cx="266.93" cy="46.11" r="0.61" opacity="0.15"/>
<circle cx="248.12" cy="46.08" r="0.59" opacity="0.09"/>
<circle cx="217.49" cy="96.63" r="0.77" opacity="0.08"/>
<circle cx="266.02" cy="152.71" r="0.51" opacity="0.16"/>
<circle cx="218.92" cy="28.94" r="0.88" opacity="0.09"/>
<circle cx="271.31" cy="56.73" r="0.89" opacity="0.06"/>
<circle cx="300.56" cy="58.38" r="0.79" opacity="0.1"/>
<circle cx="245.59" cy="97.39" r="0.53" opacity="0.1"/>
<circle cx="295.04" cy="46.77" r="0.78" opacity="0.12"/>
<circle cx="203.74" cy="153.03" r="0.94" opacity="0.05"/>
<circle cx="226.53" cy="36.03" r="0.63" opacity="0.05"/>
<circle cx="263.8" cy="61.81" r="0.65" opacity="0.08"/>
<circle cx="245.58" cy="145.22" r="0.86" opacity="0.05"/>
<circle cx="222.67" cy="24.28" r="0.66" opacity="0.05"/>
<circle cx="295.95" cy="143.95" r="1" opacity="0.06"/>
<circle cx="193.77" cy="140.32" r="0.71" opacity="0.16"/>
<circle cx="248.81" cy="71.43" r="0.54" opacity="0.17"/>
<circle cx="267.33" cy="91.31" r="0.72" opacity="0.13"/>
<circle cx="316.63" cy="96.78" r="0.59" opacity="0.07"/>
<circle cx="325.99" cy="86.19" r="0.83" opacity="0.09"/>
<circle cx="259.47" cy="112.1" r="0.62" opacity="0.09"/>
<circle cx="321.87" cy="35.38" r="0.68" opacity="0.15"/>
<circle cx="339.44" cy="25.06" r="0.81" opacity="0.1"/>
<circle cx="318.53" cy="95.85" r="0.57" opacity="0.06"/>
<circle cx="298.36" cy="135.89" r="0.6" opacity="0.1"/>
<circle cx="289.7" cy="124.96" r="0.51" opacity="0.08"/>
<circle cx="238.38" cy="115.57" r="0.67" opacity="0.05"/>
<circle cx="291.8" cy="67.47" r="0.9" opacity="0.06"/>
<circle cx="272.54" cy="148.26" r="0.56" opacity="0.12"/>
<circle cx="198.64" cy="168.12" r="0.51" opacity="0.12"/>
<circle cx="245.14" cy="50.85" r="0.7" opacity="0.08"/>
<circle cx="252.29" cy="41.96" r="0.76" opacity="0.06"/>
<circle cx="337.73" cy="82.38" r="0.72" opacity="0.06"/>
<circle cx="337.97" cy="72.87" r="0.82" opacity="0.14"/>
<circle cx="248.93" cy="140.07" r="0.64" opacity="0.05"/>
<circle cx="194.63" cy="92.59" r="0.94" opacity="0.06"/>
<circle cx="256.24" cy="141.24" r="0.64" opacity="0.05"/>
<circle cx="268.43" cy="88.93" r="0.97" opacity="0.15"/>
<circle cx="224.93" cy="109.93" r="0.71" opacity="0.05"/>
<circle cx="256.84" cy="164.92" r="0.65" opacity="0.09"/>
<circle cx="297.99" cy="32.78" r="0.96" opacity="0.05"/>
<circle cx="234.75" cy="133.96" r="0.51" opacity="0.07"/>
<circle cx="207.69" cy="96.37" r="0.51" opacity="0.05"/>
<circle cx="222.51" cy="35.63" r="0.55" opacity="0.05"/>
<circle cx="268.18" cy="44.23" r="0.91" opacity="0.07"/>
<circle cx="227.07" cy="60.35" r="0.92" opacity="0.05"/>
<circle cx="302.92" cy="38.13" r="0.97" opacity="0.07"/>
<circle cx="280.56" cy="156.81" r="0.55" opacity="0.05"/>
<circle cx="295.39" cy="114.08" r="0.86" opacity="0.06"/>
<circle cx="264.97" cy="51.93" r="0.72" opacity="0.06"/>
<circle cx="278.7" cy="69.36" r="0.64" opacity="0.1"/>
<circle cx="201.34" cy="147.18" r="0.75" opacity="0.06"/>
<circle cx="205.88" cy="101.86" r="0.75" opacity="0.12"/>
<circle cx="245.94" cy="86.9" r="0.95" opacity="0.06"/>
<circle cx="339.87" cy="161.35" r="1" opacity="0.17"/>
<circle cx="227.89" cy="149.22" r="0.81" opacity="0.06"/>
<circle cx="342.42" cy="123.39" r="0.9" opacity="0.09"/>
<circle cx="200.4" cy="156.81" r="0.59" opacity="0.06"/>
<circle cx="283.43" cy="53.07" r="0.73" opacity="0.12"/>
<circle cx="202.95" cy="125.4" r="0.55" opacity="0.08"/>
<circle cx="288.57" cy="129.54" r="0.52" opacity="0.05"/>
<circle cx="336.64" cy="83.61" r="0.71" opacity="0.07"/>
<circle cx="295.8" cy="137.77" r="0.83" opacity="0.07"/>
<circle cx="276.21" cy="102.89" r="0.59" opacity="0.17"/>
<circle cx="337.36" cy="143.5" r="1" opacity="0.08"/>
<circle cx="317.91" cy="60.3" r="0.87" opacity="0.12"/>
<circle cx="333.3" cy="152.17" r="0.94" opacity="0.06"/>
<circle cx="309.92" cy="96.67" r="0.66" opacity="0.07"/>
<circle cx="311.69" cy="153.63" r="0.92" opacity="0.11"/>
<circle cx="214.45" cy="47.13" r="0.78" opacity="0.06"/>
<circle cx="240.17" cy="38.88" r="0.58" opacity="0.12"/>
<circle cx="222.7" cy="154.43" r="0.66" opacity="0.14"/>
<circle cx="234.92" cy="64.46" r="0.7" opacity="0.05"/>
<circle cx="255.48" cy="81.89" r="0.51" opacity="0.15"/>
<circle cx="246.14" cy="23.07" r="0.98" opacity="0.06"/>
<circle cx="227.24" cy="26.77" r="0.55" opacity="0.12"/>
<circle cx="278.14" cy="101.13" r="0.62" opacity="0.06"/>
<circle cx="338.17" cy="80.7" r="0.99" opacity="0.15"/>
<circle cx="207.38" cy="154.46" r="0.51" opacity="0.12"/>
<circle cx="313.34" cy="130.8" r="0.77" opacity="0.14"/>
<circle cx="211.98" cy="106.67" r="0.63" opacity="0.07"/>
<circle cx="217.69" cy="132.79" r="0.79" opacity="0.13"/>
<circle cx="285.29" cy="115.87" r="0.96" opacity="0.14"/>
<circle cx="275.78" cy="73.55" r="0.96" opacity="0.07"/>
<circle cx="203.9" cy="74.66" r="0.85" opacity="0.16"/>
<circle cx="287.99" cy="125.69" r="0.97" opacity="0.13"/>
<circle cx="257.01" cy="94.58" r="0.88" opacity="0.06"/>
<circle cx="205.09" cy="119.05" r="0.9" opacity="0.06"/>
<circle cx="293.87" cy="161.35" r="0.56" opacity="0.05"/>
<circle cx="264.37" cy="74.82" r="0.97" opacity="0.18"/>
<circle cx="257.04" cy="145.93" r="0.82" opacity="0.05"/>
<circle cx="338.44" cy="50.05" r="0.54" opacity="0.08"/>
<circle cx="190.86" cy="97.52" r="0.71" opacity="0.17"/>
<circle cx="252.09" cy="154.71" r="0.89" opacity="0.09"/>
<circle cx="224.89" cy="70.25" r="0.75" opacity="0.07"/>
<circle cx="287.97" cy="101.33" r="0.66" opacity="0.1"/>
<circle cx="342.26" cy="54.4" r="0.67" opacity="0.05"/>
<circle cx="202.61" cy="31.6" r="0.71" opacity="0.14"/>
<circle cx="296.04" cy="172.75" r="0.92" opacity="0.09"/>
<circle cx="277.89" cy="24.94" r="0.69" opacity="0.06"/>
<circle cx="284.12" cy="33.15" r="0.77" opacity="0.07"/>
<circle cx="264.21" cy="85.68" r="0.55" opacity="0.12"/>
<circle cx="311.92" cy="115.72" r="0.56" opacity="0.1"/>
<circle cx="322.84" cy="175.92" r="0.88" opacity="0.05"/>
<circle cx="324" cy="126.08" r="0.64" opacity="0.16"/>
<circle cx="315.9" cy="161.75" r="0.62" opacity="0.09"/>
<circle cx="246.71" cy="68.88" r="0.88" opacity="0.1"/>
<circle cx="239.43" cy="107.17" r="0.96" opacity="0.09"/>
<circle cx="329.42" cy="110.74" r="1" opacity="0.05"/>
<circle cx="259.26" cy="108.6" r="0.86" opacity="0.17"/>
<circle cx="284.52" cy="97.09" r="0.82" opacity="0.09"/>
<circle cx="297.16" cy="169.78" r="0.51" opacity="0.06"/>
<circle cx="323.67" cy="32.25" r="0.9" opacity="0.05"/>
<circle cx="288.37" cy="147.05" r="0.62" opacity="0.07"/>
<circle cx="223.13" cy="132.24" r="0.76" opacity="0.1"/>
<circle cx="238.45" cy="113.94" r="0.98" opacity="0.13"/>
<circle cx="335.34" cy="61.32" r="0.76" opacity="0.07"/>
<circle cx="241.64" cy="147.53" r="0.59" opacity="0.09"/>
<circle cx="307.85" cy="168" r="0.51" opacity="0.06"/>
<circle cx="264.38" cy="168.14" r="0.58" opacity="0.14"/>
<circle cx="249.54" cy="107.91" r="0.96" opacity="0.05"/>
<circle cx="239.08" cy="47.15" r="0.57" opacity="0.06"/>
<circle cx="296.51" cy="112.96" r="0.56" opacity="0.13"/>
<circle cx="266.58" cy="45.19" r="0.91" opacity="0.14"/>
<circle cx="221.63" cy="168.63" r="0.91" opacity="0.06"/>
<circle cx="188.25" cy="157.44" r="0.91" opacity="0.05"/>
<circle cx="306.67" cy="142.84" r="0.82" opacity="0.14"/>
<circle cx="340.45" cy="73.81" r="0.92" opacity="0.16"/>
<circle cx="236.6" cy="128.94" r="0.84" opacity="0.14"/>
<circle cx="275.8" cy="65.72" r="0.63" opacity="0.09"/>
<circle cx="209.04" cy="156.23" r="0.94" opacity="0.06"/>
<circle cx="295.96" cy="127.35" r="0.56" opacity="0.13"/>
<circle cx="306.65" cy="70.48" r="0.55" opacity="0.06"/>
<circle cx="307.47" cy="95.34" r="0.91" opacity="0.05"/>
<circle cx="204.58" cy="77.1" r="0.94" opacity="0.05"/>
<circle cx="199.46" cy="139.7" r="0.55" opacity="0.11"/>
<circle cx="201.01" cy="61.26" r="0.83" opacity="0.15"/>
<circle cx="251.4" cy="92.69" r="0.52" opacity="0.07"/>
<circle cx="225.55" cy="145.25" r="0.86" opacity="0.13"/>
<circle cx="270.36" cy="131.41" r="0.56" opacity="0.07"/>
<circle cx="233.42" cy="66.74" r="0.87" opacity="0.06"/>
</g>
<path d="M243.2,46.33C246.41,45.58 251.89,44.82 256.8,45.2C261.71,45.58 268.13,47.28 272.67,48.6C277.2,49.92 280.22,52.38 284,53.13C287.78,53.89 292.31,53.51 295.33,53.13C298.36,52.76 299.87,49.92 302.13,50.87C304.4,51.81 305.53,55.02 308.93,58.8C312.33,62.58 320.46,69.94 322.53,73.53C324.61,77.12 322.27,77.69 321.4,80.33C320.53,82.98 317.43,86.76 317.32,89.4C317.21,92.04 319.85,93.56 320.72,96.2C321.59,98.84 323.74,102.81 322.53,105.27C321.32,107.72 317.24,108.48 313.47,110.93C309.69,113.39 304.78,116.41 299.87,120C294.96,123.59 288.53,129.26 284,132.47C279.47,135.68 276.44,137.57 272.67,139.27C268.89,140.97 264.54,142.67 261.33,142.67C258.12,142.67 255.48,141.16 253.4,139.27C251.32,137.38 250.57,132.47 248.87,131.33C247.17,130.2 246.22,133.41 243.2,132.47C240.18,131.52 234.7,128.88 230.73,125.67C226.77,122.46 221.48,116.79 219.4,113.2C217.32,109.61 218.08,107.91 218.27,104.13C218.46,100.36 220.91,94.5 220.53,90.53C220.16,86.57 217.51,83.36 216,80.33C214.49,77.31 210.71,74.86 211.47,72.4C212.22,69.94 217.32,68.43 220.53,65.6C223.74,62.77 227.9,58.04 230.73,55.4C233.57,52.76 235.46,51.24 237.53,49.73C239.61,48.22 239.99,47.09 243.2,46.33Z" fill="none" stroke="#f0f0f0" stroke-width="1.3" stroke-dasharray="3.6 2.3"/>
<rect x="279.9" y="167" width="60.7" height="3.2" fill="#ffffff"/>
<text x="310.3" y="175.5" font-size="3.2" fill="#8f8f8f" text-anchor="middle" stroke="#8f8f8f">11.00µm</text>
</g>
<g clip-path="url(#cp02)">
<rect x="345.1" y="23" width="155.5" height="155" fill="#020202"/>
<path d="M346.03,34.32C347.31,28.46 351.88,34.7 353.73,36.13C355.58,37.57 354.68,40.86 357.13,42.93C359.59,45.01 363.93,46.33 368.47,48.6C373,50.87 379.42,54.46 384.33,56.53C389.24,58.61 393.78,60.24 397.93,61.07C402.09,61.9 405.68,61.6 409.27,61.52C412.86,61.44 416.63,59.74 419.47,60.61C422.3,61.48 423.43,64.01 426.27,66.73C429.1,69.45 433.26,74.02 436.47,76.93C439.68,79.84 441.76,82.49 445.53,84.19C449.31,85.89 454.22,86.08 459.13,87.13C464.04,88.19 470.66,89.4 475,90.53C479.34,91.67 482.93,91.48 485.2,93.93C487.47,96.39 486.71,102.24 488.6,105.27C490.49,108.29 495.21,108.67 496.53,112.07C497.86,115.47 497.67,121.89 496.53,125.67C495.4,129.44 492.19,132.09 489.73,134.73C487.28,137.38 483.5,138.89 481.8,141.53C480.1,144.18 479.34,147.39 479.53,150.6C479.72,153.81 482.74,158.16 482.93,160.8C483.12,163.44 483.5,165.52 480.67,166.47C477.83,167.41 470.28,166.47 465.93,166.47C461.59,166.47 458,167.22 454.6,166.47C451.2,165.71 448.18,162.5 445.53,161.93C442.89,161.37 440.43,163.82 438.73,163.07C437.03,162.31 436.09,159.29 435.33,157.4C434.58,155.51 436.28,153.24 434.2,151.73C432.12,150.22 426.64,149.66 422.87,148.33C419.09,147.01 415.12,145.69 411.53,143.8C407.94,141.91 403.41,139.46 401.33,137C399.26,134.54 399.82,132.09 399.07,129.07C398.31,126.04 398.31,121.13 396.8,118.87C395.29,116.6 392.27,117.17 390,115.47C387.73,113.77 385.09,110.18 383.2,108.67C381.31,107.16 380.37,106.66 378.67,106.4C376.97,106.14 375.46,107.84 373,107.08C370.54,106.32 366.28,104.44 363.93,101.87C361.59,99.3 360,95.26 358.95,91.67C357.89,88.08 358.64,83.36 357.59,80.33C356.53,77.31 354.53,75.04 352.6,73.53C350.67,72.02 347.12,77.8 346.03,71.27C344.93,64.73 344.74,40.18 346.03,34.32Z" fill="#c8611a" opacity="0.01" filter="url(#hazeA)"/>
<g fill="#ff7a14" filter="url(#blurA)">
<circle cx="394.99" cy="71.64" r="0.41" opacity="0.11"/>
<circle cx="418.36" cy="84.52" r="0.43" opacity="0.18"/>
<circle cx="413.7" cy="109.22" r="0.41" opacity="0.04"/>
<circle cx="421.58" cy="135.87" r="0.3" opacity="0.07"/>
<circle cx="457.46" cy="156.32" r="0.37" opacity="0.05"/>
<circle cx="423.53" cy="72.35" r="0.33" opacity="0.07"/>
<circle cx="485.45" cy="97.49" r="0.44" opacity="0.03"/>
<circle cx="484.66" cy="118.93" r="0.41" opacity="0.06"/>
<circle cx="473.63" cy="142.61" r="0.32" opacity="0.15"/>
<circle cx="416.53" cy="88.65" r="0.31" opacity="0.14"/>
<circle cx="402.5" cy="89.12" r="0.35" opacity="0.17"/>
<circle cx="488.28" cy="118" r="0.32" opacity="0.03"/>
<circle cx="433.81" cy="93.42" r="0.44" opacity="0.06"/>
<circle cx="398.86" cy="89.57" r="0.3" opacity="0.18"/>
<circle cx="434.97" cy="106.04" r="0.33" opacity="0.04"/>
<circle cx="393.5" cy="99.54" r="0.33" opacity="0.19"/>
<circle cx="354.11" cy="55.35" r="0.32" opacity="0.14"/>
<circle cx="463.47" cy="92.68" r="0.34" opacity="0.08"/>
<circle cx="352.43" cy="43.07" r="0.37" opacity="0.12"/>
<circle cx="413.1" cy="65.1" r="0.31" opacity="0.04"/>
<circle cx="468.79" cy="94.22" r="0.38" opacity="0.06"/>
<circle cx="467.46" cy="113.06" r="0.36" opacity="0.06"/>
<circle cx="492.58" cy="123.15" r="0.34" opacity="0.11"/>
<circle cx="361.1" cy="78.52" r="0.31" opacity="0.16"/>
<circle cx="476.75" cy="137.74" r="0.38" opacity="0.05"/>
<circle cx="432.27" cy="142.08" r="0.45" opacity="0.06"/>
<circle cx="428.09" cy="85.63" r="0.39" opacity="0.05"/>
<circle cx="428.86" cy="134.18" r="0.34" opacity="0.03"/>
<circle cx="461.04" cy="118.42" r="0.33" opacity="0.13"/>
<circle cx="426.57" cy="113.33" r="0.38" opacity="0.04"/>
<circle cx="392.8" cy="79.64" r="0.3" opacity="0.06"/>
<circle cx="455.83" cy="110.65" r="0.3" opacity="0.13"/>
<circle cx="383.91" cy="102.37" r="0.31" opacity="0.17"/>
<circle cx="458.89" cy="126.24" r="0.35" opacity="0.04"/>
<circle cx="394.34" cy="60.55" r="0.33" opacity="0.17"/>
<circle cx="373.07" cy="67.37" r="0.35" opacity="0.07"/>
<circle cx="391.94" cy="103.82" r="0.39" opacity="0.13"/>
<circle cx="465.12" cy="108.56" r="0.33" opacity="0.05"/>
<circle cx="381.88" cy="105.1" r="0.4" opacity="0.06"/>
<circle cx="421.03" cy="122.23" r="0.31" opacity="0.1"/>
<circle cx="352.23" cy="70.55" r="0.3" opacity="0.04"/>
<circle cx="439.79" cy="148.1" r="0.3" opacity="0.04"/>
<circle cx="461.15" cy="96.46" r="0.43" opacity="0.05"/>
<circle cx="462.55" cy="133.35" r="0.35" opacity="0.03"/>
<circle cx="463.96" cy="129.89" r="0.32" opacity="0.12"/>
<circle cx="407.82" cy="133.53" r="0.3" opacity="0.18"/>
<circle cx="417" cy="141.67" r="0.31" opacity="0.09"/>
<circle cx="447.97" cy="90.49" r="0.44" opacity="0.18"/>
<circle cx="452" cy="130.46" r="0.36" opacity="0.03"/>
<circle cx="435.58" cy="141.98" r="0.31" opacity="0.03"/>
<circle cx="352.22" cy="52.38" r="0.45" opacity="0.13"/>
<circle cx="377.62" cy="53.68" r="0.42" opacity="0.11"/>
<circle cx="472.63" cy="131.01" r="0.3" opacity="0.12"/>
<circle cx="420.22" cy="99.24" r="0.3" opacity="0.08"/>
<circle cx="386.08" cy="65.93" r="0.33" opacity="0.11"/>
<circle cx="423.01" cy="102.06" r="0.45" opacity="0.04"/>
<circle cx="484.62" cy="98.33" r="0.42" opacity="0.12"/>
<circle cx="455.87" cy="134.56" r="0.31" opacity="0.13"/>
<circle cx="435.63" cy="136.81" r="0.3" opacity="0.05"/>
<circle cx="470.08" cy="140.64" r="0.44" opacity="0.03"/>
<circle cx="454.95" cy="132.83" r="0.36" opacity="0.14"/>
<circle cx="423.68" cy="108.63" r="0.43" opacity="0.11"/>
<circle cx="444.76" cy="112.13" r="0.34" opacity="0.13"/>
<circle cx="410.12" cy="90" r="0.33" opacity="0.09"/>
<circle cx="400.47" cy="86.01" r="0.33" opacity="0.06"/>
<circle cx="405.51" cy="93.64" r="0.35" opacity="0.06"/>
<circle cx="477.54" cy="158.41" r="0.31" opacity="0.07"/>
<circle cx="480.38" cy="144.86" r="0.31" opacity="0.04"/>
<circle cx="451.11" cy="139.6" r="0.33" opacity="0.06"/>
<circle cx="475.99" cy="147.7" r="0.3" opacity="0.1"/>
<circle cx="446.21" cy="96.89" r="0.42" opacity="0.18"/>
<circle cx="434.61" cy="89.95" r="0.31" opacity="0.18"/>
<circle cx="380.48" cy="79.6" r="0.35" opacity="0.05"/>
<circle cx="412.19" cy="141.81" r="0.3" opacity="0.12"/>
<circle cx="407.8" cy="116.69" r="0.36" opacity="0.05"/>
<circle cx="351.13" cy="50.74" r="0.35" opacity="0.04"/>
<circle cx="392.1" cy="116.04" r="0.42" opacity="0.08"/>
<circle cx="369.51" cy="68.94" r="0.33" opacity="0.17"/>
<circle cx="370.92" cy="59.74" r="0.3" opacity="0.04"/>
<circle cx="396.03" cy="86.53" r="0.39" opacity="0.06"/>
<circle cx="417.53" cy="86.71" r="0.39" opacity="0.17"/>
<circle cx="425.1" cy="124.44" r="0.32" opacity="0.05"/>
<circle cx="400.14" cy="126.64" r="0.33" opacity="0.08"/>
<circle cx="377.16" cy="57.72" r="0.32" opacity="0.12"/>
<circle cx="453" cy="91.56" r="0.3" opacity="0.05"/>
<circle cx="428.81" cy="77.51" r="0.31" opacity="0.05"/>
<circle cx="388.19" cy="80.09" r="0.39" opacity="0.14"/>
<circle cx="451.1" cy="151.26" r="0.36" opacity="0.03"/>
<circle cx="352.73" cy="56.03" r="0.31" opacity="0.08"/>
<circle cx="469.75" cy="111.72" r="0.33" opacity="0.04"/>
<circle cx="361.19" cy="60.6" r="0.4" opacity="0.19"/>
<circle cx="442.79" cy="124.42" r="0.31" opacity="0.05"/>
<circle cx="383.31" cy="56.07" r="0.36" opacity="0.11"/>
<circle cx="372.23" cy="66.27" r="0.34" opacity="0.07"/>
<circle cx="429.35" cy="130.39" r="0.42" opacity="0.07"/>
<circle cx="449.34" cy="139.25" r="0.33" opacity="0.04"/>
<circle cx="366.16" cy="56.09" r="0.32" opacity="0.03"/>
<circle cx="403.99" cy="107.19" r="0.35" opacity="0.06"/>
<circle cx="476.11" cy="156" r="0.39" opacity="0.09"/>
<circle cx="464.56" cy="109.98" r="0.3" opacity="0.04"/>
<circle cx="394.49" cy="88.17" r="0.34" opacity="0.03"/>
<circle cx="452.25" cy="139.45" r="0.4" opacity="0.17"/>
<circle cx="460.65" cy="125.92" r="0.32" opacity="0.05"/>
<circle cx="415.36" cy="141.63" r="0.32" opacity="0.05"/>
<circle cx="423.27" cy="132.85" r="0.42" opacity="0.06"/>
<circle cx="450.39" cy="87.67" r="0.41" opacity="0.13"/>
<circle cx="429.6" cy="82.22" r="0.31" opacity="0.17"/>
<circle cx="358.78" cy="60.1" r="0.44" opacity="0.03"/>
<circle cx="467.94" cy="104.22" r="0.35" opacity="0.09"/>
<circle cx="407.77" cy="107.97" r="0.3" opacity="0.18"/>
<circle cx="361.04" cy="44.49" r="0.44" opacity="0.08"/>
<circle cx="489.26" cy="31.01" r="0.3" opacity="0.04"/>
<circle cx="465.75" cy="46.65" r="0.38" opacity="0.1"/>
<circle cx="388.14" cy="171.79" r="0.48" opacity="0.09"/>
<circle cx="392.22" cy="136.36" r="0.37" opacity="0.11"/>
<circle cx="401.46" cy="159.55" r="0.44" opacity="0.05"/>
<circle cx="427.06" cy="171.74" r="0.3" opacity="0.13"/>
<circle cx="476.74" cy="46.05" r="0.33" opacity="0.09"/>
<circle cx="472.64" cy="80.76" r="0.6" opacity="0.08"/>
<circle cx="356.93" cy="111.29" r="0.33" opacity="0.04"/>
<circle cx="414.44" cy="35.11" r="0.55" opacity="0.11"/>
<circle cx="398.82" cy="174.1" r="0.57" opacity="0.09"/>
<circle cx="473.04" cy="34.66" r="0.3" opacity="0.04"/>
<circle cx="497.84" cy="152.26" r="0.58" opacity="0.04"/>
<circle cx="379.46" cy="26.62" r="0.32" opacity="0.03"/>
<circle cx="437.63" cy="69.45" r="0.46" opacity="0.09"/>
<circle cx="351.31" cy="95.18" r="0.41" opacity="0.03"/>
<circle cx="420.75" cy="50.22" r="0.32" opacity="0.1"/>
<circle cx="497.62" cy="40.23" r="0.3" opacity="0.04"/>
<circle cx="362.5" cy="153.71" r="0.33" opacity="0.13"/>
<circle cx="372.34" cy="172.59" r="0.4" opacity="0.11"/>
<circle cx="354.87" cy="107.1" r="0.46" opacity="0.15"/>
<circle cx="490.18" cy="39.09" r="0.34" opacity="0.15"/>
<circle cx="427.95" cy="171.23" r="0.32" opacity="0.03"/>
<circle cx="491.67" cy="63.86" r="0.39" opacity="0.05"/>
<circle cx="434.56" cy="167.65" r="0.57" opacity="0.12"/>
<circle cx="384.87" cy="150.17" r="0.3" opacity="0.05"/>
<circle cx="491.35" cy="62.43" r="0.34" opacity="0.07"/>
<circle cx="381.75" cy="132.73" r="0.43" opacity="0.03"/>
<circle cx="487.62" cy="34.08" r="0.45" opacity="0.04"/>
<circle cx="367.34" cy="35.08" r="0.6" opacity="0.11"/>
<circle cx="416.17" cy="146.08" r="0.58" opacity="0.13"/>
<circle cx="427.59" cy="65.58" r="0.38" opacity="0.15"/>
<circle cx="475.67" cy="86.34" r="0.39" opacity="0.12"/>
<circle cx="375.95" cy="156.04" r="0.3" opacity="0.06"/>
<circle cx="434.15" cy="45.66" r="0.56" opacity="0.05"/>
<circle cx="345.55" cy="37.31" r="0.45" opacity="0.03"/>
<circle cx="384.67" cy="148.09" r="0.52" opacity="0.12"/>
<circle cx="372.13" cy="23.8" r="0.47" opacity="0.07"/>
<circle cx="401.56" cy="25.87" r="0.36" opacity="0.04"/>
<circle cx="436.18" cy="174.9" r="0.31" opacity="0.03"/>
<circle cx="452.68" cy="39.68" r="0.31" opacity="0.05"/>
<circle cx="497.84" cy="73.24" r="0.33" opacity="0.06"/>
<circle cx="453.57" cy="73.19" r="0.49" opacity="0.03"/>
<circle cx="360.83" cy="120.15" r="0.36" opacity="0.13"/>
<circle cx="361.39" cy="138.59" r="0.43" opacity="0.05"/>
<circle cx="364.97" cy="117.78" r="0.47" opacity="0.06"/>
<circle cx="430.27" cy="161.86" r="0.6" opacity="0.07"/>
<circle cx="395.99" cy="57.5" r="0.42" opacity="0.1"/>
<circle cx="383.48" cy="129.94" r="0.6" opacity="0.05"/>
<circle cx="490.52" cy="90.63" r="0.43" opacity="0.12"/>
<circle cx="497.54" cy="33.11" r="0.33" opacity="0.06"/>
<circle cx="345.33" cy="34.05" r="0.3" opacity="0.05"/>
<circle cx="349.29" cy="104.47" r="0.42" opacity="0.03"/>
<circle cx="477.72" cy="87.07" r="0.58" opacity="0.05"/>
<circle cx="385.84" cy="143.8" r="0.3" opacity="0.04"/>
<circle cx="394.78" cy="159.64" r="0.38" opacity="0.03"/>
<circle cx="391.42" cy="117.42" r="0.5" opacity="0.03"/>
<circle cx="465.81" cy="83.5" r="0.38" opacity="0.05"/>
<circle cx="413.01" cy="176.43" r="0.55" opacity="0.13"/>
<circle cx="367.02" cy="28.46" r="0.51" opacity="0.08"/>
<circle cx="442.79" cy="71.44" r="0.32" opacity="0.13"/>
<circle cx="427.52" cy="26.07" r="0.33" opacity="0.04"/>
<circle cx="355.57" cy="174.5" r="0.54" opacity="0.11"/>
<circle cx="345.76" cy="87.67" r="0.3" opacity="0.09"/>
<circle cx="467.74" cy="41.72" r="0.3" opacity="0.03"/>
<circle cx="425.05" cy="59.34" r="0.52" opacity="0.03"/>
<circle cx="395.43" cy="23.29" r="0.59" opacity="0.05"/>
<circle cx="435.1" cy="175.88" r="0.48" opacity="0.13"/>
<circle cx="494.33" cy="35.72" r="0.47" opacity="0.04"/>
<circle cx="498.22" cy="32.34" r="0.36" opacity="0.03"/>
<circle cx="499.6" cy="99.85" r="0.45" opacity="0.06"/>
<circle cx="463.94" cy="75.13" r="0.35" opacity="0.1"/>
<circle cx="393.01" cy="154.39" r="0.46" opacity="0.07"/>
<circle cx="357" cy="38.04" r="0.33" opacity="0.03"/>
<circle cx="352.65" cy="134.04" r="0.46" opacity="0.08"/>
<circle cx="377" cy="134.84" r="0.5" opacity="0.08"/>
<circle cx="380.33" cy="110.46" r="0.35" opacity="0.04"/>
<circle cx="368.11" cy="156.96" r="0.42" opacity="0.13"/>
<circle cx="424" cy="32.15" r="0.33" opacity="0.07"/>
<circle cx="419.73" cy="163.9" r="0.4" opacity="0.08"/>
<circle cx="401.85" cy="23.1" r="0.59" opacity="0.11"/>
<circle cx="364.72" cy="40.33" r="0.31" opacity="0.08"/>
<circle cx="365.4" cy="26.09" r="0.37" opacity="0.03"/>
<circle cx="376.89" cy="23.38" r="0.32" opacity="0.04"/>
<circle cx="348.07" cy="152.69" r="0.46" opacity="0.06"/>
<circle cx="345.54" cy="59.13" r="0.54" opacity="0.06"/>
<circle cx="376.91" cy="150.01" r="0.54" opacity="0.03"/>
<circle cx="403.64" cy="33.66" r="0.3" opacity="0.11"/>
<circle cx="356.87" cy="142.17" r="0.31" opacity="0.04"/>
<circle cx="376.13" cy="156.21" r="0.5" opacity="0.11"/>
<circle cx="404.19" cy="168" r="0.32" opacity="0.07"/>
<circle cx="449.4" cy="59.19" r="0.34" opacity="0.03"/>
<circle cx="468.5" cy="51.55" r="0.31" opacity="0.04"/>
<circle cx="426.37" cy="155.21" r="0.47" opacity="0.04"/>
<circle cx="427.92" cy="49.24" r="0.32" opacity="0.03"/>
<circle cx="357.55" cy="142.7" r="0.32" opacity="0.07"/>
<circle cx="491.69" cy="84.28" r="0.35" opacity="0.07"/>
<circle cx="475.16" cy="175.99" r="0.48" opacity="0.06"/>
<circle cx="493.69" cy="173.35" r="0.47" opacity="0.04"/>
<circle cx="380.92" cy="144.05" r="0.31" opacity="0.09"/>
<circle cx="498.4" cy="177.73" r="0.49" opacity="0.04"/>
<circle cx="490.77" cy="92.25" r="0.34" opacity="0.03"/>
<circle cx="392.85" cy="39.3" r="0.37" opacity="0.03"/>
<circle cx="365.79" cy="25.85" r="0.39" opacity="0.14"/>
<circle cx="394.58" cy="138.01" r="0.37" opacity="0.11"/>
<circle cx="345.91" cy="43.55" r="0.31" opacity="0.05"/>
<circle cx="494.69" cy="91.04" r="0.4" opacity="0.14"/>
<circle cx="473.39" cy="74.8" r="0.3" opacity="0.14"/>
<circle cx="355.42" cy="138.4" r="0.34" opacity="0.08"/>
<circle cx="389.03" cy="165.22" r="0.34" opacity="0.04"/>
<circle cx="483.56" cy="57.49" r="0.32" opacity="0.06"/>
<circle cx="497.03" cy="40.9" r="0.31" opacity="0.11"/>
<circle cx="356.74" cy="87.18" r="0.48" opacity="0.09"/>
<circle cx="467.96" cy="41.16" r="0.54" opacity="0.05"/>
<circle cx="385.03" cy="46.34" r="0.37" opacity="0.03"/>
<circle cx="370.51" cy="158.48" r="0.4" opacity="0.12"/>
<circle cx="417.68" cy="39.7" r="0.32" opacity="0.13"/>
<circle cx="352.9" cy="158.05" r="0.31" opacity="0.04"/>
<circle cx="417.9" cy="44.83" r="0.45" opacity="0.06"/>
<circle cx="392.96" cy="152.12" r="0.56" opacity="0.13"/>
<circle cx="497.66" cy="33.68" r="0.35" opacity="0.05"/>
<circle cx="384.85" cy="138.21" r="0.55" opacity="0.03"/>
<circle cx="423.5" cy="172.86" r="0.54" opacity="0.05"/>
<circle cx="497.63" cy="24.82" r="0.41" opacity="0.03"/>
<circle cx="488.45" cy="57.6" r="0.53" opacity="0.04"/>
<circle cx="356.89" cy="83.2" r="0.58" opacity="0.05"/>
<circle cx="456.13" cy="28.31" r="0.38" opacity="0.06"/>
<circle cx="360.28" cy="112.82" r="0.36" opacity="0.04"/>
<circle cx="363.74" cy="39.44" r="0.3" opacity="0.04"/>
<circle cx="443.71" cy="173.01" r="0.58" opacity="0.12"/>
<circle cx="364.37" cy="145.67" r="0.47" opacity="0.06"/>
<circle cx="499.33" cy="115.79" r="0.3" opacity="0.04"/>
<circle cx="365.19" cy="117.56" r="0.42" opacity="0.12"/>
<circle cx="346.69" cy="24.52" r="0.58" opacity="0.04"/>
<circle cx="386.03" cy="157.25" r="0.3" opacity="0.11"/>
<circle cx="439.36" cy="23.91" r="0.41" opacity="0.08"/>
<circle cx="446.26" cy="35.32" r="0.3" opacity="0.04"/>
<circle cx="400.38" cy="172.3" r="0.4" opacity="0.04"/>
<circle cx="432.69" cy="155.51" r="0.34" opacity="0.05"/>
<circle cx="434.54" cy="175.92" r="0.42" opacity="0.03"/>
<circle cx="435.26" cy="72.77" r="0.37" opacity="0.09"/>
<circle cx="348.23" cy="101.63" r="0.33" opacity="0.07"/>
<circle cx="442.65" cy="67.72" r="0.32" opacity="0.06"/>
<circle cx="427.59" cy="57.59" r="0.48" opacity="0.06"/>
<circle cx="490.42" cy="61.42" r="0.3" opacity="0.08"/>
<circle cx="348.93" cy="155.64" r="0.44" opacity="0.04"/>
<circle cx="435.77" cy="38.99" r="0.31" opacity="0.04"/>
<circle cx="349.97" cy="122.13" r="0.4" opacity="0.13"/>
<circle cx="430.98" cy="165.26" r="0.37" opacity="0.06"/>
<circle cx="388.84" cy="94.96" r="0.97" opacity="0.08"/>
<circle cx="345.43" cy="77.82" r="0.6" opacity="0.1"/>
<circle cx="424.28" cy="96.73" r="0.96" opacity="0.13"/>
<circle cx="358.67" cy="27.75" r="0.85" opacity="0.1"/>
<circle cx="446.55" cy="100.56" r="0.52" opacity="0.08"/>
<circle cx="475.01" cy="116.29" r="0.52" opacity="0.05"/>
<circle cx="485.78" cy="107.47" r="0.58" opacity="0.11"/>
<circle cx="488.9" cy="157.09" r="0.82" opacity="0.13"/>
<circle cx="358.72" cy="94.84" r="0.91" opacity="0.07"/>
<circle cx="367.47" cy="157.18" r="0.85" opacity="0.05"/>
<circle cx="354.99" cy="109.37" r="0.98" opacity="0.1"/>
<circle cx="481.34" cy="39.3" r="0.79" opacity="0.05"/>
<circle cx="396.72" cy="46.14" r="0.73" opacity="0.05"/>
<circle cx="447.2" cy="123.19" r="0.95" opacity="0.13"/>
<circle cx="356.85" cy="157.68" r="0.77" opacity="0.16"/>
<circle cx="421.61" cy="35.6" r="0.85" opacity="0.05"/>
<circle cx="498.12" cy="106.58" r="0.95" opacity="0.08"/>
<circle cx="395.86" cy="125.65" r="0.85" opacity="0.08"/>
<circle cx="387.95" cy="88.16" r="0.86" opacity="0.06"/>
<circle cx="369.65" cy="98.02" r="0.83" opacity="0.05"/>
<circle cx="387.32" cy="173.59" r="0.63" opacity="0.13"/>
<circle cx="392.63" cy="36.3" r="0.74" opacity="0.15"/>
<circle cx="465.95" cy="30.45" r="0.85" opacity="0.1"/>
<circle cx="420.1" cy="126.03" r="0.76" opacity="0.05"/>
<circle cx="453.25" cy="42.98" r="0.65" opacity="0.14"/>
<circle cx="433.46" cy="102.23" r="0.85" opacity="0.08"/>
<circle cx="404.82" cy="108.59" r="0.51" opacity="0.07"/>
<circle cx="351.23" cy="177.34" r="0.95" opacity="0.11"/>
<circle cx="369.7" cy="155.55" r="0.64" opacity="0.13"/>
<circle cx="446.34" cy="116.77" r="0.87" opacity="0.06"/>
<circle cx="474.82" cy="107.09" r="0.88" opacity="0.14"/>
<circle cx="384.68" cy="86.66" r="0.68" opacity="0.05"/>
<circle cx="481.25" cy="129.27" r="0.74" opacity="0.09"/>
<circle cx="481.91" cy="33.82" r="0.68" opacity="0.11"/>
<circle cx="428.24" cy="100.09" r="0.63" opacity="0.06"/>
<circle cx="449.32" cy="75.85" r="0.97" opacity="0.16"/>
<circle cx="495.98" cy="65.87" r="0.76" opacity="0.05"/>
<circle cx="400.97" cy="34.55" r="0.75" opacity="0.17"/>
<circle cx="463.66" cy="79.39" r="0.64" opacity="0.16"/>
<circle cx="353.29" cy="153.98" r="0.93" opacity="0.05"/>
<circle cx="492.99" cy="123.15" r="0.69" opacity="0.07"/>
<circle cx="439.72" cy="104.67" r="0.93" opacity="0.15"/>
<circle cx="395.88" cy="24.35" r="0.89" opacity="0.1"/>
<circle cx="446.96" cy="34.52" r="0.54" opacity="0.15"/>
<circle cx="401.68" cy="96.27" r="0.99" opacity="0.05"/>
<circle cx="443.86" cy="32.54" r="0.78" opacity="0.12"/>
<circle cx="369.58" cy="140.76" r="0.98" opacity="0.14"/>
<circle cx="468.04" cy="169.84" r="0.86" opacity="0.09"/>
<circle cx="473.29" cy="147.98" r="0.81" opacity="0.11"/>
<circle cx="372.84" cy="75.45" r="0.66" opacity="0.15"/>
<circle cx="466.62" cy="68.06" r="1" opacity="0.05"/>
<circle cx="354.69" cy="73.8" r="0.54" opacity="0.17"/>
<circle cx="400.88" cy="83.18" r="0.93" opacity="0.09"/>
<circle cx="443.14" cy="91.19" r="0.73" opacity="0.17"/>
<circle cx="388.22" cy="104.44" r="0.74" opacity="0.05"/>
<circle cx="367.85" cy="101.54" r="0.9" opacity="0.07"/>
<circle cx="354.29" cy="167.93" r="0.57" opacity="0.15"/>
<circle cx="352.13" cy="123.7" r="0.57" opacity="0.06"/>
<circle cx="410.65" cy="140.09" r="0.72" opacity="0.07"/>
<circle cx="407.67" cy="103.72" r="0.64" opacity="0.17"/>
<circle cx="374.71" cy="43.55" r="0.77" opacity="0.07"/>
<circle cx="457.27" cy="29.12" r="0.84" opacity="0.07"/>
<circle cx="489.29" cy="69.52" r="0.72" opacity="0.06"/>
<circle cx="428.05" cy="66.54" r="0.83" opacity="0.07"/>
<circle cx="455.21" cy="68.18" r="0.73" opacity="0.09"/>
<circle cx="456.83" cy="124.13" r="0.71" opacity="0.05"/>
<circle cx="362.55" cy="45.74" r="0.59" opacity="0.05"/>
<circle cx="448.04" cy="75.83" r="0.95" opacity="0.06"/>
<circle cx="383.31" cy="51.35" r="0.57" opacity="0.11"/>
<circle cx="435.04" cy="61.95" r="0.91" opacity="0.11"/>
<circle cx="411.76" cy="117.21" r="0.83" opacity="0.08"/>
<circle cx="359.35" cy="79.5" r="0.97" opacity="0.07"/>
<circle cx="444.45" cy="36.7" r="0.89" opacity="0.15"/>
<circle cx="403.12" cy="80.67" r="0.76" opacity="0.06"/>
<circle cx="377.74" cy="42.93" r="0.84" opacity="0.08"/>
<circle cx="493.79" cy="172.18" r="0.94" opacity="0.17"/>
<circle cx="475.44" cy="26.8" r="0.56" opacity="0.17"/>
<circle cx="480.97" cy="118.45" r="0.81" opacity="0.07"/>
<circle cx="411.16" cy="45.59" r="0.77" opacity="0.06"/>
<circle cx="364.05" cy="157.91" r="0.79" opacity="0.15"/>
<circle cx="390.81" cy="112.4" r="0.64" opacity="0.14"/>
<circle cx="377.6" cy="123.39" r="0.78" opacity="0.06"/>
<circle cx="357.54" cy="98.44" r="0.76" opacity="0.14"/>
<circle cx="376.69" cy="51.74" r="0.65" opacity="0.13"/>
<circle cx="381.2" cy="121.26" r="0.52" opacity="0.05"/>
<circle cx="455.24" cy="100.02" r="0.56" opacity="0.08"/>
<circle cx="491.35" cy="83.63" r="0.78" opacity="0.07"/>
<circle cx="423.69" cy="29.72" r="0.94" opacity="0.09"/>
<circle cx="399.08" cy="67.08" r="0.59" opacity="0.16"/>
<circle cx="475.87" cy="81.66" r="0.8" opacity="0.09"/>
<circle cx="376.24" cy="28.15" r="0.87" opacity="0.05"/>
<circle cx="432.96" cy="25.66" r="0.51" opacity="0.05"/>
<circle cx="446.73" cy="117.98" r="1" opacity="0.11"/>
<circle cx="426.29" cy="25.04" r="0.98" opacity="0.08"/>
<circle cx="478.51" cy="29.51" r="0.92" opacity="0.08"/>
<circle cx="378.81" cy="85.94" r="0.54" opacity="0.09"/>
<circle cx="379.16" cy="131.76" r="0.59" opacity="0.11"/>
<circle cx="441.13" cy="133.32" r="0.98" opacity="0.06"/>
<circle cx="451.3" cy="84.57" r="0.95" opacity="0.14"/>
<circle cx="463.85" cy="116" r="0.63" opacity="0.16"/>
<circle cx="495.75" cy="170.24" r="0.67" opacity="0.14"/>
<circle cx="450.67" cy="153.16" r="0.9" opacity="0.08"/>
<circle cx="406.55" cy="146.32" r="0.83" opacity="0.09"/>
<circle cx="480.96" cy="27.93" r="0.51" opacity="0.08"/>
<circle cx="360.23" cy="153.54" r="0.54" opacity="0.15"/>
<circle cx="380.09" cy="43.77" r="0.88" opacity="0.11"/>
<circle cx="408.92" cy="115.41" r="0.78" opacity="0.17"/>
<circle cx="424.03" cy="106.64" r="0.73" opacity="0.07"/>
<circle cx="452.4" cy="40.29" r="0.85" opacity="0.16"/>
<circle cx="463.46" cy="107.16" r="0.68" opacity="0.05"/>
<circle cx="359.46" cy="106.58" r="0.94" opacity="0.15"/>
<circle cx="373.61" cy="139.13" r="0.9" opacity="0.08"/>
<circle cx="478.56" cy="51.94" r="0.67" opacity="0.08"/>
<circle cx="458.11" cy="92.57" r="0.65" opacity="0.15"/>
<circle cx="406.04" cy="88.04" r="0.61" opacity="0.08"/>
<circle cx="454.91" cy="79.07" r="0.83" opacity="0.08"/>
<circle cx="346.95" cy="172.16" r="0.64" opacity="0.09"/>
<circle cx="494.2" cy="55.04" r="0.53" opacity="0.06"/>
<circle cx="368.88" cy="154.94" r="0.76" opacity="0.05"/>
<circle cx="387.34" cy="102.22" r="0.59" opacity="0.06"/>
<circle cx="485.77" cy="91.91" r="0.62" opacity="0.1"/>
<circle cx="362.64" cy="103.59" r="0.82" opacity="0.05"/>
<circle cx="430.4" cy="70.96" r="0.87" opacity="0.1"/>
<circle cx="486.52" cy="117.12" r="0.59" opacity="0.05"/>
<circle cx="454.53" cy="148.61" r="0.53" opacity="0.07"/>
<circle cx="389.08" cy="95.45" r="0.94" opacity="0.09"/>
<circle cx="460.82" cy="141.55" r="0.64" opacity="0.1"/>
<circle cx="403.44" cy="96.51" r="0.77" opacity="0.11"/>
<circle cx="371.28" cy="152.94" r="0.58" opacity="0.06"/>
<circle cx="477.15" cy="175.71" r="0.68" opacity="0.17"/>
<circle cx="350.92" cy="171.07" r="0.6" opacity="0.05"/>
<circle cx="463.59" cy="48.02" r="0.88" opacity="0.05"/>
<circle cx="364.37" cy="78.42" r="0.54" opacity="0.08"/>
<circle cx="398.92" cy="137.48" r="0.75" opacity="0.17"/>
<circle cx="476.27" cy="49.53" r="0.96" opacity="0.15"/>
<circle cx="432.95" cy="104.67" r="0.58" opacity="0.06"/>
<circle cx="379.33" cy="53.39" r="0.81" opacity="0.06"/>
<circle cx="464.47" cy="111.85" r="0.91" opacity="0.05"/>
<circle cx="476.83" cy="101.69" r="0.82" opacity="0.06"/>
<circle cx="453.34" cy="85.94" r="0.86" opacity="0.09"/>
<circle cx="366.89" cy="69.61" r="0.88" opacity="0.05"/>
<circle cx="443.35" cy="107.54" r="0.86" opacity="0.06"/>
<circle cx="419.27" cy="96.91" r="0.87" opacity="0.05"/>
<circle cx="424.44" cy="63.24" r="0.79" opacity="0.06"/>
<circle cx="377.16" cy="58.9" r="0.95" opacity="0.07"/>
<circle cx="481.97" cy="136.99" r="0.63" opacity="0.09"/>
<circle cx="346.46" cy="167.59" r="0.82" opacity="0.05"/>
<circle cx="425.79" cy="99.74" r="0.84" opacity="0.06"/>
<circle cx="486.57" cy="119.5" r="0.54" opacity="0.14"/>
<circle cx="482.65" cy="70.18" r="0.86" opacity="0.15"/>
<circle cx="482.24" cy="33.9" r="0.92" opacity="0.06"/>
<circle cx="469.79" cy="129.42" r="0.73" opacity="0.16"/>
<circle cx="470.01" cy="177.12" r="0.98" opacity="0.09"/>
<circle cx="459.38" cy="126.93" r="0.7" opacity="0.08"/>
<circle cx="424.07" cy="56.44" r="0.63" opacity="0.14"/>
<circle cx="476.67" cy="131.1" r="0.84" opacity="0.08"/>
<circle cx="434.22" cy="126.3" r="0.5" opacity="0.08"/>
<circle cx="495.89" cy="54.88" r="0.73" opacity="0.05"/>
<circle cx="384.75" cy="150.73" r="0.52" opacity="0.13"/>
<circle cx="469.19" cy="157.56" r="0.63" opacity="0.16"/>
<circle cx="408.6" cy="51" r="0.6" opacity="0.5"/>
<circle cx="476" cy="62" r="0.6" opacity="0.4"/>
</g>
<path d="M346.03,34.32C347.31,34.62 351.88,34.7 353.73,36.13C355.58,37.57 354.68,40.86 357.13,42.93C359.59,45.01 363.93,46.33 368.47,48.6C373,50.87 379.42,54.46 384.33,56.53C389.24,58.61 393.78,60.24 397.93,61.07C402.09,61.9 405.68,61.6 409.27,61.52C412.86,61.44 416.63,59.74 419.47,60.61C422.3,61.48 423.43,64.01 426.27,66.73C429.1,69.45 433.26,74.02 436.47,76.93C439.68,79.84 441.76,82.49 445.53,84.19C449.31,85.89 454.22,86.08 459.13,87.13C464.04,88.19 470.66,89.4 475,90.53C479.34,91.67 482.93,91.48 485.2,93.93C487.47,96.39 486.71,102.24 488.6,105.27C490.49,108.29 495.21,108.67 496.53,112.07C497.86,115.47 497.67,121.89 496.53,125.67C495.4,129.44 492.19,132.09 489.73,134.73C487.28,137.38 483.5,138.89 481.8,141.53C480.1,144.18 479.34,147.39 479.53,150.6C479.72,153.81 482.74,158.16 482.93,160.8C483.12,163.44 483.5,165.52 480.67,166.47C477.83,167.41 470.28,166.47 465.93,166.47C461.59,166.47 458,167.22 454.6,166.47C451.2,165.71 448.18,162.5 445.53,161.93C442.89,161.37 440.43,163.82 438.73,163.07C437.03,162.31 436.09,159.29 435.33,157.4C434.58,155.51 436.28,153.24 434.2,151.73C432.12,150.22 426.64,149.66 422.87,148.33C419.09,147.01 415.12,145.69 411.53,143.8C407.94,141.91 403.41,139.46 401.33,137C399.26,134.54 399.82,132.09 399.07,129.07C398.31,126.04 398.31,121.13 396.8,118.87C395.29,116.6 392.27,117.17 390,115.47C387.73,113.77 385.09,110.18 383.2,108.67C381.31,107.16 380.37,106.66 378.67,106.4C376.97,106.14 375.46,107.84 373,107.08C370.54,106.32 366.28,104.44 363.93,101.87C361.59,99.3 360,95.26 358.95,91.67C357.89,88.08 358.64,83.36 357.59,80.33C356.53,77.31 354.53,75.04 352.6,73.53C350.67,72.02 347.12,71.64 346.03,71.27Z" fill="none" stroke="#f0f0f0" stroke-width="1.3" stroke-dasharray="3.6 2.3"/>
<rect x="437.2" y="167" width="60.7" height="3.2" fill="#ffffff"/>
<text x="467.6" y="175.5" font-size="3.2" fill="#8f8f8f" text-anchor="middle" stroke="#8f8f8f">11.00µm</text>
</g>
<g clip-path="url(#cp10)">
<rect x="30.7" y="180.5" width="155.3" height="155" fill="#020202"/>
<path d="M73.73,218.07C76.57,216.93 82.23,216.74 86.2,215.8C90.17,214.86 93.94,212.59 97.53,212.4C101.12,212.21 105.28,215.04 107.73,214.67C110.19,214.29 110.57,211.27 112.27,210.13C113.97,209 115.86,207.49 117.93,207.87C120.01,208.24 123.6,210.13 124.73,212.4C125.87,214.67 123.6,218.82 124.73,221.47C125.87,224.11 128.7,226 131.53,228.27C134.37,230.53 139.09,234.5 141.73,235.07C144.38,235.63 145.13,232.04 147.4,231.67C149.67,231.29 153.14,231.48 155.33,232.8C157.52,234.12 159.68,236.77 160.55,239.6C161.42,242.43 161.79,246.78 160.55,249.8C159.3,252.82 152.99,255.28 153.07,257.73C153.14,260.19 159.3,261.32 161,264.53C162.7,267.74 162.59,273.03 163.27,277C163.95,280.97 164.7,284.93 165.08,288.33C165.46,291.73 167.35,296.46 165.53,297.4C163.72,298.34 157.98,294.76 154.2,294C150.42,293.24 145.89,293.24 142.87,292.87C139.84,292.49 139.09,291.73 136.07,291.73C133.04,291.73 128.32,292.6 124.73,292.87C121.14,293.13 118.31,293.7 114.53,293.32C110.76,292.94 106.41,291.62 102.07,290.6C97.72,289.58 92.62,288.9 88.47,287.2C84.31,285.5 80.91,282.48 77.13,280.4C73.36,278.32 69.01,276.06 65.8,274.73C62.59,273.41 59,274.92 57.87,272.47C56.73,270.01 58.24,264.53 59,260C59.76,255.47 61.27,250.18 62.4,245.27C63.53,240.36 64.67,234.31 65.8,230.53C66.93,226.76 67.88,224.68 69.2,222.6C70.52,220.52 70.9,219.2 73.73,218.07Z" fill="#c8611a" opacity="0" filter="url(#hazeA)"/>
<g fill="#ff7a14" filter="url(#blurA)">
<circle cx="97.89" cy="248.19" r="0.48" opacity="0.12"/>
<circle cx="134.39" cy="236.34" r="0.36" opacity="0.04"/>
<circle cx="147.53" cy="278.35" r="0.37" opacity="0.16"/>
<circle cx="94.46" cy="219.3" r="0.32" opacity="0.18"/>
<circle cx="118.49" cy="219.92" r="0.31" opacity="0.1"/>
<circle cx="106.3" cy="219.85" r="0.46" opacity="0.05"/>
<circle cx="138.54" cy="279.02" r="0.32" opacity="0.12"/>
<circle cx="91.24" cy="245.61" r="0.32" opacity="0.15"/>
<circle cx="152.87" cy="269.57" r="0.31" opacity="0.28"/>
<circle cx="135.68" cy="253.19" r="0.44" opacity="0.05"/>
<circle cx="122.26" cy="278.23" r="0.42" opacity="0.16"/>
<circle cx="64.6" cy="250.7" r="0.31" opacity="0.14"/>
<circle cx="100.6" cy="248.68" r="0.36" opacity="0.13"/>
<circle cx="153.73" cy="233.13" r="0.32" opacity="0.05"/>
<circle cx="96.66" cy="288.82" r="0.45" opacity="0.27"/>
<circle cx="85.17" cy="250.21" r="0.39" opacity="0.05"/>
<circle cx="71.13" cy="237.44" r="0.3" opacity="0.05"/>
<circle cx="144.48" cy="283.39" r="0.38" opacity="0.07"/>
<circle cx="68.03" cy="265.73" r="0.3" opacity="0.16"/>
<circle cx="130.26" cy="228.59" r="0.35" opacity="0.06"/>
<circle cx="151.68" cy="264.33" r="0.4" opacity="0.14"/>
<circle cx="141.78" cy="253.97" r="0.37" opacity="0.11"/>
<circle cx="139.2" cy="255.6" r="0.32" opacity="0.11"/>
<circle cx="113.94" cy="285.8" r="0.4" opacity="0.06"/>
<circle cx="112.59" cy="260.1" r="0.37" opacity="0.1"/>
<circle cx="112.71" cy="269.49" r="0.46" opacity="0.11"/>
<circle cx="142.29" cy="268.75" r="0.3" opacity="0.06"/>
<circle cx="91.63" cy="239.58" r="0.35" opacity="0.07"/>
<circle cx="97.83" cy="270.54" r="0.47" opacity="0.05"/>
<circle cx="98.28" cy="286.42" r="0.43" opacity="0.07"/>
<circle cx="102.61" cy="239.23" r="0.34" opacity="0.18"/>
<circle cx="154.14" cy="289.93" r="0.42" opacity="0.05"/>
<circle cx="79.47" cy="238.33" r="0.31" opacity="0.1"/>
<circle cx="72.06" cy="266.33" r="0.33" opacity="0.06"/>
<circle cx="131.71" cy="237.24" r="0.3" opacity="0.22"/>
<circle cx="139.06" cy="286.5" r="0.32" opacity="0.06"/>
<circle cx="116.91" cy="212.48" r="0.32" opacity="0.09"/>
<circle cx="121.58" cy="214.83" r="0.49" opacity="0.18"/>
<circle cx="145.34" cy="274.95" r="0.31" opacity="0.06"/>
<circle cx="62.1" cy="257.23" r="0.3" opacity="0.05"/>
<circle cx="73" cy="242" r="0.43" opacity="0.05"/>
<circle cx="142.8" cy="256.58" r="0.43" opacity="0.08"/>
<circle cx="135.73" cy="253.26" r="0.42" opacity="0.05"/>
<circle cx="87.94" cy="226.81" r="0.44" opacity="0.17"/>
<circle cx="74.54" cy="272.83" r="0.3" opacity="0.1"/>
<circle cx="85.55" cy="276.32" r="0.4" opacity="0.16"/>
<circle cx="126.78" cy="270.06" r="0.3" opacity="0.22"/>
<circle cx="154.48" cy="240.22" r="0.35" opacity="0.15"/>
<circle cx="157.54" cy="266.03" r="0.35" opacity="0.19"/>
<circle cx="116.79" cy="244.92" r="0.32" opacity="0.09"/>
<circle cx="81.68" cy="235.79" r="0.41" opacity="0.23"/>
<circle cx="107.01" cy="283.58" r="0.3" opacity="0.11"/>
<circle cx="138.02" cy="277.8" r="0.33" opacity="0.05"/>
<circle cx="128.19" cy="238.84" r="0.3" opacity="0.13"/>
<circle cx="101.44" cy="287.56" r="0.39" opacity="0.19"/>
<circle cx="118.95" cy="297.13" r="0.31" opacity="0.22"/>
<circle cx="60.08" cy="194.61" r="0.45" opacity="0.14"/>
<circle cx="133.96" cy="219.96" r="0.37" opacity="0.15"/>
<circle cx="129.93" cy="321.4" r="0.3" opacity="0.15"/>
<circle cx="32.75" cy="277.33" r="0.39" opacity="0.04"/>
<circle cx="165.05" cy="192.45" r="0.38" opacity="0.16"/>
<circle cx="48.8" cy="318.76" r="0.56" opacity="0.06"/>
<circle cx="63.05" cy="203.03" r="0.31" opacity="0.07"/>
<circle cx="140.23" cy="325.62" r="0.39" opacity="0.2"/>
<circle cx="30.72" cy="245.35" r="0.3" opacity="0.05"/>
<circle cx="155.97" cy="198.23" r="0.33" opacity="0.09"/>
<circle cx="112.07" cy="185.22" r="0.3" opacity="0.12"/>
<circle cx="93.4" cy="194.79" r="0.37" opacity="0.07"/>
<circle cx="185.53" cy="187.92" r="0.31" opacity="0.04"/>
<circle cx="116.09" cy="329.29" r="0.48" opacity="0.05"/>
<circle cx="182.08" cy="290.02" r="0.41" opacity="0.06"/>
<circle cx="44.65" cy="245.66" r="0.59" opacity="0.07"/>
<circle cx="109.07" cy="297.23" r="0.5" opacity="0.14"/>
<circle cx="89.75" cy="290.75" r="0.31" opacity="0.11"/>
<circle cx="33.17" cy="210.32" r="0.31" opacity="0.07"/>
<circle cx="145.03" cy="183.73" r="0.53" opacity="0.05"/>
<circle cx="177.92" cy="327.5" r="0.41" opacity="0.17"/>
<circle cx="176.45" cy="249.88" r="0.52" opacity="0.04"/>
<circle cx="150.99" cy="203.62" r="0.3" opacity="0.09"/>
<circle cx="180.77" cy="219.7" r="0.5" opacity="0.21"/>
<circle cx="50.02" cy="192.06" r="0.32" opacity="0.05"/>
<circle cx="170.03" cy="236.6" r="0.53" opacity="0.1"/>
<circle cx="169.8" cy="319.39" r="0.45" opacity="0.08"/>
<circle cx="78.98" cy="308.83" r="0.3" opacity="0.12"/>
<circle cx="114.71" cy="332.67" r="0.6" opacity="0.07"/>
<circle cx="179" cy="328.55" r="0.38" opacity="0.1"/>
<circle cx="61.29" cy="302.75" r="0.37" opacity="0.15"/>
<circle cx="173.5" cy="277.09" r="0.44" opacity="0.1"/>
<circle cx="51" cy="251.62" r="0.3" opacity="0.05"/>
<circle cx="182.59" cy="239.4" r="0.31" opacity="0.08"/>
<circle cx="39.99" cy="274.53" r="0.32" opacity="0.05"/>
<circle cx="129.36" cy="323.84" r="0.3" opacity="0.13"/>
<circle cx="95.97" cy="182.22" r="0.34" opacity="0.09"/>
<circle cx="82.66" cy="334.48" r="0.33" opacity="0.17"/>
<circle cx="156.26" cy="303.57" r="0.37" opacity="0.09"/>
<circle cx="161.37" cy="198.71" r="0.32" opacity="0.04"/>
<circle cx="178.74" cy="324.68" r="0.35" opacity="0.09"/>
<circle cx="46.96" cy="297.15" r="0.38" opacity="0.05"/>
<circle cx="166.53" cy="187.1" r="0.31" opacity="0.08"/>
<circle cx="185.14" cy="201.98" r="0.32" opacity="0.15"/>
<circle cx="82.78" cy="324.42" r="0.3" opacity="0.05"/>
<circle cx="78.69" cy="311.88" r="0.3" opacity="0.12"/>
<circle cx="168.06" cy="331.41" r="0.49" opacity="0.04"/>
<circle cx="49.59" cy="218.16" r="0.46" opacity="0.1"/>
<circle cx="50.9" cy="224.75" r="0.3" opacity="0.19"/>
<circle cx="179.61" cy="332" r="0.31" opacity="0.06"/>
<circle cx="60.34" cy="277.81" r="0.41" opacity="0.09"/>
<circle cx="79.45" cy="284.06" r="0.57" opacity="0.04"/>
<circle cx="106.01" cy="202.12" r="0.47" opacity="0.08"/>
<circle cx="179.28" cy="270.29" r="0.41" opacity="0.21"/>
<circle cx="46.73" cy="323.24" r="0.3" opacity="0.19"/>
<circle cx="175.28" cy="282.97" r="0.57" opacity="0.11"/>
<circle cx="65.15" cy="192.71" r="0.47" opacity="0.08"/>
<circle cx="50.02" cy="267.1" r="0.32" opacity="0.06"/>
<circle cx="166.42" cy="276.27" r="0.47" opacity="0.16"/>
<circle cx="151.3" cy="317.49" r="0.33" opacity="0.13"/>
<circle cx="64.06" cy="181.72" r="0.44" opacity="0.15"/>
<circle cx="81.79" cy="334.62" r="0.46" opacity="0.06"/>
<circle cx="148.45" cy="311.2" r="0.31" opacity="0.19"/>
<circle cx="40.01" cy="278.22" r="0.45" opacity="0.13"/>
<circle cx="92.12" cy="313.36" r="0.3" opacity="0.05"/>
<circle cx="33.54" cy="266.39" r="0.38" opacity="0.05"/>
<circle cx="112.1" cy="181.06" r="0.3" opacity="0.21"/>
<circle cx="167.89" cy="191.25" r="0.43" opacity="0.09"/>
<circle cx="114.1" cy="310.7" r="0.42" opacity="0.2"/>
<circle cx="136.3" cy="322.27" r="0.3" opacity="0.16"/>
<circle cx="80.2" cy="323.13" r="0.49" opacity="0.21"/>
<circle cx="111.83" cy="301.72" r="0.3" opacity="0.1"/>
<circle cx="136.29" cy="320.45" r="0.34" opacity="0.09"/>
<circle cx="105.66" cy="310.4" r="0.32" opacity="0.06"/>
<circle cx="54.63" cy="332.07" r="0.38" opacity="0.14"/>
<circle cx="94.58" cy="184.73" r="0.34" opacity="0.1"/>
<circle cx="44.7" cy="332.31" r="0.4" opacity="0.08"/>
<circle cx="35.16" cy="218.69" r="0.33" opacity="0.12"/>
<circle cx="57.67" cy="255.64" r="0.32" opacity="0.1"/>
<circle cx="43.65" cy="282.22" r="0.37" opacity="0.15"/>
<circle cx="175.85" cy="234.96" r="0.52" opacity="0.05"/>
<circle cx="131.4" cy="181.35" r="0.5" opacity="0.08"/>
<circle cx="39.14" cy="222.4" r="0.56" opacity="0.06"/>
<circle cx="88.43" cy="327.29" r="0.59" opacity="0.05"/>
<circle cx="65.54" cy="206.99" r="0.36" opacity="0.06"/>
<circle cx="135.16" cy="317.67" r="0.3" opacity="0.04"/>
<circle cx="48.07" cy="228.51" r="0.31" opacity="0.08"/>
<circle cx="87.01" cy="293.16" r="0.58" opacity="0.21"/>
<circle cx="51.18" cy="275.07" r="0.53" opacity="0.18"/>
<circle cx="52.41" cy="206.23" r="0.54" opacity="0.13"/>
<circle cx="148.8" cy="190.93" r="0.41" opacity="0.04"/>
<circle cx="144.83" cy="303.59" r="0.33" opacity="0.04"/>
<circle cx="144.23" cy="335.14" r="0.42" opacity="0.07"/>
<circle cx="81.66" cy="306.26" r="0.58" opacity="0.07"/>
<circle cx="64.93" cy="334.85" r="0.35" opacity="0.08"/>
<circle cx="78.84" cy="292.77" r="0.59" opacity="0.08"/>
<circle cx="163.14" cy="242.53" r="0.35" opacity="0.16"/>
<circle cx="181.09" cy="297.47" r="0.45" opacity="0.16"/>
<circle cx="173.08" cy="328.18" r="0.38" opacity="0.07"/>
<circle cx="31.79" cy="262.11" r="0.34" opacity="0.04"/>
<circle cx="184.54" cy="228.13" r="0.56" opacity="0.04"/>
<circle cx="86.44" cy="301.9" r="0.44" opacity="0.12"/>
<circle cx="106.32" cy="194.65" r="0.51" opacity="0.15"/>
<circle cx="155.22" cy="257.08" r="0.37" opacity="0.09"/>
<circle cx="144.73" cy="294.43" r="0.33" opacity="0.15"/>
<circle cx="89.16" cy="319.79" r="0.57" opacity="0.15"/>
<circle cx="35.93" cy="264.98" r="0.56" opacity="0.04"/>
<circle cx="168.76" cy="269.14" r="0.6" opacity="0.14"/>
<circle cx="142.05" cy="297.14" r="0.35" opacity="0.05"/>
<circle cx="163.1" cy="316.38" r="0.46" opacity="0.05"/>
<circle cx="101.57" cy="332.39" r="0.42" opacity="0.21"/>
<circle cx="171.41" cy="207.98" r="0.48" opacity="0.07"/>
<circle cx="145.29" cy="227.09" r="0.44" opacity="0.07"/>
<circle cx="130.35" cy="334.86" r="0.32" opacity="0.04"/>
<circle cx="169.43" cy="261.8" r="0.43" opacity="0.17"/>
<circle cx="168.63" cy="240.28" r="0.59" opacity="0.07"/>
<circle cx="143.27" cy="309.35" r="0.34" opacity="0.08"/>
<circle cx="94.52" cy="311.83" r="0.3" opacity="0.22"/>
<circle cx="130.18" cy="226.91" r="0.48" opacity="0.18"/>
<circle cx="64.6" cy="219.33" r="0.52" opacity="0.12"/>
<circle cx="59.39" cy="181.08" r="0.34" opacity="0.1"/>
<circle cx="145.69" cy="296.6" r="0.34" opacity="0.04"/>
<circle cx="161.25" cy="265.93" r="0.4" opacity="0.13"/>
<circle cx="115.69" cy="321.01" r="0.3" opacity="0.21"/>
<circle cx="171.24" cy="319.21" r="0.41" opacity="0.04"/>
<circle cx="119.59" cy="309.12" r="0.31" opacity="0.17"/>
<circle cx="36.48" cy="197.01" r="0.32" opacity="0.09"/>
<circle cx="176.28" cy="207.13" r="0.33" opacity="0.07"/>
<circle cx="134.46" cy="203.79" r="0.3" opacity="0.1"/>
<circle cx="142.81" cy="201.24" r="0.3" opacity="0.12"/>
<circle cx="40.85" cy="323.89" r="0.44" opacity="0.05"/>
<circle cx="94.13" cy="189.13" r="0.3" opacity="0.07"/>
<circle cx="166.64" cy="321.4" r="0.47" opacity="0.12"/>
<circle cx="92.3" cy="310.12" r="0.33" opacity="0.07"/>
<circle cx="135.92" cy="329.82" r="0.34" opacity="0.08"/>
<circle cx="92.97" cy="213.04" r="0.34" opacity="0.15"/>
<circle cx="59.79" cy="254.47" r="0.32" opacity="0.1"/>
<circle cx="150.48" cy="198.4" r="0.37" opacity="0.05"/>
<circle cx="64.97" cy="216.22" r="0.33" opacity="0.06"/>
<circle cx="168.97" cy="315.88" r="0.49" opacity="0.07"/>
<circle cx="101.52" cy="211.67" r="0.36" opacity="0.2"/>
<circle cx="44.84" cy="241.58" r="0.31" opacity="0.17"/>
<circle cx="38.76" cy="287.47" r="0.38" opacity="0.16"/>
<circle cx="142.45" cy="295.77" r="0.32" opacity="0.06"/>
<circle cx="123.29" cy="188.13" r="0.56" opacity="0.14"/>
<circle cx="42.69" cy="266.38" r="0.48" opacity="0.05"/>
<circle cx="46.05" cy="286.7" r="0.37" opacity="0.15"/>
<circle cx="94.44" cy="332.65" r="0.53" opacity="0.06"/>
<circle cx="100.47" cy="307.19" r="0.45" opacity="0.16"/>
<circle cx="33.19" cy="306.32" r="0.36" opacity="0.05"/>
<circle cx="163.13" cy="266.7" r="0.46" opacity="0.14"/>
<circle cx="127.16" cy="322.1" r="0.3" opacity="0.06"/>
<circle cx="56.07" cy="279.04" r="0.31" opacity="0.04"/>
<circle cx="51.81" cy="207.52" r="0.39" opacity="0.08"/>
<circle cx="102.66" cy="182.39" r="0.38" opacity="0.06"/>
<circle cx="44.86" cy="189.28" r="0.31" opacity="0.07"/>
<circle cx="56.53" cy="252.3" r="0.31" opacity="0.14"/>
<circle cx="166.38" cy="230.64" r="0.3" opacity="0.21"/>
<circle cx="43.73" cy="281.18" r="0.47" opacity="0.09"/>
<circle cx="168.73" cy="203.32" r="0.46" opacity="0.19"/>
<circle cx="169.66" cy="312.02" r="0.36" opacity="0.09"/>
<circle cx="162.16" cy="239.33" r="0.32" opacity="0.04"/>
<circle cx="62.32" cy="202.27" r="0.56" opacity="0.06"/>
<circle cx="85.29" cy="331.46" r="0.44" opacity="0.08"/>
<circle cx="47.03" cy="237.08" r="0.33" opacity="0.2"/>
<circle cx="95.87" cy="331.19" r="0.32" opacity="0.04"/>
<circle cx="170" cy="192.13" r="0.49" opacity="0.11"/>
<circle cx="74.67" cy="309.71" r="0.36" opacity="0.21"/>
<circle cx="117.14" cy="326.69" r="0.56" opacity="0.07"/>
<circle cx="137.8" cy="293.27" r="0.43" opacity="0.04"/>
<circle cx="137.28" cy="298.49" r="0.31" opacity="0.05"/>
<circle cx="41.15" cy="264.79" r="0.3" opacity="0.17"/>
<circle cx="95.03" cy="334.71" r="0.46" opacity="0.08"/>
<circle cx="58.98" cy="246.57" r="0.41" opacity="0.17"/>
<circle cx="168.86" cy="230.78" r="0.3" opacity="0.12"/>
<circle cx="155.11" cy="306.3" r="0.42" opacity="0.16"/>
<circle cx="50.08" cy="327.04" r="0.43" opacity="0.05"/>
<circle cx="56.8" cy="279.84" r="0.33" opacity="0.2"/>
<circle cx="108.71" cy="326.12" r="0.33" opacity="0.18"/>
<circle cx="177.26" cy="317.37" r="0.47" opacity="0.1"/>
<circle cx="37.49" cy="214.67" r="0.43" opacity="0.05"/>
<circle cx="90.71" cy="307.95" r="0.51" opacity="0.14"/>
<circle cx="183.36" cy="323.93" r="0.41" opacity="0.05"/>
<circle cx="170.37" cy="187.57" r="0.3" opacity="0.12"/>
<circle cx="61.12" cy="297.22" r="0.44" opacity="0.05"/>
<circle cx="171.41" cy="335.13" r="0.43" opacity="0.21"/>
<circle cx="158.41" cy="325.85" r="0.45" opacity="0.05"/>
<circle cx="88.4" cy="289.54" r="0.34" opacity="0.05"/>
<circle cx="101.37" cy="202.34" r="0.37" opacity="0.05"/>
<circle cx="143.26" cy="213.5" r="0.56" opacity="0.05"/>
<circle cx="61.51" cy="277.65" r="0.39" opacity="0.11"/>
<circle cx="59.37" cy="254.36" r="0.51" opacity="0.11"/>
<circle cx="166.89" cy="188.72" r="0.37" opacity="0.09"/>
<circle cx="97.32" cy="180.91" r="0.3" opacity="0.17"/>
<circle cx="100.64" cy="188.61" r="0.3" opacity="0.16"/>
<circle cx="148.37" cy="211.02" r="0.33" opacity="0.05"/>
<circle cx="162.02" cy="335.13" r="0.4" opacity="0.04"/>
<circle cx="51.52" cy="284.68" r="0.31" opacity="0.19"/>
<circle cx="39.1" cy="189.08" r="0.6" opacity="0.07"/>
<circle cx="79.8" cy="319.26" r="0.31" opacity="0.1"/>
<circle cx="81.66" cy="329.21" r="0.54" opacity="0.21"/>
<circle cx="100.63" cy="328.05" r="0.64" opacity="0.08"/>
<circle cx="85.34" cy="328.75" r="0.7" opacity="0.07"/>
<circle cx="90.18" cy="315.78" r="0.41" opacity="0.27"/>
<circle cx="108.35" cy="326.59" r="0.34" opacity="0.23"/>
<circle cx="92.25" cy="315.93" r="0.31" opacity="0.23"/>
<circle cx="90.3" cy="314.64" r="0.52" opacity="0.32"/>
<circle cx="95.64" cy="331.17" r="0.56" opacity="0.09"/>
<circle cx="103.54" cy="319.02" r="0.67" opacity="0.16"/>
<circle cx="119.56" cy="319.88" r="0.54" opacity="0.11"/>
<circle cx="79.58" cy="324.07" r="0.56" opacity="0.12"/>
<circle cx="101.75" cy="319.51" r="0.41" opacity="0.08"/>
<circle cx="99.75" cy="326.37" r="0.3" opacity="0.16"/>
<circle cx="86.23" cy="317.87" r="0.55" opacity="0.15"/>
<circle cx="92.94" cy="319.68" r="0.34" opacity="0.07"/>
<circle cx="107.54" cy="331.86" r="0.31" opacity="0.17"/>
<circle cx="82.12" cy="328.24" r="0.6" opacity="0.26"/>
<circle cx="125.43" cy="318.59" r="0.36" opacity="0.34"/>
<circle cx="95.77" cy="317.17" r="0.34" opacity="0.15"/>
<circle cx="98.09" cy="319.74" r="0.62" opacity="0.2"/>
<circle cx="84.77" cy="318.62" r="0.36" opacity="0.12"/>
<circle cx="92.22" cy="315.66" r="0.5" opacity="0.28"/>
<circle cx="97" cy="322.61" r="0.65" opacity="0.08"/>
<circle cx="99.79" cy="316.38" r="0.32" opacity="0.07"/>
<circle cx="80.37" cy="325.52" r="0.3" opacity="0.07"/>
<circle cx="89.24" cy="334.04" r="0.53" opacity="0.09"/>
<circle cx="84.77" cy="325.55" r="0.5" opacity="0.09"/>
<circle cx="86.28" cy="327.61" r="0.32" opacity="0.12"/>
<circle cx="94.8" cy="314.89" r="0.3" opacity="0.1"/>
<circle cx="87.12" cy="320.14" r="0.36" opacity="0.16"/>
<circle cx="89.98" cy="324.87" r="0.61" opacity="0.07"/>
<circle cx="99.46" cy="320.51" r="0.42" opacity="0.15"/>
<circle cx="80.82" cy="326.53" r="0.61" opacity="0.1"/>
<circle cx="102.45" cy="323.48" r="0.61" opacity="0.17"/>
<circle cx="95.3" cy="316.04" r="0.34" opacity="0.2"/>
<circle cx="70.85" cy="316.5" r="0.31" opacity="0.1"/>
<circle cx="85.57" cy="309.81" r="0.39" opacity="0.24"/>
<circle cx="108.24" cy="327.44" r="0.34" opacity="0.2"/>
<circle cx="92.74" cy="325.69" r="0.33" opacity="0.22"/>
<circle cx="88.78" cy="309.12" r="0.37" opacity="0.07"/>
<circle cx="98.33" cy="317.69" r="0.51" opacity="0.14"/>
<circle cx="92.18" cy="322.52" r="0.32" opacity="0.23"/>
<circle cx="70.99" cy="325.1" r="0.56" opacity="0.15"/>
<circle cx="95.84" cy="321.95" r="0.36" opacity="0.15"/>
<circle cx="117.91" cy="326.03" r="0.31" opacity="0.16"/>
<circle cx="93.45" cy="327.83" r="0.39" opacity="0.09"/>
<circle cx="103.45" cy="329.83" r="0.46" opacity="0.07"/>
<circle cx="100.61" cy="321.52" r="0.32" opacity="0.09"/>
<circle cx="85.82" cy="327.24" r="0.63" opacity="0.07"/>
<circle cx="105" cy="254.48" r="0.33" opacity="0.11"/>
<circle cx="99.28" cy="259.84" r="0.54" opacity="0.13"/>
<circle cx="121.83" cy="258.58" r="0.57" opacity="0.12"/>
<circle cx="106.17" cy="260.62" r="0.3" opacity="0.19"/>
<circle cx="113.46" cy="255.2" r="0.37" opacity="0.28"/>
<circle cx="114.24" cy="261.9" r="0.35" opacity="0.16"/>
<circle cx="109.31" cy="259.33" r="0.64" opacity="0.2"/>
<circle cx="122.22" cy="256.97" r="0.39" opacity="0.11"/>
<circle cx="120.13" cy="254.16" r="0.48" opacity="0.08"/>
<circle cx="108.88" cy="256.17" r="0.63" opacity="0.11"/>
<circle cx="124.89" cy="255.49" r="0.35" opacity="0.16"/>
<circle cx="126.16" cy="254.41" r="0.57" opacity="0.16"/>
<circle cx="111.77" cy="255.51" r="0.58" opacity="0.18"/>
<circle cx="110.94" cy="254.27" r="0.53" opacity="0.15"/>
<circle cx="104.38" cy="268.21" r="0.54" opacity="0.2"/>
<circle cx="121.61" cy="251.78" r="0.36" opacity="0.33"/>
<circle cx="124.9" cy="253.67" r="0.38" opacity="0.14"/>
<circle cx="131.09" cy="259.37" r="0.58" opacity="0.17"/>
<circle cx="103.06" cy="305.07" r="0.51" opacity="0.07"/>
<circle cx="69.62" cy="274.74" r="0.68" opacity="0.1"/>
<circle cx="170.07" cy="244.15" r="0.56" opacity="0.05"/>
<circle cx="160.44" cy="253.11" r="0.72" opacity="0.05"/>
<circle cx="46.71" cy="180.59" r="0.95" opacity="0.05"/>
<circle cx="80.67" cy="253.85" r="0.79" opacity="0.06"/>
<circle cx="130.98" cy="279.59" r="0.99" opacity="0.05"/>
<circle cx="76.65" cy="196.43" r="0.64" opacity="0.06"/>
<circle cx="35.41" cy="305.62" r="0.64" opacity="0.12"/>
<circle cx="157.09" cy="303.92" r="0.51" opacity="0.09"/>
<circle cx="162.89" cy="278.5" r="0.8" opacity="0.07"/>
<circle cx="158.45" cy="263.21" r="0.68" opacity="0.08"/>
<circle cx="103.91" cy="209.52" r="0.84" opacity="0.14"/>
<circle cx="132.22" cy="182.11" r="0.7" opacity="0.13"/>
<circle cx="51.06" cy="258.84" r="0.84" opacity="0.09"/>
<circle cx="82.02" cy="183.13" r="0.85" opacity="0.05"/>
<circle cx="124.08" cy="261.78" r="0.86" opacity="0.05"/>
<circle cx="181.93" cy="296.43" r="0.94" opacity="0.05"/>
<circle cx="142.56" cy="239.16" r="0.85" opacity="0.11"/>
<circle cx="94.19" cy="327.37" r="0.72" opacity="0.08"/>
<circle cx="141.75" cy="203.97" r="0.95" opacity="0.06"/>
<circle cx="168.52" cy="202.98" r="0.56" opacity="0.1"/>
<circle cx="68.07" cy="248.69" r="0.6" opacity="0.12"/>
<circle cx="145.21" cy="286.86" r="0.57" opacity="0.05"/>
<circle cx="121.21" cy="193.12" r="0.86" opacity="0.09"/>
<circle cx="175.49" cy="307.31" r="0.83" opacity="0.14"/>
<circle cx="109.52" cy="225.57" r="0.53" opacity="0.11"/>
<circle cx="134.09" cy="278.54" r="0.76" opacity="0.08"/>
<circle cx="173.45" cy="238.84" r="0.57" opacity="0.17"/>
<circle cx="148.95" cy="319.42" r="0.99" opacity="0.07"/>
<circle cx="54.84" cy="256.88" r="0.75" opacity="0.07"/>
<circle cx="152.8" cy="219.25" r="0.99" opacity="0.06"/>
<circle cx="74.79" cy="309.12" r="0.62" opacity="0.12"/>
<circle cx="73.23" cy="243.91" r="0.73" opacity="0.06"/>
<circle cx="158.55" cy="326.33" r="0.96" opacity="0.05"/>
<circle cx="34.7" cy="248.73" r="0.87" opacity="0.09"/>
<circle cx="179.9" cy="333.57" r="0.84" opacity="0.06"/>
<circle cx="93.08" cy="190.61" r="0.7" opacity="0.12"/>
<circle cx="79.81" cy="209.19" r="0.77" opacity="0.15"/>
<circle cx="130.98" cy="197.55" r="0.72" opacity="0.06"/>
<circle cx="156.8" cy="245.34" r="0.72" opacity="0.15"/>
<circle cx="76.8" cy="250.05" r="0.99" opacity="0.06"/>
<circle cx="114.5" cy="281" r="0.67" opacity="0.1"/>
<circle cx="96.15" cy="309.32" r="0.78" opacity="0.12"/>
<circle cx="119.71" cy="288.56" r="0.69" opacity="0.05"/>
<circle cx="87.16" cy="230.95" r="0.51" opacity="0.13"/>
<circle cx="112.2" cy="254.92" r="0.85" opacity="0.05"/>
<circle cx="50.21" cy="291.64" r="0.52" opacity="0.15"/>
<circle cx="109.6" cy="330.38" r="0.93" opacity="0.07"/>
<circle cx="84.07" cy="247.77" r="0.88" opacity="0.08"/>
<circle cx="142.53" cy="334.13" r="0.87" opacity="0.08"/>
<circle cx="145.96" cy="257.07" r="0.79" opacity="0.07"/>
<circle cx="175.96" cy="333.51" r="0.78" opacity="0.09"/>
<circle cx="46.72" cy="268.15" r="0.96" opacity="0.06"/>
<circle cx="151.01" cy="219.97" r="0.86" opacity="0.06"/>
<circle cx="123.19" cy="300.66" r="0.52" opacity="0.14"/>
<circle cx="112.01" cy="218.35" r="0.65" opacity="0.09"/>
<circle cx="145.79" cy="208.1" r="0.54" opacity="0.06"/>
<circle cx="129.22" cy="242.97" r="0.88" opacity="0.12"/>
<circle cx="87.82" cy="271.88" r="0.57" opacity="0.1"/>
<circle cx="131.22" cy="217.15" r="0.83" opacity="0.05"/>
<circle cx="181.63" cy="265.41" r="0.96" opacity="0.11"/>
<circle cx="64.03" cy="294.01" r="0.81" opacity="0.07"/>
<circle cx="138.3" cy="298.33" r="0.84" opacity="0.06"/>
<circle cx="180.64" cy="321.48" r="0.72" opacity="0.16"/>
<circle cx="184.99" cy="233.9" r="0.6" opacity="0.06"/>
<circle cx="106.75" cy="202.89" r="0.62" opacity="0.12"/>
<circle cx="33.6" cy="275.35" r="0.7" opacity="0.12"/>
<circle cx="70.89" cy="254.66" r="0.61" opacity="0.05"/>
<circle cx="164.93" cy="237.31" r="0.65" opacity="0.16"/>
<circle cx="88.18" cy="264.37" r="0.57" opacity="0.07"/>
<circle cx="166.64" cy="308.29" r="0.91" opacity="0.16"/>
<circle cx="66.54" cy="188.63" r="0.57" opacity="0.11"/>
<circle cx="115.44" cy="237.73" r="0.86" opacity="0.06"/>
<circle cx="125.12" cy="245.18" r="0.57" opacity="0.13"/>
<circle cx="59.33" cy="304.54" r="0.88" opacity="0.07"/>
<circle cx="101.12" cy="212.28" r="0.57" opacity="0.11"/>
<circle cx="88.28" cy="267.73" r="0.68" opacity="0.06"/>
<circle cx="56.02" cy="298.67" r="0.72" opacity="0.05"/>
<circle cx="166.31" cy="204.39" r="0.61" opacity="0.05"/>
<circle cx="117.61" cy="301.04" r="0.52" opacity="0.16"/>
<circle cx="139.79" cy="309.32" r="0.71" opacity="0.07"/>
<circle cx="45.28" cy="221.18" r="0.94" opacity="0.06"/>
<circle cx="170.6" cy="309.69" r="0.96" opacity="0.05"/>
<circle cx="96.36" cy="309.71" r="0.66" opacity="0.06"/>
<circle cx="33.89" cy="263.18" r="0.78" opacity="0.06"/>
<circle cx="70.93" cy="278.6" r="0.59" opacity="0.13"/>
<circle cx="166.16" cy="245.62" r="0.57" opacity="0.09"/>
<circle cx="76.56" cy="196.78" r="0.85" opacity="0.09"/>
<circle cx="72.85" cy="218.82" r="0.86" opacity="0.16"/>
<circle cx="85.32" cy="271.24" r="0.61" opacity="0.08"/>
<circle cx="120.84" cy="227.8" r="0.8" opacity="0.09"/>
<circle cx="37.45" cy="198.9" r="0.71" opacity="0.05"/>
<circle cx="115.54" cy="272.44" r="0.81" opacity="0.15"/>
<circle cx="125.16" cy="300.09" r="0.56" opacity="0.15"/>
<circle cx="175.08" cy="272.16" r="0.91" opacity="0.09"/>
<circle cx="98.18" cy="205.35" r="0.74" opacity="0.12"/>
<circle cx="154.06" cy="319.04" r="0.76" opacity="0.17"/>
<circle cx="88.47" cy="183.4" r="0.71" opacity="0.09"/>
<circle cx="150.72" cy="216.68" r="0.51" opacity="0.12"/>
<circle cx="60.4" cy="312.52" r="0.78" opacity="0.05"/>
<circle cx="111.6" cy="300.2" r="0.61" opacity="0.17"/>
<circle cx="39.47" cy="203.52" r="0.8" opacity="0.11"/>
<circle cx="124.22" cy="323.62" r="0.6" opacity="0.05"/>
<circle cx="114.15" cy="234.98" r="0.7" opacity="0.07"/>
<circle cx="167.72" cy="224.72" r="0.85" opacity="0.09"/>
<circle cx="74.84" cy="321.86" r="0.63" opacity="0.06"/>
<circle cx="60.61" cy="289.14" r="0.85" opacity="0.07"/>
<circle cx="48.97" cy="272.8" r="0.67" opacity="0.09"/>
<circle cx="132.51" cy="180.71" r="0.52" opacity="0.14"/>
<circle cx="165.49" cy="194.05" r="0.61" opacity="0.07"/>
<circle cx="160.04" cy="228.39" r="0.98" opacity="0.05"/>
<circle cx="171.3" cy="189.32" r="0.8" opacity="0.17"/>
<circle cx="142.78" cy="322.12" r="0.68" opacity="0.17"/>
<circle cx="171.03" cy="223.03" r="0.89" opacity="0.16"/>
<circle cx="63.89" cy="241.19" r="0.89" opacity="0.09"/>
<circle cx="173.23" cy="247.69" r="0.72" opacity="0.05"/>
<circle cx="73.32" cy="316.09" r="0.63" opacity="0.15"/>
<circle cx="155.39" cy="268.89" r="0.65" opacity="0.05"/>
<circle cx="49.01" cy="308.86" r="0.98" opacity="0.17"/>
<circle cx="77.6" cy="261.6" r="0.8" opacity="0.8"/>
<circle cx="43.6" cy="285" r="0.7" opacity="0.6"/>
<circle cx="86" cy="198" r="0.5" opacity="0.45"/>
<circle cx="171" cy="196.5" r="0.5" opacity="0.4"/>
</g>
<path d="M73.73,218.07C76.57,216.93 82.23,216.74 86.2,215.8C90.17,214.86 93.94,212.59 97.53,212.4C101.12,212.21 105.28,215.04 107.73,214.67C110.19,214.29 110.57,211.27 112.27,210.13C113.97,209 115.86,207.49 117.93,207.87C120.01,208.24 123.6,210.13 124.73,212.4C125.87,214.67 123.6,218.82 124.73,221.47C125.87,224.11 128.7,226 131.53,228.27C134.37,230.53 139.09,234.5 141.73,235.07C144.38,235.63 145.13,232.04 147.4,231.67C149.67,231.29 153.14,231.48 155.33,232.8C157.52,234.12 159.68,236.77 160.55,239.6C161.42,242.43 161.79,246.78 160.55,249.8C159.3,252.82 152.99,255.28 153.07,257.73C153.14,260.19 159.3,261.32 161,264.53C162.7,267.74 162.59,273.03 163.27,277C163.95,280.97 164.7,284.93 165.08,288.33C165.46,291.73 167.35,296.46 165.53,297.4C163.72,298.34 157.98,294.76 154.2,294C150.42,293.24 145.89,293.24 142.87,292.87C139.84,292.49 139.09,291.73 136.07,291.73C133.04,291.73 128.32,292.6 124.73,292.87C121.14,293.13 118.31,293.7 114.53,293.32C110.76,292.94 106.41,291.62 102.07,290.6C97.72,289.58 92.62,288.9 88.47,287.2C84.31,285.5 80.91,282.48 77.13,280.4C73.36,278.32 69.01,276.06 65.8,274.73C62.59,273.41 59,274.92 57.87,272.47C56.73,270.01 58.24,264.53 59,260C59.76,255.47 61.27,250.18 62.4,245.27C63.53,240.36 64.67,234.31 65.8,230.53C66.93,226.76 67.88,224.68 69.2,222.6C70.52,220.52 70.9,219.2 73.73,218.07Z" fill="none" stroke="#f0f0f0" stroke-width="1.3" stroke-dasharray="3.6 2.3"/>
<rect x="122.8" y="324.5" width="60.7" height="3.2" fill="#ffffff"/>
<text x="153.2" y="333" font-size="3.2" fill="#8f8f8f" text-anchor="middle" stroke="#8f8f8f">11.00µm</text>
</g>
<g clip-path="url(#cp11)">
<rect x="188.1" y="180.5" width="154.7" height="155" fill="#020202"/>
<path d="M188.8,281.53C191.44,276.43 199.38,276.43 204.67,273.6C209.96,270.77 215.43,268.5 220.53,264.53C225.63,260.57 230.36,252.82 235.27,249.8C240.18,246.78 244.52,247.72 250,246.4C255.48,245.08 261.71,243.57 268.13,241.87C274.56,240.17 281.73,238.47 288.53,236.2C295.33,233.93 301.57,231.36 308.93,228.27C316.3,225.17 327.82,218.94 332.73,217.61C337.64,216.29 336.78,218.56 338.4,220.33C340.02,222.11 343.24,225.24 342.48,228.27C341.72,231.29 335.87,235.44 333.87,238.47C331.86,241.49 330.66,243.38 330.47,246.4C330.28,249.42 331.6,253.39 332.73,256.6C333.87,259.81 335.94,262.27 337.27,265.67C338.59,269.07 340.1,273.6 340.67,277C341.23,280.4 342.93,284.63 340.67,286.07C338.4,287.5 331.22,285.42 327.07,285.61C322.91,285.8 319.89,285.99 315.73,287.2C311.58,288.41 305.91,290.98 302.13,292.87C298.36,294.76 295.52,296.08 293.07,298.53C290.61,300.99 289.29,304.84 287.4,307.6C285.51,310.36 283.24,314.32 281.73,315.08C280.22,315.84 279.16,313.95 278.33,312.13C277.5,310.32 278.07,305.98 276.75,304.2C275.42,302.42 273.72,302.05 270.4,301.48C267.08,300.91 261.33,301.1 256.8,300.8C252.27,300.5 247.54,300.23 243.2,299.67C238.86,299.1 234.51,297.48 230.73,297.4C226.96,297.32 223.74,298.46 220.53,299.21C217.32,299.97 214.87,301.29 211.47,301.93C208.07,302.58 203.91,302.69 200.13,303.07C196.36,303.44 190.69,307.79 188.8,304.2C186.91,300.61 186.16,286.63 188.8,281.53Z" fill="#c8611a" opacity="0.01" filter="url(#hazeA)"/>
<g fill="#ff7a14" filter="url(#blurA)">
<circle cx="256.46" cy="253.46" r="0.55" opacity="0.6"/>
<circle cx="293.08" cy="245.49" r="0.3" opacity="0.15"/>
<circle cx="276.53" cy="248.28" r="0.31" opacity="0.66"/>
<circle cx="283.9" cy="270.24" r="0.31" opacity="0.62"/>
<circle cx="245.32" cy="270.58" r="0.35" opacity="0.56"/>
<circle cx="258.12" cy="270.67" r="0.59" opacity="0.22"/>
<circle cx="323.55" cy="226.95" r="0.38" opacity="0.39"/>
<circle cx="317.75" cy="249.51" r="0.41" opacity="0.74"/>
<circle cx="338.23" cy="272.68" r="0.33" opacity="0.43"/>
<circle cx="301.04" cy="283.91" r="0.44" opacity="0.24"/>
<circle cx="298.85" cy="251.89" r="0.32" opacity="0.13"/>
<circle cx="245.95" cy="258.21" r="0.59" opacity="0.33"/>
<circle cx="273.19" cy="256.65" r="0.39" opacity="0.59"/>
<circle cx="269.12" cy="267.55" r="0.34" opacity="0.15"/>
<circle cx="252.68" cy="273.46" r="0.3" opacity="0.53"/>
<circle cx="258.23" cy="278.41" r="0.36" opacity="0.57"/>
<circle cx="273.14" cy="243.42" r="0.47" opacity="0.23"/>
<circle cx="340.33" cy="229.22" r="0.32" opacity="0.72"/>
<circle cx="255.32" cy="283.92" r="0.48" opacity="0.77"/>
<circle cx="230.15" cy="278.07" r="0.54" opacity="0.13"/>
<circle cx="279.03" cy="256.56" r="0.3" opacity="0.12"/>
<circle cx="222.2" cy="277.68" r="0.3" opacity="0.32"/>
<circle cx="232.98" cy="257.91" r="0.41" opacity="0.51"/>
<circle cx="293.09" cy="259.92" r="0.33" opacity="0.41"/>
<circle cx="270.12" cy="274.69" r="0.43" opacity="0.3"/>
<circle cx="264.45" cy="282.29" r="0.41" opacity="0.8"/>
<circle cx="235.71" cy="265.8" r="0.58" opacity="0.59"/>
<circle cx="273.96" cy="247.27" r="0.31" opacity="0.26"/>
<circle cx="254.33" cy="259.75" r="0.32" opacity="0.3"/>
<circle cx="290.06" cy="286.82" r="0.31" opacity="0.18"/>
<circle cx="292.55" cy="257.75" r="0.4" opacity="0.4"/>
<circle cx="297.31" cy="261.05" r="0.32" opacity="0.14"/>
<circle cx="288.1" cy="292.13" r="0.35" opacity="0.13"/>
<circle cx="231.38" cy="286.54" r="0.48" opacity="0.25"/>
<circle cx="325.15" cy="255.6" r="0.3" opacity="0.16"/>
<circle cx="249.47" cy="264.52" r="0.3" opacity="0.71"/>
<circle cx="270.42" cy="243.34" r="0.3" opacity="0.37"/>
<circle cx="236.6" cy="274.32" r="0.35" opacity="0.16"/>
<circle cx="199.2" cy="301.97" r="0.43" opacity="0.2"/>
<circle cx="210.95" cy="278.93" r="0.32" opacity="0.69"/>
<circle cx="247.64" cy="267.08" r="0.33" opacity="0.22"/>
<circle cx="264.01" cy="281.99" r="0.55" opacity="0.27"/>
<circle cx="232.45" cy="252.66" r="0.44" opacity="0.15"/>
<circle cx="266.24" cy="290.33" r="0.44" opacity="0.28"/>
<circle cx="243.67" cy="281.86" r="0.32" opacity="0.17"/>
<circle cx="223.87" cy="264.64" r="0.4" opacity="0.12"/>
<circle cx="226.23" cy="289.89" r="0.43" opacity="0.28"/>
<circle cx="276.56" cy="269.04" r="0.34" opacity="0.13"/>
<circle cx="255.63" cy="292.62" r="0.51" opacity="0.47"/>
<circle cx="258.3" cy="293.42" r="0.46" opacity="0.13"/>
<circle cx="301.25" cy="250.63" r="0.34" opacity="0.19"/>
<circle cx="313.23" cy="280.07" r="0.33" opacity="0.52"/>
<circle cx="217.28" cy="295.78" r="0.41" opacity="0.54"/>
<circle cx="295.62" cy="262.83" r="0.4" opacity="0.36"/>
<circle cx="337.13" cy="284.5" r="0.38" opacity="0.25"/>
<circle cx="297.18" cy="280.88" r="0.57" opacity="0.52"/>
<circle cx="195.71" cy="293.67" r="0.35" opacity="0.25"/>
<circle cx="326.85" cy="244.64" r="0.47" opacity="0.53"/>
<circle cx="290.26" cy="275.7" r="0.32" opacity="0.45"/>
<circle cx="278.63" cy="311.85" r="0.38" opacity="0.23"/>
<circle cx="328.05" cy="278.48" r="0.33" opacity="0.43"/>
<circle cx="324.68" cy="262.77" r="0.49" opacity="0.16"/>
<circle cx="312.09" cy="275.82" r="0.35" opacity="0.24"/>
<circle cx="294.91" cy="248.04" r="0.3" opacity="0.24"/>
<circle cx="248.02" cy="256.92" r="0.58" opacity="0.5"/>
<circle cx="259.31" cy="256.41" r="0.32" opacity="0.14"/>
<circle cx="261.39" cy="280.03" r="0.3" opacity="0.3"/>
<circle cx="215.42" cy="276.26" r="0.34" opacity="0.45"/>
<circle cx="309.1" cy="257.04" r="0.34" opacity="0.13"/>
<circle cx="221.35" cy="278.2" r="0.5" opacity="0.14"/>
<circle cx="245" cy="270.16" r="0.44" opacity="0.21"/>
<circle cx="245.1" cy="287.96" r="0.37" opacity="0.27"/>
<circle cx="261.12" cy="246.32" r="0.31" opacity="0.33"/>
<circle cx="296.73" cy="268.87" r="0.37" opacity="0.45"/>
<circle cx="276.17" cy="285.38" r="0.34" opacity="0.25"/>
<circle cx="231.69" cy="272.64" r="0.36" opacity="0.14"/>
<circle cx="301.53" cy="269.45" r="0.59" opacity="0.69"/>
<circle cx="327.63" cy="243.13" r="0.3" opacity="0.59"/>
<circle cx="205.44" cy="284.6" r="0.31" opacity="0.48"/>
<circle cx="322.18" cy="267.85" r="0.36" opacity="0.77"/>
<circle cx="309.33" cy="239.61" r="0.45" opacity="0.24"/>
<circle cx="260.1" cy="248.12" r="0.32" opacity="0.2"/>
<circle cx="323.09" cy="254.55" r="0.39" opacity="0.59"/>
<circle cx="317.78" cy="249.73" r="0.51" opacity="0.43"/>
<circle cx="296.07" cy="270.66" r="0.57" opacity="0.57"/>
<circle cx="189.18" cy="295.46" r="0.3" opacity="0.31"/>
<circle cx="286.62" cy="294.37" r="0.31" opacity="0.17"/>
<circle cx="307.26" cy="269.13" r="0.3" opacity="0.2"/>
<circle cx="233.25" cy="261.57" r="0.54" opacity="0.58"/>
<circle cx="247.97" cy="282.53" r="0.3" opacity="0.12"/>
<circle cx="245.96" cy="279.41" r="0.31" opacity="0.12"/>
<circle cx="319.93" cy="235.74" r="0.3" opacity="0.13"/>
<circle cx="277.76" cy="281.6" r="0.32" opacity="0.33"/>
<circle cx="239.89" cy="274.13" r="0.3" opacity="0.41"/>
<circle cx="220.96" cy="271.65" r="0.31" opacity="0.28"/>
<circle cx="229.45" cy="280.09" r="0.48" opacity="0.62"/>
<circle cx="273.24" cy="251.86" r="0.32" opacity="0.32"/>
<circle cx="338.35" cy="223.04" r="0.47" opacity="0.21"/>
<circle cx="280.65" cy="243.5" r="0.46" opacity="0.31"/>
<circle cx="236.45" cy="261.28" r="0.3" opacity="0.13"/>
<circle cx="328.31" cy="225.64" r="0.35" opacity="0.45"/>
<circle cx="255.45" cy="274.74" r="0.41" opacity="0.13"/>
<circle cx="266.59" cy="290.66" r="0.49" opacity="0.51"/>
<circle cx="251.69" cy="267.24" r="0.3" opacity="0.54"/>
<circle cx="335.19" cy="278.07" r="0.46" opacity="0.4"/>
<circle cx="275.52" cy="302.66" r="0.3" opacity="0.24"/>
<circle cx="222.45" cy="275.75" r="0.35" opacity="0.71"/>
<circle cx="254.76" cy="254.01" r="0.46" opacity="0.14"/>
<circle cx="299.74" cy="239.71" r="0.49" opacity="0.13"/>
<circle cx="233.66" cy="295.68" r="0.4" opacity="0.17"/>
<circle cx="294.5" cy="258.04" r="0.31" opacity="0.63"/>
<circle cx="299.07" cy="241.37" r="0.35" opacity="0.46"/>
<circle cx="326.85" cy="284.78" r="0.3" opacity="0.68"/>
<circle cx="267.6" cy="267.83" r="0.31" opacity="0.31"/>
<circle cx="305.52" cy="271.83" r="0.59" opacity="0.34"/>
<circle cx="327.76" cy="230.63" r="0.46" opacity="0.39"/>
<circle cx="324.47" cy="250.36" r="0.36" opacity="0.59"/>
<circle cx="318.89" cy="280.82" r="0.37" opacity="0.12"/>
<circle cx="306.18" cy="258.06" r="0.32" opacity="0.24"/>
<circle cx="209.92" cy="299.56" r="0.49" opacity="0.76"/>
<circle cx="231.07" cy="277.95" r="0.3" opacity="0.65"/>
<circle cx="242.47" cy="266.44" r="0.3" opacity="0.23"/>
<circle cx="265.87" cy="299.55" r="0.4" opacity="0.14"/>
<circle cx="326.35" cy="231.77" r="0.44" opacity="0.58"/>
<circle cx="257.86" cy="274.4" r="0.33" opacity="0.59"/>
<circle cx="263.24" cy="281.47" r="0.46" opacity="0.21"/>
<circle cx="329.33" cy="271.41" r="0.42" opacity="0.54"/>
<circle cx="312.84" cy="231.43" r="0.32" opacity="0.49"/>
<circle cx="278" cy="301.64" r="0.48" opacity="0.21"/>
<circle cx="215.13" cy="281.72" r="0.3" opacity="0.31"/>
<circle cx="231.17" cy="256.71" r="0.43" opacity="0.42"/>
<circle cx="328.2" cy="277.31" r="0.43" opacity="0.67"/>
<circle cx="303.46" cy="279.47" r="0.3" opacity="0.12"/>
<circle cx="256.63" cy="299.61" r="0.47" opacity="0.14"/>
<circle cx="303.36" cy="242.06" r="0.54" opacity="0.26"/>
<circle cx="320.81" cy="258.62" r="0.53" opacity="0.69"/>
<circle cx="275.95" cy="267.47" r="0.45" opacity="0.39"/>
<circle cx="256.81" cy="300.28" r="0.32" opacity="0.25"/>
<circle cx="234.9" cy="282.29" r="0.54" opacity="0.66"/>
<circle cx="286.24" cy="271.47" r="0.31" opacity="0.33"/>
<circle cx="216.77" cy="292.24" r="0.31" opacity="0.22"/>
<circle cx="338.25" cy="229.83" r="0.4" opacity="0.19"/>
<circle cx="292.85" cy="242.71" r="0.57" opacity="0.21"/>
<circle cx="333.18" cy="279.37" r="0.55" opacity="0.52"/>
<circle cx="198.06" cy="290.09" r="0.34" opacity="0.16"/>
<circle cx="325.66" cy="282.31" r="0.34" opacity="0.13"/>
<circle cx="215.27" cy="290.49" r="0.32" opacity="0.78"/>
<circle cx="231.71" cy="295.51" r="0.46" opacity="0.43"/>
<circle cx="231.9" cy="268.82" r="0.3" opacity="0.56"/>
<circle cx="308.59" cy="247.59" r="0.3" opacity="0.68"/>
<circle cx="339.63" cy="285.67" r="0.31" opacity="0.67"/>
<circle cx="280.57" cy="279.65" r="0.3" opacity="0.16"/>
<circle cx="309.34" cy="261.64" r="0.48" opacity="0.7"/>
<circle cx="244.8" cy="295" r="0.33" opacity="0.73"/>
<circle cx="240.47" cy="278.7" r="0.32" opacity="0.5"/>
<circle cx="232.36" cy="258.75" r="0.46" opacity="0.6"/>
<circle cx="221.39" cy="292.4" r="0.44" opacity="0.49"/>
<circle cx="312.92" cy="240.4" r="0.37" opacity="0.12"/>
<circle cx="242.93" cy="276.18" r="0.32" opacity="0.57"/>
<circle cx="293.91" cy="239.22" r="0.43" opacity="0.25"/>
<circle cx="289.04" cy="297.78" r="0.44" opacity="0.64"/>
<circle cx="291.1" cy="293.5" r="0.51" opacity="0.39"/>
<circle cx="233.72" cy="272.47" r="0.51" opacity="0.18"/>
<circle cx="218.32" cy="275.09" r="0.31" opacity="0.12"/>
<circle cx="321.52" cy="224.77" r="0.3" opacity="0.64"/>
<circle cx="246.38" cy="251.26" r="0.45" opacity="0.34"/>
<circle cx="206.46" cy="287.02" r="0.55" opacity="0.12"/>
<circle cx="223.12" cy="268.77" r="0.32" opacity="0.31"/>
<circle cx="265.92" cy="243.33" r="0.3" opacity="0.26"/>
<circle cx="313.44" cy="231.1" r="0.39" opacity="0.59"/>
<circle cx="276.47" cy="251.42" r="0.56" opacity="0.56"/>
<circle cx="263.15" cy="261.51" r="0.51" opacity="0.41"/>
<circle cx="273.36" cy="267.78" r="0.54" opacity="0.22"/>
<circle cx="338.88" cy="271.73" r="0.49" opacity="0.28"/>
<circle cx="325.7" cy="258.59" r="0.35" opacity="0.52"/>
<circle cx="262.76" cy="258.94" r="0.5" opacity="0.27"/>
<circle cx="307.53" cy="251.64" r="0.42" opacity="0.2"/>
<circle cx="206.35" cy="293.74" r="0.48" opacity="0.48"/>
<circle cx="265.86" cy="298.81" r="0.48" opacity="0.38"/>
<circle cx="197.29" cy="300.08" r="0.3" opacity="0.18"/>
<circle cx="250.23" cy="285.86" r="0.45" opacity="0.65"/>
<circle cx="336.51" cy="273.65" r="0.37" opacity="0.12"/>
<circle cx="328.97" cy="241.48" r="0.48" opacity="0.16"/>
<circle cx="271.01" cy="245.32" r="0.4" opacity="0.49"/>
<circle cx="268" cy="256.57" r="0.36" opacity="0.23"/>
<circle cx="300.55" cy="279.43" r="0.44" opacity="0.42"/>
<circle cx="329.27" cy="269.54" r="0.36" opacity="0.18"/>
<circle cx="251.23" cy="295.98" r="0.3" opacity="0.39"/>
<circle cx="235.46" cy="256.25" r="0.42" opacity="0.26"/>
<circle cx="321.14" cy="232.72" r="0.52" opacity="0.27"/>
<circle cx="310.59" cy="256.09" r="0.32" opacity="0.68"/>
<circle cx="286.63" cy="288.01" r="0.38" opacity="0.49"/>
<circle cx="255.73" cy="257.93" r="0.57" opacity="0.16"/>
<circle cx="235.31" cy="258.32" r="0.34" opacity="0.29"/>
<circle cx="320.97" cy="265.75" r="0.3" opacity="0.12"/>
<circle cx="277.35" cy="299.74" r="0.33" opacity="0.14"/>
<circle cx="305.44" cy="270.15" r="0.37" opacity="0.14"/>
<circle cx="273.91" cy="273.53" r="0.45" opacity="0.68"/>
<circle cx="200.45" cy="298.61" r="0.33" opacity="0.26"/>
<circle cx="241.66" cy="296.32" r="0.36" opacity="0.13"/>
<circle cx="247.29" cy="261.54" r="0.3" opacity="0.14"/>
<circle cx="327.39" cy="270.62" r="0.59" opacity="0.35"/>
<circle cx="335.45" cy="285" r="0.34" opacity="0.12"/>
<circle cx="211.5" cy="294.84" r="0.43" opacity="0.2"/>
<circle cx="213.89" cy="279.99" r="0.56" opacity="0.18"/>
<circle cx="225.34" cy="282.23" r="0.32" opacity="0.18"/>
<circle cx="189.55" cy="283.31" r="0.3" opacity="0.3"/>
<circle cx="325.44" cy="277.5" r="0.33" opacity="0.25"/>
<circle cx="254.47" cy="248.9" r="0.3" opacity="0.14"/>
<circle cx="267.24" cy="285.18" r="0.37" opacity="0.52"/>
<circle cx="308.69" cy="261.24" r="0.31" opacity="0.12"/>
<circle cx="295.28" cy="253.45" r="0.33" opacity="0.13"/>
<circle cx="261.35" cy="300.18" r="0.51" opacity="0.18"/>
<circle cx="225.19" cy="275.94" r="0.56" opacity="0.29"/>
<circle cx="297.45" cy="239.45" r="0.3" opacity="0.12"/>
<circle cx="330.66" cy="270.52" r="0.53" opacity="0.75"/>
<circle cx="262.87" cy="297.9" r="0.49" opacity="0.68"/>
<circle cx="283.03" cy="302.6" r="0.31" opacity="0.32"/>
<circle cx="329.74" cy="273.24" r="0.49" opacity="0.58"/>
<circle cx="256.83" cy="284.8" r="0.44" opacity="0.27"/>
<circle cx="268.74" cy="296.57" r="0.53" opacity="0.78"/>
<circle cx="245.26" cy="283.52" r="0.39" opacity="0.63"/>
<circle cx="225.75" cy="263.12" r="0.32" opacity="0.58"/>
<circle cx="279.66" cy="293.17" r="0.34" opacity="0.13"/>
<circle cx="278.78" cy="277.5" r="0.36" opacity="0.18"/>
<circle cx="313.71" cy="254.81" r="0.45" opacity="0.35"/>
<circle cx="329.8" cy="232.62" r="0.32" opacity="0.13"/>
<circle cx="231.76" cy="273.61" r="0.38" opacity="0.15"/>
<circle cx="285.69" cy="276.24" r="0.33" opacity="0.2"/>
<circle cx="193.99" cy="294.12" r="0.31" opacity="0.26"/>
<circle cx="288.92" cy="283.41" r="0.32" opacity="0.46"/>
<circle cx="329.22" cy="263.25" r="0.35" opacity="0.46"/>
<circle cx="323" cy="284.57" r="0.56" opacity="0.56"/>
<circle cx="292.23" cy="238.03" r="0.3" opacity="0.22"/>
<circle cx="242.98" cy="297.86" r="0.3" opacity="0.12"/>
<circle cx="257.46" cy="300.58" r="0.37" opacity="0.23"/>
<circle cx="316.96" cy="232.63" r="0.3" opacity="0.16"/>
<circle cx="201.73" cy="289.75" r="0.45" opacity="0.79"/>
<circle cx="196.57" cy="286.11" r="0.49" opacity="0.15"/>
<circle cx="217.56" cy="281.81" r="0.31" opacity="0.27"/>
<circle cx="263.24" cy="270.49" r="0.52" opacity="0.12"/>
<circle cx="288.61" cy="282.77" r="0.41" opacity="0.16"/>
<circle cx="202.52" cy="299.38" r="0.34" opacity="0.16"/>
<circle cx="289.49" cy="300.56" r="0.31" opacity="0.16"/>
<circle cx="279.27" cy="309.96" r="0.37" opacity="0.36"/>
<circle cx="281.8" cy="303.66" r="0.31" opacity="0.56"/>
<circle cx="252.62" cy="281.71" r="0.56" opacity="0.27"/>
<circle cx="277.71" cy="257.66" r="0.34" opacity="0.18"/>
<circle cx="294.23" cy="260.6" r="0.35" opacity="0.15"/>
<circle cx="279.1" cy="257" r="0.39" opacity="0.31"/>
<circle cx="233.97" cy="258.34" r="0.36" opacity="0.68"/>
<circle cx="325.73" cy="245.7" r="0.36" opacity="0.17"/>
<circle cx="335.22" cy="230.88" r="0.37" opacity="0.12"/>
<circle cx="259.61" cy="262.44" r="0.3" opacity="0.14"/>
<circle cx="265.62" cy="263.8" r="0.33" opacity="0.12"/>
<circle cx="238.62" cy="251.5" r="0.3" opacity="0.39"/>
<circle cx="222.61" cy="269.44" r="0.45" opacity="0.12"/>
<circle cx="265.3" cy="279.71" r="0.54" opacity="0.47"/>
<circle cx="317.53" cy="282.2" r="0.32" opacity="0.59"/>
<circle cx="304.96" cy="265.06" r="0.56" opacity="0.12"/>
<circle cx="328.33" cy="252.45" r="0.39" opacity="0.57"/>
<circle cx="332.05" cy="267.01" r="0.52" opacity="0.19"/>
<circle cx="279.42" cy="286.54" r="0.4" opacity="0.38"/>
<circle cx="319.04" cy="241.62" r="0.57" opacity="0.29"/>
<circle cx="276.56" cy="280.71" r="0.41" opacity="0.66"/>
<circle cx="326.91" cy="248.4" r="0.54" opacity="0.21"/>
<circle cx="286.81" cy="246.9" r="0.6" opacity="0.45"/>
<circle cx="206.55" cy="290.41" r="0.43" opacity="0.12"/>
<circle cx="286.47" cy="270.56" r="0.3" opacity="0.72"/>
<circle cx="277" cy="277.86" r="0.32" opacity="0.14"/>
<circle cx="219.73" cy="265.96" r="0.35" opacity="0.54"/>
<circle cx="269.2" cy="284.59" r="0.33" opacity="0.16"/>
<circle cx="247.09" cy="295.28" r="0.32" opacity="0.22"/>
<circle cx="303.32" cy="237.8" r="0.3" opacity="0.77"/>
<circle cx="329.34" cy="248.42" r="0.32" opacity="0.29"/>
<circle cx="221.12" cy="294.27" r="0.54" opacity="0.49"/>
<circle cx="250.18" cy="299.48" r="0.56" opacity="0.15"/>
<circle cx="251.76" cy="289.84" r="0.33" opacity="0.12"/>
<circle cx="259" cy="300.75" r="0.4" opacity="0.18"/>
<circle cx="221.39" cy="272.01" r="0.38" opacity="0.69"/>
<circle cx="257.61" cy="254.34" r="0.31" opacity="0.24"/>
<circle cx="238.06" cy="268.97" r="0.57" opacity="0.3"/>
<circle cx="268.41" cy="251.15" r="0.3" opacity="0.3"/>
<circle cx="283.48" cy="251.85" r="0.46" opacity="0.42"/>
<circle cx="269.56" cy="276.6" r="0.39" opacity="0.17"/>
<circle cx="241.72" cy="287.57" r="0.35" opacity="0.34"/>
<circle cx="223.91" cy="278.91" r="0.37" opacity="0.12"/>
<circle cx="296.72" cy="263.11" r="0.32" opacity="0.48"/>
<circle cx="253.17" cy="249.09" r="0.3" opacity="0.4"/>
<circle cx="297.99" cy="292.6" r="0.31" opacity="0.16"/>
<circle cx="285.76" cy="243.1" r="0.39" opacity="0.54"/>
<circle cx="241.81" cy="280.92" r="0.41" opacity="0.69"/>
<circle cx="308.08" cy="282.83" r="0.39" opacity="0.67"/>
<circle cx="281.42" cy="284.78" r="0.33" opacity="0.13"/>
<circle cx="326.44" cy="250.11" r="0.31" opacity="0.37"/>
<circle cx="264.65" cy="269.05" r="0.33" opacity="0.45"/>
<circle cx="257.17" cy="297.51" r="0.44" opacity="0.18"/>
<circle cx="335.03" cy="269.81" r="0.51" opacity="0.79"/>
<circle cx="191.98" cy="285.94" r="0.49" opacity="0.24"/>
<circle cx="265.27" cy="245" r="0.31" opacity="0.13"/>
<circle cx="272" cy="268.77" r="0.31" opacity="0.34"/>
<circle cx="324.35" cy="238.22" r="0.56" opacity="0.7"/>
<circle cx="338.18" cy="285.08" r="0.3" opacity="0.14"/>
<circle cx="238.91" cy="296.52" r="0.3" opacity="0.35"/>
<circle cx="330.1" cy="281.71" r="0.6" opacity="0.42"/>
<circle cx="274.66" cy="279.81" r="0.36" opacity="0.23"/>
<circle cx="197.12" cy="291.26" r="0.6" opacity="0.48"/>
<circle cx="316.46" cy="238.05" r="0.52" opacity="0.24"/>
<circle cx="320.15" cy="240.79" r="0.33" opacity="0.33"/>
<circle cx="339.87" cy="281.41" r="0.34" opacity="0.29"/>
<circle cx="278.82" cy="275.36" r="0.55" opacity="0.36"/>
<circle cx="238.61" cy="264.67" r="0.3" opacity="0.27"/>
<circle cx="206.38" cy="274.91" r="0.37" opacity="0.12"/>
<circle cx="234.51" cy="269.69" r="0.35" opacity="0.37"/>
<circle cx="198.95" cy="277.36" r="0.41" opacity="0.15"/>
<circle cx="325.75" cy="277.72" r="0.38" opacity="0.52"/>
<circle cx="258.55" cy="286.5" r="0.34" opacity="0.36"/>
<circle cx="301.57" cy="274.65" r="0.41" opacity="0.24"/>
<circle cx="242.6" cy="281.48" r="0.36" opacity="0.28"/>
<circle cx="284.99" cy="303.19" r="0.31" opacity="0.43"/>
<circle cx="270.47" cy="279.71" r="0.43" opacity="0.25"/>
<circle cx="268.89" cy="278.97" r="0.56" opacity="0.44"/>
<circle cx="289.18" cy="251.77" r="0.49" opacity="0.14"/>
<circle cx="324.84" cy="265.33" r="0.36" opacity="0.47"/>
<circle cx="280.21" cy="239.66" r="0.32" opacity="0.8"/>
<circle cx="270.11" cy="246.17" r="0.34" opacity="0.17"/>
<circle cx="203.39" cy="302.33" r="0.39" opacity="0.78"/>
<circle cx="256.49" cy="260.06" r="0.3" opacity="0.37"/>
<circle cx="240.06" cy="296.24" r="0.45" opacity="0.72"/>
<circle cx="277.18" cy="252.73" r="0.32" opacity="0.17"/>
<circle cx="237.53" cy="297.82" r="0.3" opacity="0.32"/>
<circle cx="295.36" cy="237.82" r="0.47" opacity="0.15"/>
<circle cx="323.81" cy="248.03" r="0.3" opacity="0.14"/>
<circle cx="246.38" cy="255.99" r="0.47" opacity="0.13"/>
<circle cx="202.26" cy="302.41" r="0.33" opacity="0.15"/>
<circle cx="217.02" cy="290.08" r="0.59" opacity="0.25"/>
<circle cx="298.17" cy="262.62" r="0.31" opacity="0.2"/>
<circle cx="248.18" cy="289.22" r="0.3" opacity="0.76"/>
<circle cx="283.3" cy="281.19" r="0.31" opacity="0.16"/>
<circle cx="191.09" cy="297.26" r="0.31" opacity="0.13"/>
<circle cx="267.64" cy="290.65" r="0.3" opacity="0.48"/>
<circle cx="270.99" cy="246.8" r="0.55" opacity="0.69"/>
<circle cx="300.4" cy="267.49" r="0.43" opacity="0.21"/>
<circle cx="260.87" cy="270.99" r="0.35" opacity="0.28"/>
<circle cx="223.02" cy="266.33" r="0.48" opacity="0.51"/>
<circle cx="262.91" cy="249.76" r="0.53" opacity="0.69"/>
<circle cx="271.51" cy="293.04" r="0.46" opacity="0.33"/>
<circle cx="311.36" cy="273.29" r="0.59" opacity="0.14"/>
<circle cx="307.03" cy="271.23" r="0.33" opacity="0.14"/>
<circle cx="278.11" cy="302.31" r="0.31" opacity="0.68"/>
<circle cx="273.7" cy="264.9" r="0.33" opacity="0.13"/>
<circle cx="265.42" cy="266.27" r="0.3" opacity="0.27"/>
<circle cx="198.69" cy="281.62" r="0.3" opacity="0.77"/>
<circle cx="219.84" cy="285.24" r="0.42" opacity="0.16"/>
<circle cx="259.77" cy="258.85" r="0.31" opacity="0.25"/>
<circle cx="198.54" cy="286.58" r="0.58" opacity="0.35"/>
<circle cx="250.2" cy="267.73" r="0.31" opacity="0.51"/>
<circle cx="322.57" cy="223.93" r="0.51" opacity="0.15"/>
<circle cx="270.09" cy="286.96" r="0.56" opacity="0.65"/>
<circle cx="212.21" cy="287.36" r="0.36" opacity="0.15"/>
<circle cx="191.77" cy="285.73" r="0.39" opacity="0.66"/>
<circle cx="319.6" cy="228.17" r="0.44" opacity="0.19"/>
<circle cx="319.45" cy="232.92" r="0.55" opacity="0.14"/>
<circle cx="331.44" cy="222.73" r="0.43" opacity="0.34"/>
<circle cx="280.49" cy="307.79" r="0.32" opacity="0.79"/>
<circle cx="276.36" cy="296.46" r="0.32" opacity="0.8"/>
<circle cx="299.53" cy="263.54" r="0.31" opacity="0.66"/>
<circle cx="299.75" cy="233.98" r="0.51" opacity="0.49"/>
<circle cx="295.58" cy="253.55" r="0.56" opacity="0.14"/>
<circle cx="228.86" cy="289.35" r="0.51" opacity="0.52"/>
<circle cx="238.51" cy="274.16" r="0.33" opacity="0.35"/>
<circle cx="224.73" cy="290.65" r="0.5" opacity="0.41"/>
<circle cx="332.19" cy="259.15" r="0.32" opacity="0.3"/>
<circle cx="235.13" cy="254.73" r="0.48" opacity="0.21"/>
<circle cx="298.34" cy="275.42" r="0.3" opacity="0.32"/>
<circle cx="322.05" cy="280.73" r="0.52" opacity="0.42"/>
<circle cx="305.06" cy="246.28" r="0.43" opacity="0.44"/>
<circle cx="288.01" cy="279.21" r="0.31" opacity="0.49"/>
<circle cx="302.67" cy="273.06" r="0.38" opacity="0.34"/>
<circle cx="271.44" cy="258.86" r="0.5" opacity="0.71"/>
<circle cx="271.29" cy="297.41" r="0.44" opacity="0.29"/>
<circle cx="322.72" cy="265.21" r="0.3" opacity="0.46"/>
<circle cx="250.42" cy="256.34" r="0.34" opacity="0.19"/>
<circle cx="210.39" cy="281" r="0.38" opacity="0.27"/>
<circle cx="304.12" cy="266.61" r="0.31" opacity="0.18"/>
<circle cx="274.65" cy="282.56" r="0.42" opacity="0.52"/>
<circle cx="243.75" cy="292.35" r="0.4" opacity="0.18"/>
<circle cx="208.06" cy="278.62" r="0.52" opacity="0.74"/>
<circle cx="279.46" cy="241.54" r="0.33" opacity="0.64"/>
<circle cx="230.79" cy="264.8" r="0.39" opacity="0.12"/>
<circle cx="311.73" cy="274.77" r="0.53" opacity="0.51"/>
<circle cx="203.75" cy="292.6" r="0.45" opacity="0.12"/>
<circle cx="260.17" cy="268.75" r="0.39" opacity="0.37"/>
<circle cx="198.89" cy="300.8" r="0.38" opacity="0.13"/>
<circle cx="255.15" cy="287.71" r="0.47" opacity="0.15"/>
<circle cx="282.5" cy="241.79" r="0.3" opacity="0.44"/>
<circle cx="199.37" cy="290.63" r="0.31" opacity="0.12"/>
<circle cx="314.12" cy="227.8" r="0.42" opacity="0.14"/>
<circle cx="229.76" cy="261.57" r="0.43" opacity="0.8"/>
<circle cx="291.56" cy="284.24" r="0.4" opacity="0.24"/>
<circle cx="272.77" cy="270.62" r="0.55" opacity="0.55"/>
<circle cx="280.4" cy="254.66" r="0.3" opacity="0.79"/>
<circle cx="328.79" cy="231.24" r="0.4" opacity="0.73"/>
<circle cx="306.83" cy="275.24" r="0.32" opacity="0.45"/>
<circle cx="312.79" cy="237.78" r="0.32" opacity="0.26"/>
<circle cx="280.75" cy="304.33" r="0.4" opacity="0.18"/>
<circle cx="300.28" cy="232.26" r="0.3" opacity="0.12"/>
<circle cx="277.38" cy="273.98" r="0.36" opacity="0.35"/>
<circle cx="278.7" cy="256.94" r="0.37" opacity="0.7"/>
<circle cx="260.62" cy="290.12" r="0.3" opacity="0.31"/>
<circle cx="309.3" cy="270.85" r="0.54" opacity="0.41"/>
<circle cx="287.77" cy="259.24" r="0.51" opacity="0.28"/>
<circle cx="216.53" cy="278.72" r="0.44" opacity="0.29"/>
<circle cx="289.06" cy="258.54" r="0.4" opacity="0.12"/>
<circle cx="277.19" cy="250.83" r="0.42" opacity="0.77"/>
<circle cx="260.36" cy="258.18" r="0.5" opacity="0.63"/>
<circle cx="223.55" cy="282.76" r="0.33" opacity="0.22"/>
<circle cx="312.2" cy="252.96" r="0.55" opacity="0.31"/>
<circle cx="322.08" cy="230.19" r="0.35" opacity="0.12"/>
<circle cx="263.48" cy="262.92" r="0.58" opacity="0.24"/>
<circle cx="269.8" cy="288.71" r="0.51" opacity="0.45"/>
<circle cx="205.45" cy="280.83" r="0.53" opacity="0.3"/>
<circle cx="254.45" cy="280.42" r="0.31" opacity="0.17"/>
<circle cx="206.27" cy="282.42" r="0.38" opacity="0.12"/>
<circle cx="246.19" cy="278.09" r="0.47" opacity="0.79"/>
<circle cx="317.57" cy="236.25" r="0.39" opacity="0.4"/>
<circle cx="273.71" cy="275.82" r="0.34" opacity="0.17"/>
<circle cx="293.65" cy="281.74" r="0.58" opacity="0.18"/>
<circle cx="277.15" cy="298.23" r="0.43" opacity="0.12"/>
<circle cx="267.31" cy="297.22" r="0.31" opacity="0.25"/>
<circle cx="272.31" cy="275.84" r="0.52" opacity="0.29"/>
<circle cx="250.48" cy="277.56" r="0.33" opacity="0.12"/>
<circle cx="312.78" cy="232.94" r="0.39" opacity="0.19"/>
<circle cx="264.72" cy="300.25" r="0.3" opacity="0.16"/>
<circle cx="199.9" cy="299.1" r="0.43" opacity="0.17"/>
<circle cx="327.11" cy="234.47" r="0.37" opacity="0.51"/>
<circle cx="286.36" cy="236.94" r="0.54" opacity="0.7"/>
<circle cx="247.16" cy="287.98" r="0.3" opacity="0.47"/>
<circle cx="309.51" cy="261.75" r="0.45" opacity="0.38"/>
<circle cx="285.38" cy="291.51" r="0.42" opacity="0.14"/>
<circle cx="228.03" cy="274.3" r="0.47" opacity="0.26"/>
<circle cx="295.59" cy="250.19" r="0.33" opacity="0.15"/>
<circle cx="252.41" cy="274.12" r="0.3" opacity="0.72"/>
<circle cx="190.09" cy="288.89" r="0.34" opacity="0.73"/>
<circle cx="294.92" cy="254.49" r="0.5" opacity="0.45"/>
<circle cx="256.6" cy="282.02" r="0.44" opacity="0.21"/>
<circle cx="218.75" cy="281.31" r="0.4" opacity="0.12"/>
<circle cx="304.16" cy="289.53" r="0.3" opacity="0.39"/>
<circle cx="227.95" cy="266.45" r="0.5" opacity="0.55"/>
<circle cx="194.91" cy="292.33" r="0.42" opacity="0.18"/>
<circle cx="189.86" cy="301.41" r="0.31" opacity="0.18"/>
<circle cx="235.54" cy="295.25" r="0.57" opacity="0.7"/>
<circle cx="225.95" cy="267.21" r="0.52" opacity="0.12"/>
<circle cx="300.55" cy="270.54" r="0.3" opacity="0.67"/>
<circle cx="311.03" cy="227.5" r="0.58" opacity="0.37"/>
<circle cx="286.4" cy="238.32" r="0.3" opacity="0.48"/>
<circle cx="298.42" cy="235.28" r="0.3" opacity="0.37"/>
<circle cx="236.12" cy="251.2" r="0.53" opacity="0.36"/>
<circle cx="206.92" cy="285.74" r="0.46" opacity="0.37"/>
<circle cx="335.34" cy="263.99" r="0.43" opacity="0.12"/>
<circle cx="254.84" cy="267.44" r="0.3" opacity="0.47"/>
<circle cx="239.33" cy="296.5" r="0.46" opacity="0.24"/>
<circle cx="214.46" cy="290.74" r="0.53" opacity="0.13"/>
<circle cx="253.1" cy="270.99" r="0.44" opacity="0.16"/>
<circle cx="315.16" cy="276.97" r="0.49" opacity="0.74"/>
<circle cx="293.83" cy="282.96" r="0.33" opacity="0.19"/>
<circle cx="246.23" cy="296.61" r="0.41" opacity="0.19"/>
<circle cx="327.5" cy="267.99" r="0.59" opacity="0.44"/>
<circle cx="301.75" cy="251.22" r="0.6" opacity="0.3"/>
<circle cx="292.33" cy="256.94" r="0.38" opacity="0.15"/>
<circle cx="245.41" cy="257.9" r="0.47" opacity="0.14"/>
<circle cx="219.19" cy="280.35" r="0.37" opacity="0.66"/>
<circle cx="243.03" cy="267.93" r="0.35" opacity="0.12"/>
<circle cx="322.84" cy="236.32" r="0.32" opacity="0.36"/>
<circle cx="295.93" cy="280.8" r="0.33" opacity="0.22"/>
<circle cx="190.79" cy="295.04" r="0.34" opacity="0.19"/>
<circle cx="220.64" cy="265.71" r="0.31" opacity="0.21"/>
<circle cx="269.86" cy="249.58" r="0.3" opacity="0.65"/>
<circle cx="234.26" cy="260.6" r="0.44" opacity="0.18"/>
<circle cx="286.35" cy="261.03" r="0.31" opacity="0.56"/>
<circle cx="331.81" cy="240.98" r="0.52" opacity="0.24"/>
<circle cx="219.95" cy="298.12" r="0.57" opacity="0.21"/>
<circle cx="312.07" cy="246.98" r="0.4" opacity="0.16"/>
<circle cx="328.52" cy="267.85" r="0.4" opacity="0.57"/>
<circle cx="269.28" cy="265.36" r="0.45" opacity="0.3"/>
<circle cx="277.39" cy="246.75" r="0.31" opacity="0.17"/>
<circle cx="338.05" cy="275.17" r="0.3" opacity="0.15"/>
<circle cx="278.43" cy="267.44" r="0.59" opacity="0.69"/>
<circle cx="199.75" cy="296.18" r="0.59" opacity="0.52"/>
<circle cx="285.48" cy="284.37" r="0.49" opacity="0.49"/>
<circle cx="314.87" cy="250.5" r="0.49" opacity="0.39"/>
<circle cx="284.03" cy="301.52" r="0.47" opacity="0.48"/>
<circle cx="237.67" cy="281.16" r="0.3" opacity="0.44"/>
<circle cx="231.46" cy="271.08" r="0.45" opacity="0.74"/>
<circle cx="320.6" cy="275.1" r="0.55" opacity="0.49"/>
<circle cx="326.48" cy="236.06" r="0.6" opacity="0.75"/>
<circle cx="244.59" cy="278.96" r="0.48" opacity="0.22"/>
<circle cx="212.81" cy="295.15" r="0.33" opacity="0.48"/>
<circle cx="254.78" cy="286.91" r="0.32" opacity="0.13"/>
<circle cx="291.38" cy="242.66" r="0.31" opacity="0.29"/>
<circle cx="295.91" cy="260.06" r="0.36" opacity="0.39"/>
<circle cx="281.59" cy="309.18" r="0.41" opacity="0.16"/>
<circle cx="193.95" cy="291.89" r="0.31" opacity="0.6"/>
<circle cx="299.1" cy="293.27" r="0.4" opacity="0.17"/>
<circle cx="307.75" cy="231.29" r="0.36" opacity="0.35"/>
<circle cx="205.91" cy="273.47" r="0.35" opacity="0.12"/>
<circle cx="227.42" cy="281.01" r="0.3" opacity="0.75"/>
<circle cx="334.66" cy="231.2" r="0.31" opacity="0.3"/>
<circle cx="278.34" cy="310.21" r="0.35" opacity="0.12"/>
<circle cx="242.69" cy="248.63" r="0.44" opacity="0.5"/>
<circle cx="309.97" cy="234.89" r="0.44" opacity="0.13"/>
<circle cx="292.58" cy="239.19" r="0.51" opacity="0.62"/>
<circle cx="260.6" cy="288.33" r="0.57" opacity="0.67"/>
<circle cx="288.28" cy="277.64" r="0.34" opacity="0.46"/>
<circle cx="291.42" cy="259.15" r="0.31" opacity="0.74"/>
<circle cx="233.45" cy="270.19" r="0.37" opacity="0.15"/>
<circle cx="325.87" cy="246.81" r="0.55" opacity="0.69"/>
<circle cx="333.52" cy="234.95" r="0.31" opacity="0.13"/>
<circle cx="202.62" cy="285.98" r="0.3" opacity="0.29"/>
<circle cx="243.37" cy="288.61" r="0.3" opacity="0.5"/>
<circle cx="250.82" cy="289.82" r="0.69" opacity="0.96"/>
<circle cx="274.5" cy="255.96" r="0.99" opacity="0.93"/>
<circle cx="315.56" cy="254.89" r="0.85" opacity="0.78"/>
<circle cx="264.83" cy="257.08" r="0.83" opacity="0.9"/>
<circle cx="257.96" cy="293.21" r="0.87" opacity="1"/>
<circle cx="267.95" cy="275.01" r="0.9" opacity="0.81"/>
<circle cx="195.72" cy="296.87" r="0.86" opacity="0.94"/>
<circle cx="311.78" cy="237.16" r="0.95" opacity="0.91"/>
<circle cx="333.94" cy="271.81" r="0.94" opacity="0.76"/>
<circle cx="214.23" cy="271.52" r="0.85" opacity="0.85"/>
<circle cx="224.61" cy="286.42" r="0.82" opacity="0.81"/>
<circle cx="270.72" cy="244.7" r="0.79" opacity="0.82"/>
<circle cx="207.3" cy="285.52" r="0.67" opacity="0.99"/>
<circle cx="245.7" cy="289.09" r="0.7" opacity="1"/>
<circle cx="284.79" cy="245.52" r="0.74" opacity="0.85"/>
<circle cx="272.49" cy="282.56" r="0.56" opacity="0.97"/>
<circle cx="228.67" cy="263.93" r="0.65" opacity="0.92"/>
<circle cx="251.2" cy="274.27" r="0.73" opacity="0.88"/>
<circle cx="254.21" cy="249.88" r="0.93" opacity="0.82"/>
<circle cx="310.38" cy="258.95" r="0.6" opacity="0.89"/>
<circle cx="261.27" cy="296.32" r="0.85" opacity="0.83"/>
<circle cx="208.7" cy="274.27" r="0.64" opacity="0.94"/>
<circle cx="280.25" cy="214.58" r="0.48" opacity="0.24"/>
<circle cx="262.46" cy="330.74" r="0.36" opacity="0.05"/>
<circle cx="259.7" cy="235.1" r="0.55" opacity="0.1"/>
<circle cx="336.92" cy="205.68" r="0.34" opacity="0.05"/>
<circle cx="193.2" cy="214.92" r="0.36" opacity="0.22"/>
<circle cx="224.67" cy="181.18" r="0.45" opacity="0.15"/>
<circle cx="209.58" cy="324.25" r="0.52" opacity="0.23"/>
<circle cx="296.72" cy="199.7" r="0.42" opacity="0.08"/>
<circle cx="240.11" cy="228.99" r="0.3" opacity="0.18"/>
<circle cx="306.5" cy="181.94" r="0.38" opacity="0.05"/>
<circle cx="272.54" cy="206.37" r="0.58" opacity="0.07"/>
<circle cx="269.19" cy="221.12" r="0.55" opacity="0.05"/>
<circle cx="235.01" cy="215.47" r="0.47" opacity="0.08"/>
<circle cx="207.6" cy="250.99" r="0.3" opacity="0.05"/>
<circle cx="221.19" cy="208.34" r="0.38" opacity="0.09"/>
<circle cx="209.93" cy="182.32" r="0.3" opacity="0.18"/>
<circle cx="296.93" cy="204.26" r="0.33" opacity="0.07"/>
<circle cx="298.74" cy="193.8" r="0.3" opacity="0.06"/>
<circle cx="323.2" cy="307.88" r="0.43" opacity="0.25"/>
<circle cx="336.83" cy="317.27" r="0.3" opacity="0.08"/>
<circle cx="266.34" cy="194.8" r="0.3" opacity="0.09"/>
<circle cx="252.39" cy="207.12" r="0.53" opacity="0.05"/>
<circle cx="219.97" cy="210.02" r="0.41" opacity="0.13"/>
<circle cx="203.56" cy="260.18" r="0.4" opacity="0.14"/>
<circle cx="229.95" cy="240.1" r="0.3" opacity="0.19"/>
<circle cx="267.84" cy="197.59" r="0.35" opacity="0.05"/>
<circle cx="203.39" cy="305.4" r="0.3" opacity="0.08"/>
<circle cx="341.56" cy="185.57" r="0.34" opacity="0.24"/>
<circle cx="226.96" cy="228.53" r="0.59" opacity="0.22"/>
<circle cx="188.45" cy="238.43" r="0.44" opacity="0.24"/>
<circle cx="256.51" cy="244.15" r="0.34" opacity="0.12"/>
<circle cx="191.55" cy="321.9" r="0.57" opacity="0.05"/>
<circle cx="189.04" cy="229.13" r="0.31" opacity="0.17"/>
<circle cx="334.32" cy="215.83" r="0.31" opacity="0.08"/>
<circle cx="258.01" cy="211.18" r="0.55" opacity="0.16"/>
<circle cx="232.74" cy="215.58" r="0.32" opacity="0.08"/>
<circle cx="335.24" cy="193.06" r="0.31" opacity="0.08"/>
<circle cx="335.57" cy="251.33" r="0.46" opacity="0.19"/>
<circle cx="259.48" cy="238.91" r="0.48" opacity="0.13"/>
<circle cx="341.9" cy="222.43" r="0.57" opacity="0.1"/>
<circle cx="275.4" cy="312.99" r="0.3" opacity="0.07"/>
<circle cx="263.63" cy="307.47" r="0.31" opacity="0.17"/>
<circle cx="201.76" cy="234.73" r="0.36" opacity="0.15"/>
<circle cx="269.07" cy="312.08" r="0.44" opacity="0.08"/>
<circle cx="268.79" cy="240.76" r="0.53" opacity="0.07"/>
<circle cx="216.09" cy="218.37" r="0.32" opacity="0.18"/>
<circle cx="294.48" cy="218.5" r="0.35" opacity="0.21"/>
<circle cx="336.94" cy="215" r="0.57" opacity="0.05"/>
<circle cx="342.79" cy="230.19" r="0.57" opacity="0.05"/>
<circle cx="294.73" cy="323.69" r="0.5" opacity="0.12"/>
<circle cx="212.22" cy="217.21" r="0.57" opacity="0.2"/>
<circle cx="222.37" cy="233.76" r="0.41" opacity="0.07"/>
<circle cx="221.14" cy="315.09" r="0.3" opacity="0.13"/>
<circle cx="323.11" cy="296.02" r="0.48" opacity="0.05"/>
<circle cx="313.6" cy="303.28" r="0.3" opacity="0.06"/>
<circle cx="301.25" cy="315.17" r="0.39" opacity="0.21"/>
<circle cx="201.69" cy="220.75" r="0.5" opacity="0.18"/>
<circle cx="249.8" cy="229.91" r="0.47" opacity="0.15"/>
<circle cx="217.17" cy="233.76" r="0.35" opacity="0.05"/>
<circle cx="236.38" cy="234.97" r="0.33" opacity="0.1"/>
<circle cx="327.44" cy="312.1" r="0.33" opacity="0.05"/>
<circle cx="201.71" cy="317.65" r="0.47" opacity="0.16"/>
<circle cx="214.63" cy="194.6" r="0.35" opacity="0.17"/>
<circle cx="201.3" cy="248.31" r="0.3" opacity="0.06"/>
<circle cx="224.09" cy="190.04" r="0.31" opacity="0.05"/>
<circle cx="188.3" cy="198.35" r="0.39" opacity="0.09"/>
<circle cx="201.56" cy="203.11" r="0.45" opacity="0.24"/>
<circle cx="304.17" cy="216.84" r="0.34" opacity="0.09"/>
<circle cx="255.23" cy="224.26" r="0.31" opacity="0.05"/>
<circle cx="324.43" cy="331.56" r="0.59" opacity="0.08"/>
<circle cx="294.57" cy="212.52" r="0.3" opacity="0.05"/>
<circle cx="239.7" cy="304.07" r="0.38" opacity="0.06"/>
<circle cx="218.36" cy="249.84" r="0.56" opacity="0.09"/>
<circle cx="341.49" cy="292.5" r="0.3" opacity="0.22"/>
<circle cx="217.58" cy="251.97" r="0.31" opacity="0.08"/>
<circle cx="232.27" cy="213.42" r="0.41" opacity="0.22"/>
<circle cx="195.34" cy="257.45" r="0.48" opacity="0.24"/>
<circle cx="202.2" cy="211.53" r="0.37" opacity="0.12"/>
<circle cx="337.4" cy="197.13" r="0.3" opacity="0.1"/>
<circle cx="310.99" cy="184.95" r="0.34" opacity="0.15"/>
<circle cx="253.23" cy="208.27" r="0.3" opacity="0.17"/>
<circle cx="293.95" cy="298.65" r="0.35" opacity="0.08"/>
<circle cx="330.46" cy="192.25" r="0.48" opacity="0.09"/>
<circle cx="270.64" cy="219.33" r="0.57" opacity="0.07"/>
<circle cx="237.74" cy="189.72" r="0.54" opacity="0.19"/>
<circle cx="195.91" cy="203.43" r="0.32" opacity="0.05"/>
<circle cx="265.18" cy="311.91" r="0.46" opacity="0.1"/>
<circle cx="237.34" cy="221.68" r="0.41" opacity="0.09"/>
<circle cx="207.41" cy="256.76" r="0.58" opacity="0.2"/>
<circle cx="284.71" cy="314.1" r="0.37" opacity="0.1"/>
<circle cx="295.92" cy="211.76" r="0.41" opacity="0.1"/>
<circle cx="205.84" cy="249.7" r="0.3" opacity="0.11"/>
<circle cx="203.12" cy="308.13" r="0.3" opacity="0.18"/>
<circle cx="234.4" cy="328.34" r="0.33" opacity="0.05"/>
<circle cx="291.8" cy="218.22" r="0.5" opacity="0.1"/>
<circle cx="222.65" cy="221.52" r="0.3" opacity="0.06"/>
<circle cx="221.98" cy="205.14" r="0.35" opacity="0.09"/>
<circle cx="261.01" cy="312.86" r="0.31" opacity="0.07"/>
<circle cx="189.97" cy="321.43" r="0.53" opacity="0.08"/>
<circle cx="332.29" cy="320.12" r="0.33" opacity="0.07"/>
<circle cx="252.5" cy="328.6" r="0.37" opacity="0.08"/>
<circle cx="191.8" cy="240.09" r="0.56" opacity="0.09"/>
<circle cx="311.23" cy="319.42" r="0.56" opacity="0.16"/>
<circle cx="265.06" cy="226.94" r="0.57" opacity="0.18"/>
<circle cx="303.22" cy="189.16" r="0.43" opacity="0.15"/>
<circle cx="208.99" cy="231.08" r="0.36" opacity="0.06"/>
<circle cx="204.71" cy="204.05" r="0.36" opacity="0.05"/>
<circle cx="231.27" cy="219.42" r="0.33" opacity="0.12"/>
<circle cx="313.77" cy="293.4" r="0.48" opacity="0.05"/>
<circle cx="242.51" cy="198.41" r="0.51" opacity="0.06"/>
<circle cx="269.32" cy="250.47" r="0.31" opacity="0.59"/>
<circle cx="265.38" cy="258.24" r="0.38" opacity="0.52"/>
<circle cx="248.8" cy="252.02" r="0.55" opacity="0.95"/>
<circle cx="255.12" cy="248.64" r="0.4" opacity="0.3"/>
<circle cx="267.69" cy="246.48" r="0.49" opacity="0.74"/>
<circle cx="248.68" cy="255.65" r="0.61" opacity="0.39"/>
<circle cx="265.14" cy="248.62" r="0.31" opacity="0.78"/>
<circle cx="256.34" cy="250.31" r="0.31" opacity="0.85"/>
<circle cx="261.9" cy="256.61" r="0.41" opacity="0.61"/>
<circle cx="259.48" cy="252.16" r="0.54" opacity="0.56"/>
<circle cx="252.76" cy="265.09" r="0.4" opacity="0.67"/>
<circle cx="268.49" cy="255.78" r="0.53" opacity="0.57"/>
<circle cx="279.44" cy="255.04" r="0.3" opacity="0.25"/>
<circle cx="258.56" cy="259.68" r="0.3" opacity="0.35"/>
<circle cx="267.19" cy="257.18" r="0.35" opacity="0.21"/>
<circle cx="262.73" cy="251.59" r="0.32" opacity="0.84"/>
<circle cx="244.01" cy="261.12" r="0.34" opacity="0.42"/>
<circle cx="252.96" cy="251.96" r="0.69" opacity="0.33"/>
<circle cx="265.12" cy="246.17" r="0.35" opacity="0.77"/>
<circle cx="263.41" cy="252.51" r="0.44" opacity="0.65"/>
<circle cx="252.85" cy="252.72" r="0.51" opacity="0.22"/>
<circle cx="256.06" cy="253.63" r="0.6" opacity="0.69"/>
<circle cx="249.42" cy="259.38" r="0.42" opacity="0.54"/>
<circle cx="263.05" cy="263.29" r="0.47" opacity="0.99"/>
<circle cx="261.29" cy="259.07" r="0.54" opacity="0.25"/>
<circle cx="269.31" cy="261.37" r="0.33" opacity="0.26"/>
<circle cx="286.65" cy="264.74" r="0.46" opacity="0.32"/>
<circle cx="289.24" cy="243.34" r="0.32" opacity="0.8"/>
<circle cx="283.32" cy="253.69" r="0.6" opacity="0.24"/>
<circle cx="282.14" cy="257.21" r="0.3" opacity="0.32"/>
<circle cx="286.51" cy="253.02" r="0.4" opacity="0.76"/>
<circle cx="306.83" cy="262.33" r="0.33" opacity="0.21"/>
<circle cx="291.4" cy="255.87" r="0.38" opacity="0.22"/>
<circle cx="291.41" cy="256.3" r="0.7" opacity="0.24"/>
<circle cx="284.51" cy="258.3" r="0.48" opacity="0.21"/>
<circle cx="301" cy="249.48" r="0.3" opacity="0.35"/>
<circle cx="289.87" cy="250.4" r="0.51" opacity="0.28"/>
<circle cx="304.41" cy="240.11" r="0.57" opacity="0.2"/>
<circle cx="286.28" cy="259.17" r="0.36" opacity="0.23"/>
<circle cx="292.15" cy="253.14" r="0.31" opacity="0.34"/>
<circle cx="304.85" cy="254.86" r="0.67" opacity="0.56"/>
<circle cx="283.94" cy="242.66" r="0.44" opacity="0.64"/>
<circle cx="280.21" cy="257.17" r="0.61" opacity="0.2"/>
<circle cx="298.11" cy="254.28" r="0.46" opacity="0.2"/>
<circle cx="296.37" cy="247.55" r="0.31" opacity="0.77"/>
<circle cx="296.31" cy="270.05" r="0.36" opacity="0.45"/>
<circle cx="281.65" cy="259" r="0.35" opacity="0.41"/>
<circle cx="297.02" cy="261.3" r="0.3" opacity="0.25"/>
<circle cx="293.59" cy="265.54" r="0.31" opacity="0.22"/>
<circle cx="308.71" cy="253.3" r="0.3" opacity="0.8"/>
<circle cx="296.71" cy="245.42" r="0.67" opacity="0.43"/>
<circle cx="296.88" cy="255.82" r="0.3" opacity="0.37"/>
<circle cx="279.89" cy="250.66" r="0.3" opacity="0.2"/>
<circle cx="303.06" cy="258.76" r="0.65" opacity="0.69"/>
<circle cx="307.58" cy="257.54" r="0.31" opacity="0.24"/>
<circle cx="293.06" cy="259.74" r="0.33" opacity="0.24"/>
<circle cx="311.79" cy="247.78" r="0.43" opacity="0.63"/>
<circle cx="316.7" cy="241.61" r="0.43" opacity="0.28"/>
<circle cx="318.79" cy="246.95" r="0.66" opacity="0.49"/>
<circle cx="316.57" cy="237.95" r="0.42" opacity="0.59"/>
<circle cx="324.81" cy="231.11" r="0.3" opacity="0.98"/>
<circle cx="328.94" cy="241.23" r="0.39" opacity="0.89"/>
<circle cx="327.97" cy="236.21" r="0.3" opacity="0.53"/>
<circle cx="322.43" cy="244.97" r="0.31" opacity="0.27"/>
<circle cx="325.25" cy="242.82" r="0.3" opacity="0.25"/>
<circle cx="318" cy="234.26" r="0.43" opacity="0.8"/>
<circle cx="308.52" cy="230.23" r="0.65" opacity="0.25"/>
<circle cx="325.78" cy="260.71" r="0.64" opacity="0.28"/>
<circle cx="319.66" cy="238.67" r="0.32" opacity="0.8"/>
<circle cx="328.04" cy="248.48" r="0.32" opacity="0.67"/>
<circle cx="322.75" cy="245.92" r="0.43" opacity="0.45"/>
<circle cx="318.22" cy="238.58" r="0.5" opacity="0.78"/>
<circle cx="203.28" cy="285.6" r="0.55" opacity="0.35"/>
<circle cx="210.53" cy="292.87" r="0.53" opacity="0.74"/>
<circle cx="209.91" cy="286.03" r="0.3" opacity="0.44"/>
<circle cx="228.29" cy="287.27" r="0.31" opacity="0.68"/>
<circle cx="230.23" cy="286.76" r="0.32" opacity="1"/>
<circle cx="197.71" cy="286.77" r="0.59" opacity="0.26"/>
<circle cx="221.87" cy="285.4" r="0.3" opacity="0.26"/>
<circle cx="201.13" cy="289.99" r="0.3" opacity="0.85"/>
<circle cx="215.44" cy="279.48" r="0.69" opacity="0.2"/>
<circle cx="202.79" cy="278.75" r="0.31" opacity="0.34"/>
<circle cx="220.5" cy="294.67" r="0.39" opacity="0.75"/>
<circle cx="211.78" cy="291.43" r="0.52" opacity="0.29"/>
<circle cx="211.43" cy="287.67" r="0.46" opacity="0.33"/>
<circle cx="215.25" cy="289.34" r="0.34" opacity="0.21"/>
<circle cx="206.2" cy="284.72" r="0.32" opacity="0.3"/>
<circle cx="230.81" cy="285.55" r="0.32" opacity="0.77"/>
<circle cx="221.96" cy="284.65" r="0.55" opacity="0.52"/>
<circle cx="203.72" cy="280.92" r="0.65" opacity="0.37"/>
<circle cx="213.17" cy="286.3" r="0.51" opacity="0.38"/>
<circle cx="234.91" cy="278.48" r="0.33" opacity="0.23"/>
<circle cx="209.77" cy="285.63" r="0.3" opacity="0.2"/>
<circle cx="208.2" cy="290.13" r="0.32" opacity="0.58"/>
<circle cx="213.25" cy="278.45" r="0.42" opacity="0.66"/>
<circle cx="217.52" cy="279.81" r="0.34" opacity="0.46"/>
<circle cx="216.09" cy="283.32" r="0.35" opacity="0.2"/>
<circle cx="207.24" cy="284.83" r="0.38" opacity="0.23"/>
<circle cx="311.25" cy="281.13" r="0.34" opacity="0.84"/>
<circle cx="278" cy="259.38" r="0.39" opacity="0.48"/>
<circle cx="284.84" cy="265.18" r="0.42" opacity="0.23"/>
<circle cx="285.4" cy="275.18" r="0.55" opacity="0.81"/>
<circle cx="268.7" cy="272.04" r="0.31" opacity="0.25"/>
<circle cx="251.28" cy="281.99" r="0.41" opacity="0.35"/>
<circle cx="271.25" cy="266.44" r="0.35" opacity="0.32"/>
<circle cx="295.67" cy="272.73" r="0.43" opacity="0.44"/>
<circle cx="279.22" cy="273.09" r="0.43" opacity="0.2"/>
<circle cx="331.45" cy="270.52" r="0.51" opacity="0.81"/>
<circle cx="265.7" cy="282.47" r="0.59" opacity="0.46"/>
<circle cx="295.66" cy="271.35" r="0.36" opacity="0.32"/>
<circle cx="268.49" cy="267.74" r="0.32" opacity="0.18"/>
<circle cx="271.84" cy="272.31" r="0.32" opacity="0.18"/>
<circle cx="287.91" cy="265.2" r="0.4" opacity="0.42"/>
<circle cx="304.3" cy="272.57" r="0.56" opacity="0.22"/>
<circle cx="258.16" cy="260.58" r="0.43" opacity="0.27"/>
<circle cx="250.4" cy="269.13" r="0.38" opacity="0.57"/>
<circle cx="279.85" cy="256.65" r="0.38" opacity="0.2"/>
<circle cx="287.73" cy="275.95" r="0.43" opacity="0.18"/>
<circle cx="275.8" cy="274.2" r="0.41" opacity="0.21"/>
<circle cx="283.18" cy="267.41" r="0.35" opacity="0.58"/>
<circle cx="290.02" cy="263.11" r="0.66" opacity="0.74"/>
<circle cx="263.46" cy="267.26" r="0.31" opacity="0.52"/>
<circle cx="306.92" cy="274.26" r="0.32" opacity="0.21"/>
<circle cx="265.14" cy="264.7" r="0.3" opacity="0.2"/>
<circle cx="284.91" cy="262.31" r="0.54" opacity="0.45"/>
<circle cx="298.3" cy="270.14" r="0.44" opacity="0.22"/>
<circle cx="266.79" cy="280.47" r="0.38" opacity="0.88"/>
<circle cx="280.73" cy="272" r="0.47" opacity="0.53"/>
<circle cx="244.43" cy="195.42" r="0.31" opacity="0.27"/>
<circle cx="235.56" cy="205.7" r="0.31" opacity="0.14"/>
<circle cx="225.43" cy="202.58" r="0.3" opacity="0.15"/>
<circle cx="227.09" cy="184.83" r="0.35" opacity="0.5"/>
<circle cx="263.99" cy="203.18" r="0.65" opacity="0.14"/>
<circle cx="255.61" cy="210.13" r="0.35" opacity="0.14"/>
<circle cx="262.51" cy="183.53" r="0.44" opacity="0.24"/>
<circle cx="209.3" cy="195.49" r="0.43" opacity="0.2"/>
<circle cx="250.51" cy="187.78" r="0.32" opacity="0.33"/>
<circle cx="243.3" cy="187.28" r="0.34" opacity="0.31"/>
<circle cx="231.92" cy="193.51" r="0.61" opacity="0.23"/>
<circle cx="210.55" cy="206.51" r="0.53" opacity="0.16"/>
<circle cx="250.19" cy="211.64" r="0.3" opacity="0.25"/>
<circle cx="250" cy="205.28" r="0.35" opacity="0.59"/>
<circle cx="221.92" cy="194.24" r="0.46" opacity="0.29"/>
<circle cx="265.98" cy="200.15" r="0.5" opacity="0.5"/>
<circle cx="242.7" cy="199.56" r="0.41" opacity="0.22"/>
<circle cx="192.71" cy="206.88" r="0.38" opacity="0.31"/>
<circle cx="240.98" cy="177.86" r="0.44" opacity="0.3"/>
<circle cx="258.33" cy="206.35" r="0.31" opacity="0.47"/>
<circle cx="231.32" cy="194.77" r="0.43" opacity="0.57"/>
<circle cx="252.62" cy="191.28" r="0.35" opacity="0.3"/>
<circle cx="176.76" cy="214.68" r="0.59" opacity="0.59"/>
<circle cx="250.28" cy="200" r="0.66" opacity="0.21"/>
<circle cx="235.51" cy="214.87" r="0.36" opacity="0.16"/>
<circle cx="254.32" cy="198.9" r="0.3" opacity="0.23"/>
<circle cx="259.3" cy="182.26" r="0.38" opacity="0.23"/>
<circle cx="267.74" cy="215.11" r="0.53" opacity="0.17"/>
<circle cx="211.19" cy="179.72" r="0.35" opacity="0.17"/>
<circle cx="236.75" cy="184.64" r="0.36" opacity="0.14"/>
<circle cx="219.85" cy="215.36" r="0.31" opacity="0.27"/>
<circle cx="241.05" cy="189.91" r="0.31" opacity="0.4"/>
<circle cx="223.93" cy="186.16" r="0.63" opacity="0.22"/>
<circle cx="209.53" cy="199.24" r="0.59" opacity="0.2"/>
<circle cx="239.43" cy="210.53" r="0.57" opacity="0.45"/>
<circle cx="256.42" cy="218.72" r="0.69" opacity="0.2"/>
<circle cx="247.77" cy="183.6" r="0.45" opacity="0.17"/>
<circle cx="290.34" cy="200.13" r="0.34" opacity="0.52"/>
<circle cx="269.25" cy="182.81" r="0.51" opacity="0.44"/>
<circle cx="264.44" cy="176.25" r="0.64" opacity="0.57"/>
<circle cx="212.52" cy="222.3" r="0.3" opacity="0.16"/>
<circle cx="259.94" cy="189.73" r="0.66" opacity="0.2"/>
<circle cx="251.55" cy="202.53" r="0.61" opacity="0.51"/>
<circle cx="203.9" cy="206.97" r="0.3" opacity="0.63"/>
<circle cx="234.41" cy="207.17" r="0.39" opacity="0.27"/>
<circle cx="196.71" cy="201.35" r="0.31" opacity="0.49"/>
<circle cx="226.02" cy="209.88" r="0.62" opacity="0.45"/>
<circle cx="231.72" cy="180.64" r="0.37" opacity="0.21"/>
<circle cx="188.04" cy="196.98" r="0.31" opacity="0.42"/>
<circle cx="176.3" cy="204.16" r="0.5" opacity="0.62"/>
<circle cx="213.25" cy="206.34" r="0.32" opacity="0.16"/>
<circle cx="231.05" cy="207.04" r="0.46" opacity="0.32"/>
<circle cx="234.51" cy="181.73" r="0.68" opacity="0.3"/>
<circle cx="214.15" cy="191.03" r="0.39" opacity="0.21"/>
<circle cx="229.42" cy="209.2" r="0.4" opacity="0.25"/>
<circle cx="201.02" cy="195.22" r="0.69" opacity="0.33"/>
<circle cx="260.65" cy="199.46" r="0.45" opacity="0.33"/>
<circle cx="210.52" cy="203.71" r="0.32" opacity="0.68"/>
<circle cx="279.99" cy="209.04" r="0.39" opacity="0.21"/>
<circle cx="215.93" cy="224.88" r="0.34" opacity="0.33"/>
<circle cx="204.94" cy="208.17" r="0.42" opacity="0.3"/>
<circle cx="242.73" cy="201.57" r="0.47" opacity="0.14"/>
<circle cx="217.1" cy="198.95" r="0.52" opacity="0.2"/>
<circle cx="252.59" cy="201.95" r="0.34" opacity="0.37"/>
<circle cx="224.26" cy="180.05" r="0.67" opacity="0.31"/>
<circle cx="274.87" cy="204.68" r="0.35" opacity="0.35"/>
<circle cx="249.91" cy="209.86" r="0.32" opacity="0.4"/>
<circle cx="261.54" cy="196.57" r="0.4" opacity="0.37"/>
<circle cx="240.16" cy="189.68" r="0.33" opacity="0.38"/>
<circle cx="226.7" cy="211.98" r="0.46" opacity="0.31"/>
<circle cx="261.73" cy="198.29" r="0.32" opacity="0.23"/>
<circle cx="278.94" cy="187.02" r="0.3" opacity="0.16"/>
<circle cx="242.01" cy="219.05" r="0.49" opacity="0.16"/>
<circle cx="251" cy="178.68" r="0.57" opacity="0.21"/>
<circle cx="246.5" cy="192.25" r="0.65" opacity="0.15"/>
<circle cx="220.62" cy="205.81" r="0.57" opacity="0.47"/>
<circle cx="206.35" cy="197.31" r="0.33" opacity="0.33"/>
<circle cx="277.81" cy="205.14" r="0.67" opacity="0.26"/>
<circle cx="204.4" cy="203.29" r="0.36" opacity="0.62"/>
<circle cx="244.74" cy="212.4" r="0.49" opacity="0.45"/>
<circle cx="233.36" cy="205.26" r="0.49" opacity="0.15"/>
<circle cx="240.31" cy="198.06" r="0.61" opacity="0.51"/>
<circle cx="183.38" cy="199.08" r="0.54" opacity="0.39"/>
<circle cx="237.33" cy="204.76" r="0.31" opacity="0.15"/>
<circle cx="219.63" cy="184.76" r="0.66" opacity="0.22"/>
<circle cx="204.23" cy="216.53" r="0.55" opacity="0.68"/>
<circle cx="302.58" cy="201.63" r="0.37" opacity="0.5"/>
<circle cx="246.49" cy="213.26" r="0.53" opacity="0.43"/>
<circle cx="234.21" cy="195.54" r="0.63" opacity="0.14"/>
<circle cx="252.26" cy="187.15" r="0.45" opacity="0.17"/>
<circle cx="248.61" cy="181.97" r="0.32" opacity="0.62"/>
<circle cx="193.52" cy="211.03" r="0.32" opacity="0.22"/>
<circle cx="239.62" cy="202.82" r="0.31" opacity="0.15"/>
<circle cx="208.33" cy="198.66" r="0.3" opacity="0.61"/>
<circle cx="217.22" cy="190.03" r="0.33" opacity="0.24"/>
<circle cx="261.1" cy="193.84" r="0.4" opacity="0.62"/>
<circle cx="196.94" cy="212.76" r="0.3" opacity="0.42"/>
<circle cx="253.06" cy="206.06" r="0.3" opacity="0.57"/>
<circle cx="274.19" cy="187.87" r="0.4" opacity="0.15"/>
<circle cx="182.79" cy="197.02" r="0.51" opacity="0.14"/>
<circle cx="301.15" cy="197.9" r="0.44" opacity="0.14"/>
<circle cx="229.71" cy="185.01" r="0.3" opacity="0.25"/>
<circle cx="247.24" cy="200.43" r="0.48" opacity="0.47"/>
<circle cx="231.1" cy="205.71" r="0.33" opacity="0.17"/>
<circle cx="218.53" cy="196.94" r="0.63" opacity="0.14"/>
<circle cx="242.57" cy="215.27" r="0.38" opacity="0.14"/>
<circle cx="221.99" cy="205.82" r="0.56" opacity="0.17"/>
<circle cx="213.07" cy="187.33" r="0.37" opacity="0.14"/>
<circle cx="225.85" cy="198.85" r="0.32" opacity="0.62"/>
<circle cx="267.56" cy="224.67" r="0.31" opacity="0.14"/>
<circle cx="286.75" cy="204.09" r="0.62" opacity="0.18"/>
<circle cx="224.63" cy="208.3" r="0.46" opacity="0.19"/>
<circle cx="200.96" cy="203.17" r="0.33" opacity="0.15"/>
<circle cx="216.49" cy="186.87" r="0.3" opacity="0.24"/>
<circle cx="257.83" cy="187.85" r="0.48" opacity="0.67"/>
<circle cx="245.6" cy="210.55" r="0.31" opacity="0.59"/>
<circle cx="192.68" cy="188.45" r="0.47" opacity="0.2"/>
<circle cx="232.87" cy="191.53" r="0.4" opacity="0.36"/>
<circle cx="241.22" cy="191.86" r="0.53" opacity="0.31"/>
<circle cx="229.9" cy="196.46" r="0.41" opacity="0.14"/>
<circle cx="206.46" cy="185.78" r="0.36" opacity="0.25"/>
<circle cx="214.36" cy="190.1" r="0.68" opacity="0.54"/>
<circle cx="228.52" cy="190.63" r="0.3" opacity="0.4"/>
<circle cx="244.63" cy="216.94" r="0.47" opacity="0.55"/>
<circle cx="265.76" cy="204.62" r="0.35" opacity="0.21"/>
<circle cx="235.69" cy="220.78" r="0.38" opacity="0.31"/>
<circle cx="262.49" cy="209.45" r="0.46" opacity="0.15"/>
<circle cx="227.17" cy="207.35" r="0.42" opacity="0.14"/>
<circle cx="263.66" cy="198.84" r="0.64" opacity="0.14"/>
<circle cx="238.25" cy="176.42" r="0.38" opacity="0.22"/>
<circle cx="195.09" cy="189.03" r="0.32" opacity="0.65"/>
<circle cx="194.17" cy="187.39" r="0.38" opacity="0.53"/>
<circle cx="199.57" cy="187.94" r="0.34" opacity="0.25"/>
<circle cx="207.84" cy="193.78" r="0.31" opacity="0.42"/>
<circle cx="196.47" cy="195.85" r="0.32" opacity="0.19"/>
<circle cx="202.15" cy="202.33" r="0.38" opacity="0.33"/>
<circle cx="191.67" cy="203.23" r="0.44" opacity="0.17"/>
<circle cx="199.84" cy="191.79" r="0.7" opacity="0.48"/>
<circle cx="201.92" cy="197.16" r="0.63" opacity="0.51"/>
<circle cx="202.34" cy="185.58" r="0.32" opacity="0.4"/>
<circle cx="195.97" cy="190.65" r="0.3" opacity="0.32"/>
<circle cx="206.19" cy="189.79" r="0.46" opacity="0.16"/>
<circle cx="212.06" cy="184.76" r="0.34" opacity="0.46"/>
<circle cx="199.46" cy="186.7" r="0.61" opacity="0.15"/>
<circle cx="199.06" cy="194.42" r="0.57" opacity="0.48"/>
<circle cx="201.53" cy="199.28" r="0.4" opacity="0.34"/>
<circle cx="191.05" cy="195.24" r="0.43" opacity="0.21"/>
<circle cx="196.8" cy="194.22" r="0.46" opacity="0.55"/>
<circle cx="201.44" cy="198.6" r="0.36" opacity="0.17"/>
<circle cx="202.03" cy="192.53" r="0.52" opacity="0.16"/>
<circle cx="198.1" cy="197.85" r="0.32" opacity="0.35"/>
<circle cx="194.39" cy="192.58" r="0.48" opacity="0.4"/>
<circle cx="206.89" cy="190.63" r="0.54" opacity="0.38"/>
<circle cx="198.03" cy="191.41" r="0.34" opacity="0.26"/>
<circle cx="203.5" cy="192.65" r="0.57" opacity="0.16"/>
<circle cx="192.57" cy="219.81" r="0.41" opacity="0.18"/>
<circle cx="195.44" cy="230.79" r="0.33" opacity="0.5"/>
<circle cx="193.48" cy="223.03" r="0.52" opacity="0.12"/>
<circle cx="195.68" cy="208.19" r="0.64" opacity="0.23"/>
<circle cx="195.85" cy="207.84" r="0.57" opacity="0.27"/>
<circle cx="202.5" cy="213.84" r="0.36" opacity="0.17"/>
<circle cx="202.12" cy="206.54" r="0.36" opacity="0.48"/>
<circle cx="198.1" cy="210.12" r="0.35" opacity="0.14"/>
<circle cx="194.11" cy="233.8" r="0.39" opacity="0.13"/>
<circle cx="201.52" cy="233.59" r="0.31" opacity="0.12"/>
<circle cx="194.36" cy="221.48" r="0.37" opacity="0.13"/>
<circle cx="200.02" cy="214.12" r="0.4" opacity="0.21"/>
<circle cx="205.57" cy="223.77" r="0.66" opacity="0.11"/>
<circle cx="187.94" cy="216.42" r="0.59" opacity="0.51"/>
<circle cx="328" cy="317.72" r="0.57" opacity="0.18"/>
<circle cx="340.45" cy="280.33" r="0.94" opacity="0.06"/>
<circle cx="254.95" cy="197.41" r="0.74" opacity="0.18"/>
<circle cx="297.21" cy="251.74" r="0.66" opacity="0.06"/>
<circle cx="254.63" cy="225.19" r="0.74" opacity="0.09"/>
<circle cx="250.82" cy="272.49" r="0.71" opacity="0.08"/>
<circle cx="263.26" cy="311.15" r="0.95" opacity="0.09"/>
<circle cx="305.42" cy="227.32" r="0.58" opacity="0.06"/>
<circle cx="209.61" cy="299.16" r="0.96" opacity="0.1"/>
<circle cx="221.93" cy="200.78" r="0.89" opacity="0.09"/>
<circle cx="210.61" cy="334.47" r="0.88" opacity="0.17"/>
<circle cx="340.22" cy="302.01" r="0.96" opacity="0.17"/>
<circle cx="212.79" cy="234.24" r="0.77" opacity="0.1"/>
<circle cx="211.52" cy="222.62" r="0.89" opacity="0.17"/>
<circle cx="261.65" cy="325.06" r="0.94" opacity="0.16"/>
<circle cx="217.35" cy="240.08" r="0.83" opacity="0.14"/>
<circle cx="316.78" cy="199.13" r="0.84" opacity="0.05"/>
<circle cx="236.17" cy="188.57" r="0.76" opacity="0.05"/>
<circle cx="290.12" cy="243.74" r="0.9" opacity="0.06"/>
<circle cx="341.33" cy="198.91" r="0.54" opacity="0.08"/>
<circle cx="265.83" cy="311.47" r="0.51" opacity="0.05"/>
<circle cx="226.08" cy="247.77" r="0.91" opacity="0.11"/>
<circle cx="224.77" cy="240.6" r="0.88" opacity="0.09"/>
<circle cx="204.8" cy="236.36" r="0.51" opacity="0.08"/>
<circle cx="223.91" cy="227.2" r="0.67" opacity="0.15"/>
<circle cx="200.98" cy="194.36" r="0.57" opacity="0.07"/>
<circle cx="255.41" cy="324.77" r="0.86" opacity="0.06"/>
<circle cx="208.43" cy="265.44" r="0.92" opacity="0.06"/>
<circle cx="306.46" cy="236.93" r="0.98" opacity="0.17"/>
<circle cx="215.07" cy="305.4" r="0.8" opacity="0.07"/>
<circle cx="268.23" cy="320.85" r="0.74" opacity="0.09"/>
<circle cx="264.63" cy="184.33" r="0.88" opacity="0.05"/>
<circle cx="327.3" cy="181.61" r="0.78" opacity="0.06"/>
<circle cx="294.04" cy="277.44" r="0.87" opacity="0.14"/>
<circle cx="340.93" cy="198.56" r="0.61" opacity="0.08"/>
<circle cx="331.66" cy="241.93" r="0.6" opacity="0.09"/>
<circle cx="236.91" cy="192.69" r="0.9" opacity="0.08"/>
<circle cx="318.47" cy="196.66" r="0.67" opacity="0.05"/>
<circle cx="318.92" cy="249.77" r="0.8" opacity="0.05"/>
<circle cx="256.22" cy="240.66" r="0.85" opacity="0.06"/>
<circle cx="340.39" cy="231.51" r="0.76" opacity="0.08"/>
<circle cx="241.21" cy="189.37" r="0.52" opacity="0.16"/>
<circle cx="339.66" cy="275.69" r="0.57" opacity="0.05"/>
<circle cx="237.57" cy="185.77" r="0.67" opacity="0.06"/>
<circle cx="238.58" cy="310.36" r="0.78" opacity="0.18"/>
<circle cx="235.59" cy="191.37" r="0.88" opacity="0.12"/>
<circle cx="314.52" cy="238.15" r="0.91" opacity="0.05"/>
<circle cx="299.74" cy="287.85" r="0.78" opacity="0.1"/>
<circle cx="259.87" cy="247.1" r="0.74" opacity="0.1"/>
<circle cx="319.05" cy="232.57" r="0.78" opacity="0.07"/>
<circle cx="214.61" cy="289.72" r="0.5" opacity="0.15"/>
<circle cx="195.74" cy="206.71" r="0.87" opacity="0.07"/>
<circle cx="234.39" cy="256.18" r="0.97" opacity="0.1"/>
<circle cx="243.93" cy="327.5" r="0.62" opacity="0.05"/>
<circle cx="301.68" cy="304.93" r="0.9" opacity="0.07"/>
<circle cx="293.55" cy="213.1" r="0.63" opacity="0.17"/>
<circle cx="319.76" cy="327.02" r="0.78" opacity="0.12"/>
<circle cx="244.14" cy="242.06" r="0.96" opacity="0.12"/>
<circle cx="333.45" cy="203.94" r="0.71" opacity="0.16"/>
<circle cx="331.5" cy="307.45" r="0.94" opacity="0.06"/>
<circle cx="298.55" cy="196.85" r="0.73" opacity="0.05"/>
<circle cx="255.06" cy="210.62" r="0.7" opacity="0.11"/>
<circle cx="292.66" cy="317.22" r="0.97" opacity="0.06"/>
<circle cx="239.72" cy="245.5" r="0.63" opacity="0.14"/>
<circle cx="310.78" cy="283.37" r="0.82" opacity="0.06"/>
<circle cx="231.05" cy="298.39" r="0.55" opacity="0.18"/>
<circle cx="210.48" cy="212.78" r="0.88" opacity="0.16"/>
<circle cx="212.24" cy="326.1" r="0.75" opacity="0.05"/>
<circle cx="272.58" cy="216.38" r="0.82" opacity="0.1"/>
<circle cx="317.27" cy="323.11" r="0.93" opacity="0.11"/>
<circle cx="300.95" cy="315.15" r="0.92" opacity="0.08"/>
<circle cx="333.62" cy="329.52" r="0.6" opacity="0.06"/>
<circle cx="283.12" cy="265.05" r="0.71" opacity="0.08"/>
<circle cx="220.29" cy="245.21" r="0.8" opacity="0.12"/>
<circle cx="297.33" cy="196.42" r="0.6" opacity="0.08"/>
<circle cx="307.62" cy="223.3" r="0.87" opacity="0.06"/>
<circle cx="235.01" cy="312.3" r="0.6" opacity="0.14"/>
<circle cx="273.29" cy="184.48" r="0.74" opacity="0.09"/>
<circle cx="207.42" cy="238.3" r="0.74" opacity="0.08"/>
<circle cx="330.63" cy="240.44" r="0.95" opacity="0.06"/>
<circle cx="303.42" cy="204.57" r="0.79" opacity="0.12"/>
<circle cx="316.06" cy="188.53" r="0.87" opacity="0.05"/>
<circle cx="337.55" cy="227.71" r="0.93" opacity="0.05"/>
<circle cx="340.71" cy="263.85" r="0.61" opacity="0.16"/>
<circle cx="310.34" cy="292.69" r="0.71" opacity="0.06"/>
<circle cx="286.53" cy="312.03" r="0.87" opacity="0.12"/>
<circle cx="197.76" cy="252.18" r="0.65" opacity="0.09"/>
<circle cx="291.52" cy="273.48" r="0.5" opacity="0.06"/>
<circle cx="232.22" cy="245.85" r="0.64" opacity="0.05"/>
<circle cx="222.56" cy="256.61" r="0.94" opacity="0.06"/>
<circle cx="336.77" cy="283.37" r="0.95" opacity="0.15"/>
<circle cx="304.58" cy="322.39" r="0.6" opacity="0.1"/>
<circle cx="243.88" cy="206.43" r="0.64" opacity="0.1"/>
<circle cx="208.75" cy="196.62" r="0.92" opacity="0.14"/>
<circle cx="192.9" cy="211.46" r="0.5" opacity="0.09"/>
<circle cx="340.36" cy="204.09" r="0.79" opacity="0.08"/>
<circle cx="300.77" cy="271.84" r="0.87" opacity="0.05"/>
<circle cx="339.36" cy="302.23" r="0.55" opacity="0.05"/>
<circle cx="313.73" cy="300.79" r="0.69" opacity="0.16"/>
<circle cx="285.91" cy="259.89" r="0.52" opacity="0.08"/>
<circle cx="246.77" cy="248.14" r="0.67" opacity="0.14"/>
<circle cx="245.24" cy="195.49" r="0.63" opacity="0.14"/>
<circle cx="268.09" cy="234.83" r="0.94" opacity="0.18"/>
<circle cx="252.59" cy="202.06" r="0.66" opacity="0.05"/>
<circle cx="323.23" cy="290.78" r="0.66" opacity="0.1"/>
<circle cx="319.19" cy="334.69" r="0.59" opacity="0.08"/>
<circle cx="288.2" cy="249.17" r="0.76" opacity="0.08"/>
<circle cx="251.47" cy="269.35" r="0.7" opacity="0.06"/>
<circle cx="252.46" cy="301.53" r="0.58" opacity="0.08"/>
<circle cx="224.02" cy="324.3" r="0.5" opacity="0.07"/>
<circle cx="337.21" cy="290.73" r="0.62" opacity="0.12"/>
<circle cx="265.7" cy="195.06" r="0.55" opacity="0.05"/>
<circle cx="232.23" cy="244.03" r="0.99" opacity="0.15"/>
<circle cx="273.24" cy="283.9" r="0.81" opacity="0.14"/>
<circle cx="245.41" cy="281.07" r="0.61" opacity="0.06"/>
<circle cx="229.37" cy="243.11" r="0.65" opacity="0.1"/>
<circle cx="194.31" cy="229.48" r="0.8" opacity="0.13"/>
<circle cx="309.93" cy="247.26" r="0.81" opacity="0.05"/>
<circle cx="331.13" cy="283.72" r="0.9" opacity="0.05"/>
<circle cx="252.12" cy="226.8" r="0.92" opacity="0.13"/>
<circle cx="212.6" cy="330.69" r="0.6" opacity="0.05"/>
<circle cx="274.84" cy="248.41" r="0.98" opacity="0.05"/>
<circle cx="328.44" cy="291.1" r="0.66" opacity="0.05"/>
<circle cx="297.32" cy="185.36" r="0.65" opacity="0.05"/>
<circle cx="242.07" cy="334.45" r="0.92" opacity="0.09"/>
<circle cx="287.92" cy="278.41" r="0.89" opacity="0.14"/>
<circle cx="337.2" cy="326.98" r="0.67" opacity="0.17"/>
<circle cx="226.93" cy="198.09" r="0.83" opacity="0.05"/>
<circle cx="323.61" cy="332.16" r="0.9" opacity="0.06"/>
<circle cx="269.93" cy="188.85" r="0.72" opacity="0.14"/>
<circle cx="218.44" cy="204.96" r="0.68" opacity="0.07"/>
<circle cx="239.69" cy="230.68" r="0.54" opacity="0.1"/>
<circle cx="264.14" cy="275.33" r="0.66" opacity="0.16"/>
<circle cx="307.88" cy="266.55" r="0.69" opacity="0.14"/>
<circle cx="255.54" cy="245.17" r="0.78" opacity="0.05"/>
<circle cx="264.84" cy="193.4" r="0.96" opacity="0.13"/>
<circle cx="206.94" cy="213.28" r="0.83" opacity="0.09"/>
<circle cx="250.85" cy="243.67" r="0.61" opacity="0.07"/>
<circle cx="196.01" cy="190.86" r="0.62" opacity="0.05"/>
<circle cx="225" cy="211.3" r="0.68" opacity="0.1"/>
<circle cx="341.45" cy="289.71" r="0.91" opacity="0.09"/>
<circle cx="305.91" cy="278.38" r="0.5" opacity="0.07"/>
<circle cx="208.33" cy="286.82" r="0.68" opacity="0.07"/>
<circle cx="212.09" cy="330.78" r="0.64" opacity="0.05"/>
<circle cx="245.6" cy="229.7" r="0.59" opacity="0.11"/>
<circle cx="254.73" cy="182.29" r="0.97" opacity="0.05"/>
<circle cx="322.33" cy="333.48" r="0.77" opacity="0.13"/>
<circle cx="188.96" cy="211.66" r="0.9" opacity="0.11"/>
<circle cx="206.62" cy="221.91" r="0.54" opacity="0.13"/>
<circle cx="287.34" cy="234.7" r="0.78" opacity="0.08"/>
<circle cx="228.56" cy="263.56" r="0.5" opacity="0.12"/>
<circle cx="336.23" cy="205.99" r="0.72" opacity="0.1"/>
<circle cx="293.95" cy="300.3" r="0.66" opacity="0.12"/>
<circle cx="243.72" cy="301.19" r="0.75" opacity="0.09"/>
<circle cx="326.4" cy="207.94" r="0.75" opacity="0.07"/>
<circle cx="197.59" cy="301.25" r="0.6" opacity="0.05"/>
<circle cx="209.09" cy="301.19" r="0.85" opacity="0.06"/>
<circle cx="263.67" cy="235.79" r="0.75" opacity="0.05"/>
<circle cx="232.55" cy="329" r="0.66" opacity="0.11"/>
<circle cx="283.98" cy="252.61" r="0.81" opacity="0.11"/>
<circle cx="277.14" cy="302.38" r="0.65" opacity="0.06"/>
<circle cx="259.26" cy="302.63" r="0.75" opacity="0.05"/>
<circle cx="259.86" cy="319.22" r="0.58" opacity="0.09"/>
<circle cx="232.19" cy="264.51" r="0.88" opacity="0.06"/>
<circle cx="214.8" cy="249.94" r="0.99" opacity="0.05"/>
<circle cx="235.08" cy="214.31" r="0.74" opacity="0.13"/>
<circle cx="274.96" cy="271.59" r="0.61" opacity="0.09"/>
<circle cx="303.96" cy="232.01" r="0.51" opacity="0.17"/>
<circle cx="266.28" cy="330.19" r="0.81" opacity="0.07"/>
<circle cx="215.6" cy="325.16" r="0.88" opacity="0.09"/>
<circle cx="190.92" cy="227.24" r="0.71" opacity="0.05"/>
<circle cx="261.14" cy="253.37" r="0.6" opacity="0.09"/>
<circle cx="335.33" cy="315.88" r="0.91" opacity="0.06"/>
<circle cx="224.11" cy="254.59" r="0.97" opacity="0.06"/>
<circle cx="199.61" cy="312.36" r="0.51" opacity="0.08"/>
<circle cx="340.23" cy="269.33" r="0.5" opacity="0.06"/>
<circle cx="304.16" cy="285.74" r="0.54" opacity="0.08"/>
<circle cx="262.49" cy="206.01" r="0.57" opacity="0.06"/>
<circle cx="249.88" cy="328.25" r="0.66" opacity="0.15"/>
<circle cx="191.29" cy="252.94" r="0.58" opacity="0.05"/>
<circle cx="233.05" cy="288.25" r="0.8" opacity="0.06"/>
<circle cx="300.66" cy="289.64" r="0.93" opacity="0.11"/>
<circle cx="202" cy="301.78" r="0.98" opacity="0.15"/>
<circle cx="289.75" cy="200.02" r="0.93" opacity="0.08"/>
<circle cx="300.8" cy="323.99" r="0.61" opacity="0.05"/>
<circle cx="333.03" cy="318.56" r="0.54" opacity="0.08"/>
<circle cx="320.82" cy="275.73" r="0.76" opacity="0.18"/>
<circle cx="192.6" cy="238.14" r="0.58" opacity="0.17"/>
<circle cx="278.49" cy="221.07" r="0.93" opacity="0.16"/>
<circle cx="262.68" cy="327.9" r="0.61" opacity="0.11"/>
<circle cx="341.77" cy="216.23" r="0.85" opacity="0.14"/>
<circle cx="321.87" cy="221.92" r="0.69" opacity="0.05"/>
<circle cx="266.38" cy="314.11" r="0.65" opacity="0.15"/>
<circle cx="229.14" cy="253.29" r="0.83" opacity="0.14"/>
<circle cx="333.79" cy="235.72" r="0.7" opacity="0.12"/>
<circle cx="311.28" cy="302.9" r="0.63" opacity="0.15"/>
<circle cx="306.31" cy="272.33" r="0.67" opacity="0.12"/>
<circle cx="198.8" cy="295.17" r="0.71" opacity="0.13"/>
<circle cx="279.06" cy="235.99" r="0.66" opacity="0.08"/>
<circle cx="209.04" cy="220.67" r="0.82" opacity="0.05"/>
<circle cx="330.26" cy="262.37" r="0.66" opacity="0.05"/>
<circle cx="230.86" cy="241.94" r="0.57" opacity="0.06"/>
<circle cx="337.18" cy="325.77" r="0.96" opacity="0.17"/>
<circle cx="296.75" cy="330.17" r="0.82" opacity="0.07"/>
<circle cx="214.22" cy="281.63" r="0.98" opacity="0.16"/>
<circle cx="338.72" cy="249.07" r="0.84" opacity="0.18"/>
<circle cx="299.82" cy="313.1" r="0.93" opacity="0.09"/>
<circle cx="323.29" cy="235.27" r="0.91" opacity="0.07"/>
<circle cx="221.4" cy="308.72" r="0.9" opacity="0.1"/>
<circle cx="260.9" cy="221.18" r="0.92" opacity="0.11"/>
<circle cx="291.74" cy="307.74" r="0.51" opacity="0.13"/>
<circle cx="320.17" cy="202.1" r="0.52" opacity="0.15"/>
<circle cx="228.57" cy="263.31" r="0.96" opacity="0.05"/>
<circle cx="264.62" cy="189.79" r="0.94" opacity="0.15"/>
<circle cx="255.65" cy="303.44" r="0.58" opacity="0.13"/>
<circle cx="313.18" cy="293.61" r="0.52" opacity="0.06"/>
<circle cx="290.54" cy="309.58" r="0.75" opacity="0.11"/>
<circle cx="258.6" cy="270.81" r="0.64" opacity="0.06"/>
<circle cx="322.8" cy="266.3" r="0.66" opacity="0.06"/>
<circle cx="240.24" cy="260.79" r="0.58" opacity="0.08"/>
<circle cx="242.31" cy="240.47" r="0.68" opacity="0.05"/>
<circle cx="324.97" cy="227.47" r="0.87" opacity="0.17"/>
<circle cx="246.97" cy="234.56" r="0.84" opacity="0.17"/>
<circle cx="270.59" cy="280.7" r="0.55" opacity="0.06"/>
<circle cx="258.38" cy="281.72" r="0.69" opacity="0.12"/>
<circle cx="317.75" cy="218.94" r="0.76" opacity="0.05"/>
<circle cx="237.69" cy="270.09" r="0.91" opacity="0.05"/>
<circle cx="311.91" cy="282.89" r="0.91" opacity="0.05"/>
<circle cx="268.04" cy="202.9" r="0.89" opacity="0.11"/>
<circle cx="223.76" cy="333.93" r="0.95" opacity="0.07"/>
<circle cx="221.59" cy="300.46" r="0.67" opacity="0.15"/>
<circle cx="231.08" cy="312.78" r="0.68" opacity="0.1"/>
<circle cx="236.81" cy="276.64" r="0.53" opacity="0.07"/>
<circle cx="242.77" cy="272.11" r="0.9" opacity="0.08"/>
<circle cx="335.38" cy="204.49" r="0.87" opacity="0.07"/>
<circle cx="220.94" cy="232.34" r="0.69" opacity="0.08"/>
<circle cx="263.89" cy="303.26" r="0.9" opacity="0.07"/>
<circle cx="307.06" cy="273.01" r="0.52" opacity="0.14"/>
<circle cx="324.91" cy="279.69" r="0.75" opacity="0.16"/>
<circle cx="339.73" cy="270.7" r="0.53" opacity="0.08"/>
<circle cx="219.47" cy="252.86" r="0.8" opacity="0.06"/>
<circle cx="198.17" cy="257.19" r="0.84" opacity="0.09"/>
<circle cx="314.3" cy="335.26" r="0.99" opacity="0.06"/>
<circle cx="257.57" cy="270.07" r="0.61" opacity="0.16"/>
<circle cx="306.9" cy="329.99" r="0.69" opacity="0.08"/>
<circle cx="268.7" cy="196.38" r="0.63" opacity="0.11"/>
<circle cx="331.38" cy="190.25" r="0.67" opacity="0.08"/>
<circle cx="251.47" cy="221.39" r="0.59" opacity="0.06"/>
<circle cx="196.96" cy="224.1" r="0.53" opacity="0.15"/>
<circle cx="287.94" cy="257.43" r="0.66" opacity="0.11"/>
<circle cx="241.02" cy="310.38" r="0.92" opacity="0.06"/>
<circle cx="268.09" cy="236.83" r="0.99" opacity="0.06"/>
<circle cx="194.08" cy="215.13" r="0.97" opacity="0.1"/>
<circle cx="301.6" cy="256.38" r="0.85" opacity="0.07"/>
<circle cx="269.35" cy="281.38" r="0.9" opacity="0.17"/>
<circle cx="286.87" cy="308.4" r="0.58" opacity="0.06"/>
<circle cx="329.27" cy="190.58" r="0.73" opacity="0.06"/>
<circle cx="272.43" cy="227.45" r="0.95" opacity="0.05"/>
<circle cx="315.81" cy="328.64" r="0.7" opacity="0.13"/>
<circle cx="283.57" cy="215.44" r="0.76" opacity="0.05"/>
<circle cx="319.9" cy="318.2" r="1.3" opacity="1"/>
<circle cx="271.5" cy="221.5" r="0.7" opacity="0.8"/>
<circle cx="297.2" cy="218" r="0.6" opacity="0.6"/>
</g>
<path d="M188.8,281.53C191.44,280.21 199.38,276.43 204.67,273.6C209.96,270.77 215.43,268.5 220.53,264.53C225.63,260.57 230.36,252.82 235.27,249.8C240.18,246.78 244.52,247.72 250,246.4C255.48,245.08 261.71,243.57 268.13,241.87C274.56,240.17 281.73,238.47 288.53,236.2C295.33,233.93 301.57,231.36 308.93,228.27C316.3,225.17 327.82,218.94 332.73,217.61C337.64,216.29 336.78,218.56 338.4,220.33C340.02,222.11 343.24,225.24 342.48,228.27C341.72,231.29 335.87,235.44 333.87,238.47C331.86,241.49 330.66,243.38 330.47,246.4C330.28,249.42 331.6,253.39 332.73,256.6C333.87,259.81 335.94,262.27 337.27,265.67C338.59,269.07 340.1,273.6 340.67,277C341.23,280.4 342.93,284.63 340.67,286.07C338.4,287.5 331.22,285.42 327.07,285.61C322.91,285.8 319.89,285.99 315.73,287.2C311.58,288.41 305.91,290.98 302.13,292.87C298.36,294.76 295.52,296.08 293.07,298.53C290.61,300.99 289.29,304.84 287.4,307.6C285.51,310.36 283.24,314.32 281.73,315.08C280.22,315.84 279.16,313.95 278.33,312.13C277.5,310.32 278.07,305.98 276.75,304.2C275.42,302.42 273.72,302.05 270.4,301.48C267.08,300.91 261.33,301.1 256.8,300.8C252.27,300.5 247.54,300.23 243.2,299.67C238.86,299.1 234.51,297.48 230.73,297.4C226.96,297.32 223.74,298.46 220.53,299.21C217.32,299.97 214.87,301.29 211.47,301.93C208.07,302.58 203.91,302.69 200.13,303.07C196.36,303.44 190.69,304.01 188.8,304.2Z" fill="none" stroke="#f0f0f0" stroke-width="1.3" stroke-dasharray="3.6 2.3"/>
<rect x="279.9" y="324.5" width="60.7" height="3.2" fill="#ffffff"/>
<text x="310.3" y="333" font-size="3.2" fill="#8f8f8f" text-anchor="middle" stroke="#8f8f8f">11.00µm</text>
</g>
<g clip-path="url(#cp12)">
<rect x="345.1" y="180.5" width="155.5" height="155" fill="#020202"/>
<path d="M358.27,205.6C360.16,203.9 364.88,204.47 367.33,203.33C369.79,202.2 370.92,199.74 373,198.8C375.08,197.86 377.53,196.91 379.8,197.67C382.07,198.42 383.96,202.5 386.6,203.33C389.24,204.16 392.83,201.78 395.67,202.65C398.5,203.52 400.96,207.56 403.6,208.55C406.24,209.53 409.08,209.04 411.53,208.55C413.99,208.06 415.5,205.6 418.33,205.6C421.17,205.6 425.89,208.17 428.53,208.55C431.18,208.92 432.69,208.47 434.2,207.87C435.71,207.26 436.47,204.35 437.6,204.92C438.73,205.49 439.49,208.89 441,211.27C442.51,213.65 445.99,215.99 446.67,219.2C447.35,222.41 444.51,227.32 445.08,230.53C445.65,233.74 447.72,236.46 450.07,238.47C452.41,240.47 456.3,241.22 459.13,242.55C461.97,243.87 466.31,244.81 467.07,246.4C467.82,247.99 463.29,249.8 463.67,252.07C464.04,254.33 468.5,257.36 469.33,260C470.16,262.64 469.03,265.48 468.65,267.93C468.28,270.39 466.95,272.28 467.07,274.73C467.18,277.19 467.82,279.83 469.33,282.67C470.84,285.5 475.19,287.77 476.13,291.73C477.08,295.7 475.26,302.31 475,306.47C474.74,310.62 475.68,314.02 474.55,316.67C473.41,319.31 470.2,321.58 468.2,322.33C466.2,323.09 464.8,321.96 462.53,321.2C460.27,320.44 456.49,319.88 454.6,317.8C452.71,315.72 452.71,311.76 451.2,308.73C449.69,305.71 448.37,302.69 445.53,299.67C442.7,296.64 437.41,293.62 434.2,290.6C430.99,287.58 428.16,284.56 426.27,281.53C424.38,278.51 424.94,275.49 422.87,272.47C420.79,269.44 417.01,266.04 413.8,263.4C410.59,260.76 406.81,258.3 403.6,256.6C400.39,254.9 396.8,255.28 394.53,253.2C392.27,251.12 392.46,247.34 390,244.13C387.54,240.92 383.39,236.96 379.8,233.93C376.21,230.91 371.87,228.27 368.47,226C365.07,223.73 361.48,222.41 359.4,220.33C357.32,218.26 356.19,215.99 356,213.53C355.81,211.08 356.38,207.3 358.27,205.6Z" fill="#c8611a" opacity="0" filter="url(#hazeA)"/>
<g fill="#ff7a14" filter="url(#blurA)">
<circle cx="393.12" cy="206.9" r="0.3" opacity="0.13"/>
<circle cx="411.22" cy="236.04" r="0.34" opacity="0.05"/>
<circle cx="379.8" cy="225.04" r="0.34" opacity="0.05"/>
<circle cx="461.98" cy="265.75" r="0.32" opacity="0.06"/>
<circle cx="385.57" cy="203.03" r="0.31" opacity="0.05"/>
<circle cx="449.25" cy="248.69" r="0.41" opacity="0.03"/>
<circle cx="393.67" cy="219.67" r="0.39" opacity="0.03"/>
<circle cx="423.62" cy="260.65" r="0.38" opacity="0.07"/>
<circle cx="414.1" cy="218.09" r="0.34" opacity="0.07"/>
<circle cx="451.49" cy="264.21" r="0.43" opacity="0.05"/>
<circle cx="448.74" cy="251.29" r="0.33" opacity="0.08"/>
<circle cx="429.34" cy="244.81" r="0.33" opacity="0.14"/>
<circle cx="430.07" cy="267.04" r="0.3" opacity="0.11"/>
<circle cx="437.07" cy="253" r="0.31" opacity="0.15"/>
<circle cx="432.9" cy="246.02" r="0.44" opacity="0.05"/>
<circle cx="387.02" cy="225.95" r="0.3" opacity="0.06"/>
<circle cx="467.82" cy="288.59" r="0.32" opacity="0.04"/>
<circle cx="452.56" cy="300.14" r="0.31" opacity="0.04"/>
<circle cx="435.57" cy="227.79" r="0.41" opacity="0.08"/>
<circle cx="438.62" cy="283.28" r="0.41" opacity="0.12"/>
<circle cx="466.24" cy="300.56" r="0.31" opacity="0.1"/>
<circle cx="422.94" cy="269.25" r="0.3" opacity="0.03"/>
<circle cx="371.38" cy="209.93" r="0.41" opacity="0.14"/>
<circle cx="398.04" cy="254.4" r="0.35" opacity="0.09"/>
<circle cx="359.66" cy="211.86" r="0.38" opacity="0.04"/>
<circle cx="432.78" cy="267.35" r="0.33" opacity="0.07"/>
<circle cx="453.84" cy="248.17" r="0.39" opacity="0.08"/>
<circle cx="410.78" cy="220.47" r="0.3" opacity="0.03"/>
<circle cx="463.01" cy="267.62" r="0.33" opacity="0.07"/>
<circle cx="408.07" cy="259.01" r="0.3" opacity="0.16"/>
<circle cx="376.48" cy="221.98" r="0.32" opacity="0.12"/>
<circle cx="454.38" cy="266.42" r="0.32" opacity="0.03"/>
<circle cx="388.65" cy="208.99" r="0.3" opacity="0.11"/>
<circle cx="416.55" cy="243.41" r="0.38" opacity="0.04"/>
<circle cx="379.83" cy="225.17" r="0.44" opacity="0.13"/>
<circle cx="411.12" cy="225.96" r="0.35" opacity="0.03"/>
<circle cx="381.24" cy="199.03" r="0.32" opacity="0.03"/>
<circle cx="392.32" cy="212.76" r="0.33" opacity="0.04"/>
<circle cx="467.29" cy="297" r="0.32" opacity="0.07"/>
<circle cx="366.18" cy="205.32" r="0.4" opacity="0.03"/>
<circle cx="400.2" cy="227.21" r="0.31" opacity="0.03"/>
<circle cx="463.41" cy="261.24" r="0.43" opacity="0.1"/>
<circle cx="463.73" cy="262.84" r="0.3" opacity="0.03"/>
<circle cx="456.94" cy="317.42" r="0.33" opacity="0.13"/>
<circle cx="447.2" cy="294.74" r="0.37" opacity="0.03"/>
<circle cx="398.44" cy="247.61" r="0.31" opacity="0.03"/>
<circle cx="460.68" cy="254.95" r="0.31" opacity="0.09"/>
<circle cx="462.77" cy="299.49" r="0.31" opacity="0.03"/>
<circle cx="453.75" cy="291.88" r="0.3" opacity="0.04"/>
<circle cx="451.37" cy="282.97" r="0.33" opacity="0.03"/>
<circle cx="460.4" cy="283.86" r="0.35" opacity="0.07"/>
<circle cx="444.74" cy="293.6" r="0.3" opacity="0.1"/>
<circle cx="466.02" cy="273.46" r="0.3" opacity="0.04"/>
<circle cx="384.01" cy="207.9" r="0.34" opacity="0.09"/>
<circle cx="450.41" cy="288.13" r="0.3" opacity="0.16"/>
<circle cx="431.72" cy="278.11" r="0.32" opacity="0.09"/>
<circle cx="410.25" cy="236.71" r="0.31" opacity="0.05"/>
<circle cx="467.4" cy="299.05" r="0.4" opacity="0.03"/>
<circle cx="383.15" cy="231.96" r="0.37" opacity="0.16"/>
<circle cx="392.06" cy="219.87" r="0.4" opacity="0.1"/>
<circle cx="467.87" cy="257.07" r="0.32" opacity="0.07"/>
<circle cx="412.92" cy="298.6" r="0.53" opacity="0.1"/>
<circle cx="355.76" cy="266.06" r="0.36" opacity="0.03"/>
<circle cx="389.75" cy="181.58" r="0.45" opacity="0.03"/>
<circle cx="372.64" cy="314.59" r="0.32" opacity="0.08"/>
<circle cx="472.66" cy="240.83" r="0.33" opacity="0.06"/>
<circle cx="350.49" cy="290.61" r="0.48" opacity="0.13"/>
<circle cx="394.02" cy="287.41" r="0.56" opacity="0.11"/>
<circle cx="416.63" cy="328.5" r="0.39" opacity="0.06"/>
<circle cx="405.77" cy="258.52" r="0.49" opacity="0.06"/>
<circle cx="398.7" cy="330.91" r="0.3" opacity="0.03"/>
<circle cx="399.11" cy="332.23" r="0.37" opacity="0.05"/>
<circle cx="472.6" cy="216.34" r="0.49" opacity="0.03"/>
<circle cx="437.08" cy="326.06" r="0.41" opacity="0.03"/>
<circle cx="378.09" cy="305.25" r="0.32" opacity="0.12"/>
<circle cx="411.63" cy="196" r="0.46" opacity="0.09"/>
<circle cx="448.93" cy="182.08" r="0.34" opacity="0.05"/>
<circle cx="486.78" cy="195.14" r="0.36" opacity="0.04"/>
<circle cx="394.46" cy="255.44" r="0.39" opacity="0.03"/>
<circle cx="451.1" cy="216.7" r="0.57" opacity="0.03"/>
<circle cx="390.72" cy="292.99" r="0.43" opacity="0.04"/>
<circle cx="389.05" cy="291.19" r="0.34" opacity="0.1"/>
<circle cx="485.73" cy="203.97" r="0.44" opacity="0.03"/>
<circle cx="432.7" cy="319.2" r="0.42" opacity="0.11"/>
<circle cx="377.33" cy="274.76" r="0.3" opacity="0.03"/>
<circle cx="359.08" cy="287.33" r="0.31" opacity="0.04"/>
<circle cx="477.82" cy="261.27" r="0.37" opacity="0.04"/>
<circle cx="425.13" cy="300.82" r="0.34" opacity="0.03"/>
<circle cx="373.56" cy="289.06" r="0.37" opacity="0.12"/>
<circle cx="379.27" cy="291.06" r="0.35" opacity="0.04"/>
<circle cx="456.22" cy="230.1" r="0.31" opacity="0.05"/>
<circle cx="411" cy="193.57" r="0.59" opacity="0.05"/>
<circle cx="401.29" cy="200.2" r="0.31" opacity="0.03"/>
<circle cx="356.15" cy="265.46" r="0.43" opacity="0.11"/>
<circle cx="385.62" cy="305.08" r="0.47" opacity="0.03"/>
<circle cx="479.99" cy="296.16" r="0.3" opacity="0.03"/>
<circle cx="370.2" cy="277.71" r="0.36" opacity="0.13"/>
<circle cx="474.81" cy="224.73" r="0.32" opacity="0.06"/>
<circle cx="407.95" cy="303.6" r="0.31" opacity="0.11"/>
<circle cx="494.93" cy="234.48" r="0.48" opacity="0.13"/>
<circle cx="483.31" cy="332.8" r="0.36" opacity="0.1"/>
<circle cx="474.31" cy="226.64" r="0.36" opacity="0.12"/>
<circle cx="466.18" cy="227.79" r="0.48" opacity="0.03"/>
<circle cx="406.05" cy="269.31" r="0.33" opacity="0.03"/>
<circle cx="447.66" cy="206.26" r="0.3" opacity="0.03"/>
<circle cx="429.35" cy="186.3" r="0.31" opacity="0.06"/>
<circle cx="403.34" cy="286.62" r="0.31" opacity="0.06"/>
<circle cx="485.89" cy="324.92" r="0.58" opacity="0.04"/>
<circle cx="348.88" cy="288.49" r="0.54" opacity="0.04"/>
<circle cx="391.13" cy="305.35" r="0.39" opacity="0.07"/>
<circle cx="472.09" cy="266.71" r="0.46" opacity="0.03"/>
<circle cx="419.71" cy="320.57" r="0.37" opacity="0.08"/>
<circle cx="427.37" cy="324.89" r="0.3" opacity="0.04"/>
<circle cx="370.89" cy="315.35" r="0.59" opacity="0.03"/>
<circle cx="384.68" cy="308.62" r="0.36" opacity="0.06"/>
<circle cx="350.25" cy="186.59" r="0.58" opacity="0.04"/>
<circle cx="399.44" cy="332.12" r="0.33" opacity="0.03"/>
<circle cx="479.83" cy="242.38" r="0.43" opacity="0.04"/>
<circle cx="412.82" cy="310.8" r="0.32" opacity="0.1"/>
<circle cx="361.89" cy="200.46" r="0.5" opacity="0.03"/>
<circle cx="348.65" cy="270.91" r="0.45" opacity="0.1"/>
<circle cx="400.92" cy="324.05" r="0.32" opacity="0.05"/>
<circle cx="362.36" cy="269.69" r="0.44" opacity="0.06"/>
<circle cx="403.13" cy="187.44" r="0.42" opacity="0.03"/>
<circle cx="478.66" cy="282.84" r="0.47" opacity="0.04"/>
<circle cx="490.8" cy="271.28" r="0.39" opacity="0.04"/>
<circle cx="475.74" cy="278.42" r="0.39" opacity="0.07"/>
<circle cx="466.79" cy="333.7" r="0.31" opacity="0.13"/>
<circle cx="389.05" cy="247.83" r="0.46" opacity="0.1"/>
<circle cx="346.9" cy="324.89" r="0.34" opacity="0.12"/>
<circle cx="442.18" cy="197.52" r="0.31" opacity="0.04"/>
<circle cx="375.58" cy="196.7" r="0.48" opacity="0.06"/>
<circle cx="368.7" cy="260.39" r="0.44" opacity="0.11"/>
<circle cx="350.95" cy="271.87" r="0.38" opacity="0.14"/>
<circle cx="383.45" cy="188.82" r="0.38" opacity="0.08"/>
<circle cx="374.3" cy="311.34" r="0.4" opacity="0.04"/>
<circle cx="348.67" cy="309.26" r="0.48" opacity="0.04"/>
<circle cx="398.38" cy="324.65" r="0.32" opacity="0.08"/>
<circle cx="487.01" cy="227.62" r="0.48" opacity="0.04"/>
<circle cx="496.8" cy="202.87" r="0.31" opacity="0.08"/>
<circle cx="477.82" cy="205.2" r="0.32" opacity="0.07"/>
<circle cx="381.47" cy="250.54" r="0.31" opacity="0.07"/>
<circle cx="446.47" cy="188.02" r="0.49" opacity="0.13"/>
<circle cx="391.65" cy="302.35" r="0.33" opacity="0.12"/>
<circle cx="493.11" cy="289.93" r="0.35" opacity="0.04"/>
<circle cx="373.7" cy="317.11" r="0.56" opacity="0.08"/>
<circle cx="487.28" cy="232.32" r="0.3" opacity="0.05"/>
<circle cx="499.85" cy="272.65" r="0.51" opacity="0.08"/>
<circle cx="382.5" cy="240.98" r="0.58" opacity="0.12"/>
<circle cx="395.28" cy="280.27" r="0.54" opacity="0.03"/>
<circle cx="496.19" cy="207.29" r="0.3" opacity="0.03"/>
<circle cx="407.79" cy="294.98" r="0.32" opacity="0.13"/>
<circle cx="463.8" cy="202.04" r="0.48" opacity="0.03"/>
<circle cx="455.4" cy="188.22" r="0.49" opacity="0.04"/>
<circle cx="451.72" cy="191.32" r="0.37" opacity="0.04"/>
<circle cx="367.77" cy="245.95" r="0.58" opacity="0.03"/>
<circle cx="494.03" cy="233.35" r="0.49" opacity="0.1"/>
<circle cx="495.35" cy="249.36" r="0.5" opacity="0.05"/>
<circle cx="395.3" cy="334.82" r="0.31" opacity="0.13"/>
<circle cx="460.3" cy="207.7" r="0.54" opacity="0.03"/>
<circle cx="456.54" cy="329.54" r="0.47" opacity="0.12"/>
<circle cx="485.56" cy="324.31" r="0.34" opacity="0.03"/>
<circle cx="403.84" cy="196.65" r="0.55" opacity="0.05"/>
<circle cx="496.44" cy="197.41" r="0.36" opacity="0.07"/>
<circle cx="402.43" cy="290.44" r="0.32" opacity="0.03"/>
<circle cx="482.64" cy="263.78" r="0.33" opacity="0.1"/>
<circle cx="361.07" cy="227.5" r="0.37" opacity="0.11"/>
<circle cx="442.12" cy="324.89" r="0.34" opacity="0.03"/>
<circle cx="428.51" cy="201.35" r="0.32" opacity="0.08"/>
<circle cx="345.35" cy="331.12" r="0.51" opacity="0.07"/>
<circle cx="495.14" cy="333.95" r="0.57" opacity="0.07"/>
<circle cx="446.93" cy="323.98" r="0.32" opacity="0.06"/>
<circle cx="488.18" cy="252.11" r="0.35" opacity="0.06"/>
<circle cx="345.53" cy="185.02" r="0.3" opacity="0.11"/>
<circle cx="479.44" cy="297.74" r="0.32" opacity="0.07"/>
<circle cx="368.39" cy="263.96" r="0.38" opacity="0.08"/>
<circle cx="363.91" cy="324.08" r="0.4" opacity="0.14"/>
<circle cx="359.42" cy="293.04" r="0.5" opacity="0.14"/>
<circle cx="483.38" cy="288.83" r="0.3" opacity="0.07"/>
<circle cx="391.25" cy="304.34" r="0.3" opacity="0.09"/>
<circle cx="407.18" cy="205.05" r="0.32" opacity="0.1"/>
<circle cx="491.77" cy="330.08" r="0.3" opacity="0.12"/>
<circle cx="351.11" cy="291.56" r="0.39" opacity="0.03"/>
<circle cx="427.94" cy="192.91" r="0.57" opacity="0.11"/>
<circle cx="458.69" cy="334.31" r="0.31" opacity="0.05"/>
<circle cx="493.01" cy="320.42" r="0.42" opacity="0.03"/>
<circle cx="383.3" cy="329.59" r="0.31" opacity="0.03"/>
<circle cx="497.26" cy="200.44" r="0.3" opacity="0.05"/>
<circle cx="479.55" cy="322.42" r="0.3" opacity="0.1"/>
<circle cx="379.1" cy="274.93" r="0.5" opacity="0.03"/>
<circle cx="429.09" cy="324.73" r="0.35" opacity="0.07"/>
<circle cx="463.85" cy="236.96" r="0.3" opacity="0.08"/>
<circle cx="348.55" cy="324.19" r="0.37" opacity="0.06"/>
<circle cx="367.15" cy="263.56" r="0.36" opacity="0.08"/>
<circle cx="359.47" cy="224.97" r="0.39" opacity="0.09"/>
<circle cx="447.61" cy="184.63" r="0.57" opacity="0.05"/>
<circle cx="443.74" cy="332.99" r="0.51" opacity="0.04"/>
<circle cx="384.71" cy="259.21" r="0.38" opacity="0.03"/>
<circle cx="439.62" cy="311" r="0.31" opacity="0.07"/>
<circle cx="477.8" cy="201.79" r="0.48" opacity="0.03"/>
<circle cx="378.86" cy="213.55" r="0.44" opacity="0.15"/>
<circle cx="373.71" cy="209.06" r="0.46" opacity="0.05"/>
<circle cx="372.16" cy="202.97" r="0.49" opacity="0.07"/>
<circle cx="391.59" cy="209.28" r="0.34" opacity="0.05"/>
<circle cx="398.84" cy="210.3" r="0.4" opacity="0.05"/>
<circle cx="389.41" cy="208.99" r="0.38" opacity="0.05"/>
<circle cx="370.81" cy="202.48" r="0.43" opacity="0.05"/>
<circle cx="391.18" cy="205.42" r="0.3" opacity="0.1"/>
<circle cx="367.67" cy="215.26" r="0.41" opacity="0.05"/>
<circle cx="389.06" cy="216.73" r="0.32" opacity="0.12"/>
<circle cx="375.95" cy="210.5" r="0.35" opacity="0.13"/>
<circle cx="375.38" cy="210.56" r="0.35" opacity="0.19"/>
<circle cx="393.39" cy="202.98" r="0.53" opacity="0.08"/>
<circle cx="385.92" cy="204.54" r="0.3" opacity="0.1"/>
<circle cx="455.05" cy="229.69" r="0.99" opacity="0.06"/>
<circle cx="444.98" cy="312.54" r="0.99" opacity="0.07"/>
<circle cx="458.64" cy="202.68" r="0.75" opacity="0.05"/>
<circle cx="465.81" cy="263.35" r="0.53" opacity="0.17"/>
<circle cx="421.8" cy="312.87" r="0.96" opacity="0.09"/>
<circle cx="413.31" cy="285.86" r="0.75" opacity="0.05"/>
<circle cx="345.3" cy="298.92" r="0.96" opacity="0.12"/>
<circle cx="427.91" cy="310.5" r="0.67" opacity="0.06"/>
<circle cx="467.21" cy="317.59" r="0.78" opacity="0.09"/>
<circle cx="440.7" cy="240.78" r="0.71" opacity="0.05"/>
<circle cx="436.48" cy="305.2" r="0.68" opacity="0.11"/>
<circle cx="458.86" cy="287.03" r="0.59" opacity="0.08"/>
<circle cx="438.81" cy="317.26" r="0.51" opacity="0.05"/>
<circle cx="375.03" cy="303.3" r="0.58" opacity="0.09"/>
<circle cx="392.12" cy="287.97" r="0.71" opacity="0.06"/>
<circle cx="427.72" cy="318.75" r="0.93" opacity="0.09"/>
<circle cx="456.45" cy="323.65" r="0.85" opacity="0.1"/>
<circle cx="464.85" cy="198.09" r="0.79" opacity="0.06"/>
<circle cx="422.75" cy="193.74" r="0.64" opacity="0.08"/>
<circle cx="471.64" cy="332.34" r="0.99" opacity="0.1"/>
<circle cx="471.01" cy="241" r="0.56" opacity="0.06"/>
<circle cx="450.27" cy="267.72" r="0.56" opacity="0.06"/>
<circle cx="451.84" cy="326.3" r="0.72" opacity="0.08"/>
<circle cx="484.4" cy="295.25" r="0.84" opacity="0.09"/>
<circle cx="472.17" cy="230.95" r="0.53" opacity="0.14"/>
<circle cx="450.7" cy="195.97" r="0.97" opacity="0.08"/>
<circle cx="416.22" cy="192.71" r="0.57" opacity="0.13"/>
<circle cx="455.03" cy="268.88" r="0.77" opacity="0.07"/>
<circle cx="467.7" cy="332.11" r="0.54" opacity="0.06"/>
<circle cx="465.23" cy="287.4" r="0.89" opacity="0.05"/>
<circle cx="408.7" cy="253.47" r="0.51" opacity="0.09"/>
<circle cx="370.74" cy="257.92" r="0.88" opacity="0.05"/>
<circle cx="490.82" cy="296.36" r="0.68" opacity="0.05"/>
<circle cx="451.97" cy="247.33" r="1" opacity="0.08"/>
<circle cx="440.52" cy="232.97" r="0.57" opacity="0.07"/>
<circle cx="379.26" cy="258.88" r="0.62" opacity="0.12"/>
<circle cx="478.41" cy="285.5" r="0.64" opacity="0.05"/>
<circle cx="461.9" cy="242.53" r="0.99" opacity="0.05"/>
<circle cx="440.79" cy="313.42" r="0.65" opacity="0.07"/>
<circle cx="385.46" cy="182.97" r="0.98" opacity="0.07"/>
<circle cx="473.6" cy="181.2" r="0.95" opacity="0.08"/>
<circle cx="474.35" cy="227.78" r="0.62" opacity="0.08"/>
<circle cx="408.97" cy="231.93" r="0.59" opacity="0.05"/>
<circle cx="348.18" cy="203.08" r="0.6" opacity="0.14"/>
<circle cx="448.45" cy="267.45" r="0.54" opacity="0.06"/>
<circle cx="493" cy="319.16" r="0.95" opacity="0.07"/>
<circle cx="446.13" cy="219.31" r="0.82" opacity="0.09"/>
<circle cx="436.42" cy="188.77" r="0.62" opacity="0.06"/>
<circle cx="425.68" cy="228.68" r="0.69" opacity="0.08"/>
<circle cx="432.72" cy="236.03" r="0.67" opacity="0.09"/>
<circle cx="442.33" cy="295.24" r="0.81" opacity="0.05"/>
<circle cx="400.28" cy="279.57" r="0.86" opacity="0.16"/>
<circle cx="458.8" cy="273.26" r="0.81" opacity="0.06"/>
<circle cx="434.47" cy="237.18" r="0.67" opacity="0.06"/>
<circle cx="493.8" cy="330.48" r="0.65" opacity="0.08"/>
<circle cx="355.66" cy="308.9" r="0.63" opacity="0.14"/>
<circle cx="381.46" cy="260.06" r="0.85" opacity="0.1"/>
<circle cx="486.05" cy="294.31" r="0.74" opacity="0.07"/>
<circle cx="406.72" cy="250.96" r="0.91" opacity="0.05"/>
<circle cx="392.33" cy="288.8" r="0.55" opacity="0.13"/>
<circle cx="399.97" cy="317.5" r="0.62" opacity="0.13"/>
<circle cx="478.56" cy="231.04" r="0.78" opacity="0.13"/>
<circle cx="491.61" cy="269.39" r="0.95" opacity="0.15"/>
<circle cx="496.02" cy="212.3" r="0.73" opacity="0.1"/>
<circle cx="440.14" cy="196.36" r="0.79" opacity="0.16"/>
<circle cx="429.15" cy="208.53" r="0.65" opacity="0.16"/>
<circle cx="410.33" cy="193.4" r="0.64" opacity="0.09"/>
<circle cx="370.65" cy="256.64" r="0.74" opacity="0.11"/>
<circle cx="388.24" cy="209.72" r="0.73" opacity="0.05"/>
<circle cx="432.16" cy="241.49" r="0.93" opacity="0.05"/>
<circle cx="427.42" cy="223.66" r="0.57" opacity="0.05"/>
<circle cx="432.07" cy="260.99" r="0.81" opacity="0.11"/>
<circle cx="356.87" cy="330.89" r="0.97" opacity="0.06"/>
<circle cx="371.41" cy="303.62" r="0.54" opacity="0.1"/>
<circle cx="393.19" cy="330.04" r="0.57" opacity="0.08"/>
<circle cx="364.73" cy="200.41" r="0.86" opacity="0.13"/>
<circle cx="369.25" cy="334.44" r="0.57" opacity="0.06"/>
<circle cx="383.76" cy="219.9" r="0.8" opacity="0.05"/>
<circle cx="470.42" cy="306.95" r="0.98" opacity="0.1"/>
<circle cx="365.71" cy="225.22" r="0.57" opacity="0.16"/>
<circle cx="439.22" cy="291.38" r="0.88" opacity="0.12"/>
<circle cx="495.67" cy="208.9" r="0.68" opacity="0.08"/>
<circle cx="440.08" cy="258.07" r="0.63" opacity="0.06"/>
<circle cx="449.88" cy="192.31" r="0.91" opacity="0.05"/>
<circle cx="411.15" cy="315.9" r="0.59" opacity="0.08"/>
<circle cx="377.53" cy="198.01" r="0.81" opacity="0.16"/>
<circle cx="408.97" cy="322.59" r="0.66" opacity="0.11"/>
<circle cx="480.19" cy="208.04" r="0.87" opacity="0.06"/>
<circle cx="406.73" cy="202.76" r="0.95" opacity="0.06"/>
<circle cx="407.16" cy="311.63" r="0.7" opacity="0.09"/>
<circle cx="436.48" cy="302.71" r="0.72" opacity="0.15"/>
<circle cx="380.66" cy="334.45" r="0.51" opacity="0.14"/>
<circle cx="425.68" cy="316.3" r="0.58" opacity="0.05"/>
<circle cx="464.97" cy="244.61" r="0.64" opacity="0.14"/>
<circle cx="438.25" cy="212.89" r="0.79" opacity="0.1"/>
<circle cx="352.66" cy="261.55" r="0.8" opacity="0.05"/>
<circle cx="484.7" cy="238.67" r="0.78" opacity="0.06"/>
<circle cx="412.35" cy="332.36" r="0.69" opacity="0.08"/>
<circle cx="384.95" cy="243.54" r="0.64" opacity="0.17"/>
<circle cx="490.6" cy="202.9" r="0.89" opacity="0.15"/>
<circle cx="449.18" cy="326.21" r="0.64" opacity="0.16"/>
<circle cx="466.7" cy="286.01" r="0.73" opacity="0.12"/>
<circle cx="492.09" cy="208.01" r="0.51" opacity="0.1"/>
<circle cx="355.21" cy="319.77" r="0.93" opacity="0.18"/>
<circle cx="365.7" cy="247.06" r="0.53" opacity="0.11"/>
<circle cx="363.04" cy="197.61" r="0.6" opacity="0.05"/>
<circle cx="480.58" cy="323.17" r="0.85" opacity="0.11"/>
<circle cx="412.33" cy="212.01" r="0.6" opacity="0.05"/>
<circle cx="359.1" cy="224.25" r="0.78" opacity="0.05"/>
<circle cx="432.58" cy="257.83" r="0.65" opacity="0.05"/>
<circle cx="496.8" cy="218" r="1.3" opacity="0.55"/>
<circle cx="498.6" cy="220.5" r="1" opacity="0.45"/>
</g>
<path d="M358.27,205.6C360.16,203.9 364.88,204.47 367.33,203.33C369.79,202.2 370.92,199.74 373,198.8C375.08,197.86 377.53,196.91 379.8,197.67C382.07,198.42 383.96,202.5 386.6,203.33C389.24,204.16 392.83,201.78 395.67,202.65C398.5,203.52 400.96,207.56 403.6,208.55C406.24,209.53 409.08,209.04 411.53,208.55C413.99,208.06 415.5,205.6 418.33,205.6C421.17,205.6 425.89,208.17 428.53,208.55C431.18,208.92 432.69,208.47 434.2,207.87C435.71,207.26 436.47,204.35 437.6,204.92C438.73,205.49 439.49,208.89 441,211.27C442.51,213.65 445.99,215.99 446.67,219.2C447.35,222.41 444.51,227.32 445.08,230.53C445.65,233.74 447.72,236.46 450.07,238.47C452.41,240.47 456.3,241.22 459.13,242.55C461.97,243.87 466.31,244.81 467.07,246.4C467.82,247.99 463.29,249.8 463.67,252.07C464.04,254.33 468.5,257.36 469.33,260C470.16,262.64 469.03,265.48 468.65,267.93C468.28,270.39 466.95,272.28 467.07,274.73C467.18,277.19 467.82,279.83 469.33,282.67C470.84,285.5 475.19,287.77 476.13,291.73C477.08,295.7 475.26,302.31 475,306.47C474.74,310.62 475.68,314.02 474.55,316.67C473.41,319.31 470.2,321.58 468.2,322.33C466.2,323.09 464.8,321.96 462.53,321.2C460.27,320.44 456.49,319.88 454.6,317.8C452.71,315.72 452.71,311.76 451.2,308.73C449.69,305.71 448.37,302.69 445.53,299.67C442.7,296.64 437.41,293.62 434.2,290.6C430.99,287.58 428.16,284.56 426.27,281.53C424.38,278.51 424.94,275.49 422.87,272.47C420.79,269.44 417.01,266.04 413.8,263.4C410.59,260.76 406.81,258.3 403.6,256.6C400.39,254.9 396.8,255.28 394.53,253.2C392.27,251.12 392.46,247.34 390,244.13C387.54,240.92 383.39,236.96 379.8,233.93C376.21,230.91 371.87,228.27 368.47,226C365.07,223.73 361.48,222.41 359.4,220.33C357.32,218.26 356.19,215.99 356,213.53C355.81,211.08 356.38,207.3 358.27,205.6Z" fill="none" stroke="#f0f0f0" stroke-width="1.3" stroke-dasharray="3.6 2.3"/>
<rect x="437.2" y="324.5" width="60.7" height="3.2" fill="#ffffff"/>
<text x="467.6" y="333" font-size="3.2" fill="#8f8f8f" text-anchor="middle" stroke="#8f8f8f">11.00µm</text>
</g>
<text x="66.7" y="20.2" font-size="16" fill="#1a1a1a" textLength="77.4" lengthAdjust="spacingAndGlyphs" stroke="#1a1a1a"><tspan fill="#1f9e4a" stroke="#1f9e4a">GFP</tspan> alone</text>
<text x="216.2" y="20.2" font-size="16" fill="#1a1a1a" textLength="101.6" lengthAdjust="spacingAndGlyphs" stroke="#1a1a1a">SR-B1 + <tspan fill="#1f9e4a" stroke="#1f9e4a">GFP</tspan></text>
<text x="383.3" y="20.2" font-size="16" fill="#1f9e4a" textLength="69.8" lengthAdjust="spacingAndGlyphs" stroke="#1f9e4a">GFP-Alk1</text>
<text transform="translate(25.4,142.4) rotate(-90)" font-size="16" fill="#e6261f" stroke="#e6261f">DiI-rHDL<tspan font-size="9.5" dy="-5.8">WT</tspan></text>
<text transform="translate(26.9,288.0) rotate(-90)" font-size="16" fill="#e6261f" stroke="#e6261f">DiI-rHDL<tspan font-size="9.5" dy="-5.4">Mil</tspan></text>
<text x="0.6" y="21.1" font-size="28.4" font-weight="bold" fill="#000" stroke="#000">A</text>
</g>
<g id="panelB">
<text x="517.4" y="21.1" font-size="27.2" font-weight="bold" fill="#000" stroke="#000">B</text>
<circle cx="594.3" cy="32.8" r="2.4" fill="#62b646"/>
<rect x="591.8" y="49.8" width="4.9" height="4.9" fill="#e21b23"/>
<path d="M594.3,69.3 L596.9,73.9 L591.7,73.9 Z" fill="#2f3ea6"/>
<text x="613.4" y="38.4" font-size="15" fill="#1a1a1a" textLength="75.8" lengthAdjust="spacingAndGlyphs" stroke="#1a1a1a"><tspan fill="#62b646" stroke="#62b646">GFP</tspan> alone</text>
<text x="613.4" y="57.1" font-size="15" fill="#1a1a1a" textLength="98.2" lengthAdjust="spacingAndGlyphs" stroke="#1a1a1a">SR-B1 + <tspan fill="#62b646" stroke="#62b646">GFP</tspan></text>
<text x="613.4" y="76.2" font-size="15" fill="#62b646" textLength="76.2" lengthAdjust="spacingAndGlyphs" stroke="#62b646">GFP - Alk1</text>
<g stroke="#000" stroke-width="1.7" fill="none" stroke-linecap="butt">
<path d="M568,95 V298.05"/>
<path d="M563.2,297.2 H750"/>
<path d="M563.2,238 H568"/>
<path d="M563.2,178.8 H568"/>
<path d="M563.2,119.6 H568"/>
<path d="M612.5,297.2 V303.6"/>
<path d="M702.5,297.2 V303.6"/>
</g>
<text x="561.9" y="303.5" font-size="17.4" fill="#1a1a1a" text-anchor="end" stroke="#1a1a1a">0</text>
<text x="561.9" y="244.3" font-size="17.4" fill="#1a1a1a" text-anchor="end" stroke="#1a1a1a">5</text>
<text x="561.9" y="185.1" font-size="17.4" fill="#1a1a1a" text-anchor="end" stroke="#1a1a1a">10</text>
<text x="561.9" y="125.9" font-size="17.4" fill="#1a1a1a" text-anchor="end" stroke="#1a1a1a">15</text>
<text transform="translate(537.2,295.3) rotate(-90)" font-size="15" fill="#1a1a1a" textLength="203" lengthAdjust="spacingAndGlyphs" stroke="#1a1a1a">Uptake relative to GFP control</text>
<text x="584.6" y="321.3" font-size="16" fill="#1a1a1a" stroke="#1a1a1a">rHDL<tspan font-size="12.3" dy="-8.1">WT</tspan></text>
<text x="676.3" y="321.3" font-size="16" fill="#1a1a1a" stroke="#1a1a1a">rHDL<tspan font-size="12.3" dy="-8.1">Mil</tspan></text>
<circle cx="583.6" cy="285.6" r="2.5" fill="#62b646"/>
<circle cx="588.6" cy="285.6" r="2.5" fill="#62b646"/>
<circle cx="593.7" cy="285.6" r="2.5" fill="#62b646"/>
<g stroke="#000" stroke-width="1.3" fill="none"><path d="M580.8,285.6 H596.4"/></g>
<rect x="610.1" y="143.2" width="5.2" height="5.2" fill="#e21b23"/>
<rect x="610.1" y="194.4" width="5.2" height="5.2" fill="#e21b23"/>
<rect x="610.1" y="203.4" width="5.2" height="5.2" fill="#e21b23"/>
<g stroke="#000" stroke-width="1.65" fill="none"><path d="M604.5,183.1 H620.9"/><path d="M612.7,164.2 V202 M608.5,164.2 H616.9 M608.5,202 H616.9"/></g>
<path d="M631.7,285.7 L634.4,290.56 L629,290.56 Z" fill="#2f3ea6"/>
<path d="M637.8,282.8 L640.5,287.66 L635.1,287.66 Z" fill="#2f3ea6"/>
<path d="M642.8,283.8 L645.5,288.66 L640.1,288.66 Z" fill="#2f3ea6"/>
<g stroke="#000" stroke-width="1.5" fill="none"><path d="M629.6,286.6 H646"/></g>
<circle cx="673.3" cy="285.6" r="2.5" fill="#62b646"/>
<circle cx="678.3" cy="285.6" r="2.5" fill="#62b646"/>
<circle cx="683.4" cy="285.6" r="2.5" fill="#62b646"/>
<g stroke="#000" stroke-width="1.3" fill="none"><path d="M670.5,285.6 H686.1"/></g>
<rect x="700" y="104.2" width="5.2" height="5.2" fill="#e21b23"/>
<rect x="700" y="113.4" width="5.2" height="5.2" fill="#e21b23"/>
<rect x="700" y="142.2" width="5.2" height="5.2" fill="#e21b23"/>
<g stroke="#000" stroke-width="1.65" fill="none"><path d="M694.3,122.9 H710.9"/><path d="M702.6,111.2 V134.2 M698.3,111.2 H706.9 M698.3,134.2 H706.9"/></g>
<path d="M721.6,289.2 L724.3,294.06 L718.9,294.06 Z" fill="#2f3ea6"/>
<path d="M727.2,282.1 L729.9,286.96 L724.5,286.96 Z" fill="#2f3ea6"/>
<path d="M733,287.2 L735.7,292.06 L730.3,292.06 Z" fill="#2f3ea6"/>
<g stroke="#000" stroke-width="1.2" fill="none"><path d="M719.3,288.6 H735.5"/><path d="M727.4,286.5 V290.8 M723.2,286.5 H731.6 M723.2,290.8 H731.6"/></g>
</g>
<g id="panelC">
<text x="108.4" y="366.1" font-size="27.2" font-weight="bold" fill="#000" stroke="#000">C</text>
<text x="129.2" y="383.6" font-size="14" fill="#222222" textLength="70.4" lengthAdjust="spacingAndGlyphs" stroke="#222222">ApoA1 (µg)</text>
<text x="152.2" y="403.2" font-size="14" fill="#222222" textLength="20.6" lengthAdjust="spacingAndGlyphs" stroke="#222222">WT</text>
<text x="153.9" y="422.9" font-size="14" fill="#222222" textLength="17.2" lengthAdjust="spacingAndGlyphs" stroke="#222222">Mil</text>
<text x="148.5" y="454.6" font-size="14" fill="#222222" textLength="23.6" lengthAdjust="spacingAndGlyphs" stroke="#222222">kDa</text>
<text x="240.3" y="382.3" font-size="14" fill="#222222" text-anchor="middle" stroke="#222222">Input</text>
<text x="357.2" y="382.3" font-size="14" fill="#222222" text-anchor="middle" textLength="71.6" lengthAdjust="spacingAndGlyphs" stroke="#222222">SR-B1 GFP</text>
<text x="448.6" y="382.6" font-size="13.8" fill="#222222" textLength="70.4" lengthAdjust="spacingAndGlyphs" stroke="#222222">GFP control</text>
<g stroke="#333" stroke-width="1.1">
<path d="M202.2,388.6 H283.6 M299,388.6 H416 M429.3,388.6 H541.3"/>
</g>
<text x="206.3" y="404.8" font-size="13" fill="#222222" text-anchor="middle" stroke="#222222">10</text>
<text x="231.6" y="404.8" font-size="13" fill="#222222" text-anchor="middle" stroke="#222222">-</text>
<text x="256.6" y="404.8" font-size="13" fill="#222222" text-anchor="middle" stroke="#222222">20</text>
<text x="278" y="404.8" font-size="13" fill="#222222" text-anchor="middle" stroke="#222222">-</text>
<text x="304.2" y="404.8" font-size="13" fill="#222222" text-anchor="middle" stroke="#222222">-</text>
<text x="329.4" y="404.8" font-size="13" fill="#222222" text-anchor="middle" stroke="#222222">10</text>
<text x="354.8" y="404.8" font-size="13" fill="#222222" text-anchor="middle" stroke="#222222">-</text>
<text x="383.9" y="404.8" font-size="13" fill="#222222" text-anchor="middle" stroke="#222222">20</text>
<text x="409.6" y="404.8" font-size="13" fill="#222222" text-anchor="middle" stroke="#222222">-</text>
<text x="433.2" y="404.8" font-size="13" fill="#222222" text-anchor="middle" stroke="#222222">-</text>
<text x="455.4" y="404.8" font-size="13" fill="#222222" text-anchor="middle" stroke="#222222">10</text>
<text x="481.1" y="404.8" font-size="13" fill="#222222" text-anchor="middle" stroke="#222222">-</text>
<text x="509.2" y="404.8" font-size="13" fill="#222222" text-anchor="middle" stroke="#222222">20</text>
<text x="535.3" y="404.8" font-size="13" fill="#222222" text-anchor="middle" stroke="#222222">-</text>
<text x="207.4" y="423.4" font-size="13" fill="#222222" text-anchor="middle" stroke="#222222">-</text>
<text x="232.8" y="423.4" font-size="13" fill="#222222" text-anchor="middle" stroke="#222222">10</text>
<text x="258" y="423.4" font-size="13" fill="#222222" text-anchor="middle" stroke="#222222">-</text>
<text x="279.4" y="423.4" font-size="13" fill="#222222" text-anchor="middle" stroke="#222222">20</text>
<text x="304.6" y="423.4" font-size="13" fill="#222222" text-anchor="middle" stroke="#222222">-</text>
<text x="328.8" y="423.4" font-size="13" fill="#222222" text-anchor="middle" stroke="#222222">-</text>
<text x="354.4" y="423.4" font-size="13" fill="#222222" text-anchor="middle" stroke="#222222">10</text>
<text x="383.2" y="423.4" font-size="13" fill="#222222" text-anchor="middle" stroke="#222222">-</text>
<text x="408.5" y="423.4" font-size="13" fill="#222222" text-anchor="middle" stroke="#222222">20</text>
<text x="433.2" y="423.4" font-size="13" fill="#222222" text-anchor="middle" stroke="#222222">-</text>
<text x="455.4" y="423.4" font-size="13" fill="#222222" text-anchor="middle" stroke="#222222">-</text>
<text x="479.6" y="423.4" font-size="13" fill="#222222" text-anchor="middle" stroke="#222222">10</text>
<text x="509.2" y="423.4" font-size="13" fill="#222222" text-anchor="middle" stroke="#222222">-</text>
<text x="534.4" y="423.4" font-size="13" fill="#222222" text-anchor="middle" stroke="#222222">20</text>
<defs>
<filter id="bl1" x="-20%" y="-60%" width="140%" height="220%"><feGaussianBlur stdDeviation="1.05 0.85"/></filter>
<filter id="bl2" x="-20%" y="-80%" width="140%" height="260%"><feGaussianBlur stdDeviation="1.3 0.9"/></filter>
<filter id="bl3" x="-30%" y="-30%" width="160%" height="160%"><feGaussianBlur stdDeviation="5"/></filter>
<linearGradient id="g3" x1="0" y1="0" x2="1" y2="0"><stop offset="0" stop-color="#cccccc"/><stop offset="0.12" stop-color="#d3d3d3"/><stop offset="0.5" stop-color="#cfcfcf"/><stop offset="1" stop-color="#d3d3d3"/></linearGradient>
<clipPath id="cb3"><rect x="178" y="564.4" width="368.2" height="42.4"/></clipPath>
</defs>
<rect x="178" y="463" width="368.2" height="33.3" fill="#e8e8e8"/>
<rect x="178" y="515.1" width="368.2" height="33.5" fill="#e4e4e4"/>
<rect x="178" y="564.4" width="368.2" height="42.4" fill="url(#g3)"/>
<g clip-path="url(#cb3)" filter="url(#bl3)">
<ellipse cx="300" cy="570" rx="60" ry="8" fill="#dcdcdc" opacity="0.8"/>
<ellipse cx="200" cy="600" rx="30" ry="8" fill="#dadada" opacity="0.7"/>
<ellipse cx="483" cy="566" rx="12" ry="4" fill="#b8b8b8" opacity="0.9"/>
<ellipse cx="440" cy="575" rx="20" ry="8" fill="#c6c6c6" opacity="0.8"/>
<ellipse cx="520" cy="590" rx="14" ry="12" fill="#cacaca" opacity="0.8"/>
<ellipse cx="380" cy="602" rx="40" ry="6" fill="#d8d8d8" opacity="0.8"/>
<ellipse cx="250" cy="568" rx="25" ry="5" fill="#cbcbcb" opacity="0.7"/>
</g>
<rect x="423" y="480.6" width="15.2" height="3.4" rx="2.72" ry="1.7" fill="#1c1c1c" opacity="0.92" filter="url(#bl1)"/>
<rect x="444" y="478.7" width="21" height="6" rx="4.8" ry="3" fill="#050505" opacity="1" filter="url(#bl1)"/>
<rect x="470.6" y="479" width="22" height="6.6" rx="5.28" ry="3.3" fill="#030303" opacity="1" filter="url(#bl1)"/>
<rect x="499" y="479.75" width="19.2" height="3.9" rx="3.12" ry="1.95" fill="#101010" opacity="0.97" filter="url(#bl1)" transform="rotate(-4 508.6 481.7)"/>
<rect x="525.8" y="478.25" width="19" height="4.7" rx="3.76" ry="2.35" fill="#080808" opacity="1" filter="url(#bl1)" transform="rotate(-1.5 535.3 480.6)"/>
<circle cx="397.3" cy="481.7" r="0.7" fill="#999"/>
<rect x="299.6" y="533" width="12" height="2.4" rx="1.92" ry="1.2" fill="#3c3c3c" opacity="0.7" filter="url(#bl2)"/>
<rect x="299.8" y="533.1" width="5.2" height="2.2" rx="1.76" ry="1.1" fill="#1a1a1a" opacity="0.7" filter="url(#bl2)"/>
<rect x="322" y="531.7" width="18.6" height="3.8" rx="3.04" ry="1.9" fill="#0c0c0c" opacity="1" filter="url(#bl1)"/>
<rect x="349.6" y="531.1" width="18.6" height="4.2" rx="3.36" ry="2.1" fill="#080808" opacity="1" filter="url(#bl1)"/>
<rect x="376.8" y="530.35" width="18.6" height="4.3" rx="3.44" ry="2.15" fill="#060606" opacity="1" filter="url(#bl1)"/>
<rect x="402.4" y="530.6" width="18.4" height="3.4" rx="2.72" ry="1.7" fill="#1c1c1c" opacity="0.9" filter="url(#bl1)"/>
<rect x="202.2" y="585.3" width="14.4" height="4.2" rx="3.36" ry="2.1" fill="#080808" opacity="1" filter="url(#bl2)"/>
<rect x="226.6" y="587.2" width="15.4" height="3.8" rx="3.04" ry="1.9" fill="#161616" opacity="0.95" filter="url(#bl2)"/>
<rect x="251" y="586.8" width="16.4" height="6" rx="4.8" ry="3" fill="#030303" opacity="1" filter="url(#bl1)"/>
<rect x="274.2" y="586.35" width="14.6" height="6.9" rx="5.52" ry="3.45" fill="#020202" opacity="1" filter="url(#bl1)"/>
<rect x="321.5" y="586.5" width="21" height="3" rx="2.4" ry="1.5" fill="#8a8a8a" opacity="0.55" filter="url(#bl2)"/>
<rect x="349" y="586.2" width="20" height="3.6" rx="2.88" ry="1.8" fill="#5a5a5a" opacity="0.75" filter="url(#bl2)"/>
<rect x="376.8" y="585" width="18.2" height="3.2" rx="2.56" ry="1.6" fill="#6e6e6e" opacity="0.7" filter="url(#bl2)"/>
<rect x="402" y="583.95" width="19" height="3.7" rx="2.96" ry="1.85" fill="#1e1e1e" opacity="0.9" filter="url(#bl2)"/>
<circle cx="231.5" cy="573.5" r="0.6" fill="#888"/>
<circle cx="371.8" cy="587.8" r="0.5" fill="#555"/>
<g stroke="#111" stroke-width="3" stroke-linecap="butt">
<path d="M175.2,494.5 H189.6 M175.2,536.1 H189.6 M175.2,588.1 H189.6"/>
</g>
<text x="172.6" y="499.4" font-size="13.5" fill="#222222" text-anchor="end" stroke="#222222">25</text>
<text x="172.6" y="541.0" font-size="13.5" fill="#222222" text-anchor="end" stroke="#222222">100</text>
<text x="172.6" y="593.0" font-size="13.5" fill="#222222" text-anchor="end" stroke="#222222">25</text>
<text x="555.2" y="487.8" font-size="14" fill="#222222" stroke="#222222">GFP</text>
<text x="555.2" y="538.0" font-size="14" fill="#222222" textLength="73.8" lengthAdjust="spacingAndGlyphs" stroke="#222222">SR-B1-GFP</text>
<text x="555.2" y="581.3" font-size="13.8" fill="#222222" stroke="#222222">ApoA1</text>
<text x="555.2" y="598.3" font-size="13.8" fill="#222222" stroke="#222222">monomer</text>
</g>
<g id="panelD">
<text x="71.2" y="654.6" font-size="27" font-weight="bold" fill="#000" stroke="#000">D</text>
<g stroke="#000" stroke-width="1.7" fill="none">
<path d="M136,658.95 V873.85"/>
<path d="M136,873 H349.6"/>
<path d="M130.4,873 H136"/>
<path d="M133,851.68 H136"/>
<path d="M130.4,830.36 H136"/>
<path d="M133,809.04 H136"/>
<path d="M130.4,787.72 H136"/>
<path d="M133,766.4 H136"/>
<path d="M130.4,745.08 H136"/>
<path d="M133,723.76 H136"/>
<path d="M130.4,702.44 H136"/>
<path d="M133,681.12 H136"/>
<path d="M130.4,659.8 H136"/>
<path d="M162.4,873 V878.4"/>
<path d="M215.4,873 V878.4"/>
<path d="M268.6,873 V878.4"/>
<path d="M322,873 V878.4"/>
</g>
<text x="128.9" y="877.4" font-size="13" fill="#111111" text-anchor="end" stroke="#111111">0</text>
<text x="128.9" y="834.76" font-size="13" fill="#111111" text-anchor="end" stroke="#111111">2</text>
<text x="128.9" y="792.12" font-size="13" fill="#111111" text-anchor="end" stroke="#111111">4</text>
<text x="128.9" y="749.48" font-size="13" fill="#111111" text-anchor="end" stroke="#111111">6</text>
<text x="128.9" y="706.84" font-size="13" fill="#111111" text-anchor="end" stroke="#111111">8</text>
<text x="128.9" y="664.2" font-size="13" fill="#111111" text-anchor="end" stroke="#111111">10</text>
<text transform="translate(105.3,865.6) rotate(-90)" font-size="15" fill="#111111" textLength="198.4" lengthAdjust="spacingAndGlyphs" stroke="#111111">Binding Relative to ApoA1-WT</text>
<text x="161" y="892.4" font-size="13.5" fill="#111111" text-anchor="middle" stroke="#111111">WT</text>
<text x="216" y="892.4" font-size="13.5" fill="#111111" text-anchor="middle" stroke="#111111">Milano</text>
<text x="269" y="892.4" font-size="13.5" fill="#111111" text-anchor="middle" stroke="#111111">WT</text>
<text x="322.8" y="892.4" font-size="13.5" fill="#111111" text-anchor="middle" stroke="#111111">Milano</text>
<g stroke="#000" stroke-width="1.5">
<path d="M160.6,901.6 H215.2 M267.6,901.6 H322.2"/>
</g>
<text x="188.8" y="919" font-size="14.4" fill="#111111" text-anchor="middle" stroke="#111111">10 µg</text>
<text x="297.4" y="919" font-size="14.4" fill="#111111" text-anchor="middle" stroke="#111111">20 µg</text>
<circle cx="148" cy="851.7" r="3.35" fill="#000"/>
<circle cx="157.5" cy="851.7" r="3.35" fill="#000"/>
<circle cx="167" cy="851.7" r="3.35" fill="#000"/>
<circle cx="176.6" cy="851.7" r="3.35" fill="#000"/>
<g stroke="#000" stroke-width="1.6" fill="none"><path d="M148,851.7 H176.6"/></g>
<circle cx="215.5" cy="748.3" r="3.35" fill="#000"/>
<circle cx="215.5" cy="776.4" r="3.35" fill="#000"/>
<circle cx="208.4" cy="830.4" r="3.35" fill="#000"/>
<circle cx="222.8" cy="828" r="3.35" fill="#000"/>
<g stroke="#000" stroke-width="1.7" fill="none"><path d="M197.9,795.5 H233.1"/><path d="M215.5,775.4 V816 M206.5,775.4 H224.5 M206.5,816 H224.5"/></g>
<circle cx="254" cy="851.7" r="3.35" fill="#000"/>
<circle cx="268.5" cy="851.7" r="3.35" fill="#000"/>
<circle cx="283" cy="851.7" r="3.35" fill="#000"/>
<g stroke="#000" stroke-width="1.6" fill="none"><path d="M254,851.7 H283"/></g>
<circle cx="322" cy="709.3" r="3.35" fill="#000"/>
<circle cx="322" cy="824.4" r="3.35" fill="#000"/>
<circle cx="322" cy="842.6" r="3.35" fill="#000"/>
<g stroke="#000" stroke-width="1.7" fill="none"><path d="M304.4,792 H339.6"/><path d="M322,750.8 V834 M313,750.8 H331 M313,834 H331"/></g>
</g>
<g id="panelE">
<text x="451.4" y="654.7" font-size="27" font-weight="bold" fill="#000" stroke="#000">E</text>
<g stroke="#000" stroke-width="1.7" fill="none">
<path d="M507,655.73 V924.83"/>
<path d="M507,870.5 H692.2"/>
<path d="M501.6,923.98 H507"/>
<path d="M504,897.24 H507"/>
<path d="M501.6,870.5 H507"/>
<path d="M504,843.76 H507"/>
<path d="M501.6,817.02 H507"/>
<path d="M504,790.28 H507"/>
<path d="M501.6,763.54 H507"/>
<path d="M504,736.8 H507"/>
<path d="M501.6,710.06 H507"/>
<path d="M504,683.32 H507"/>
<path d="M501.6,656.58 H507"/>
<path d="M552.5,870.5 V876.1"/>
<path d="M598.7,870.5 V876.1"/>
<path d="M644.9,870.5 V876.1"/>
<path d="M691.1,870.5 V876.1"/>
</g>
<text x="500" y="928.68" font-size="13" fill="#111111" text-anchor="end" stroke="#111111">-2</text>
<text x="500" y="875.2" font-size="13" fill="#111111" text-anchor="end" stroke="#111111">0</text>
<text x="500" y="821.72" font-size="13" fill="#111111" text-anchor="end" stroke="#111111">2</text>
<text x="500" y="768.24" font-size="13" fill="#111111" text-anchor="end" stroke="#111111">4</text>
<text x="500" y="714.76" font-size="13" fill="#111111" text-anchor="end" stroke="#111111">6</text>
<text x="500" y="661.28" font-size="13" fill="#111111" text-anchor="end" stroke="#111111">8</text>
<text x="552.7" y="890.8" font-size="13" fill="#111111" text-anchor="middle" stroke="#111111">0.01</text>
<text x="598.9" y="890.8" font-size="13" fill="#111111" text-anchor="middle" stroke="#111111">0.1</text>
<text x="645.1" y="890.8" font-size="13" fill="#111111" text-anchor="middle" stroke="#111111">1</text>
<text x="691.3" y="890.8" font-size="13" fill="#111111" text-anchor="middle" stroke="#111111">10</text>
<text x="535.2" y="912.3" font-size="15" fill="#111111" textLength="128.8" lengthAdjust="spacingAndGlyphs" stroke="#111111">Concentration [µM]</text>
<text transform="translate(477.4,828) rotate(-90)" font-size="15.6" fill="#111111" stroke="#111111">ΔF<tspan font-size="11" dy="3.2">norm</tspan><tspan dy="-3.2"> (%</tspan><tspan font-size="11" dy="3.2">0</tspan><tspan dy="-3.2">)</tspan></text>
<path d="M532.6,723.4 H547.6" stroke="#f3a321" stroke-width="1.1"/>
<circle cx="539.6" cy="723.4" r="3.8" fill="#f3a321"/>
<path d="M532.6,743.3 H547.6" stroke="#3c50b4" stroke-width="1.1"/>
<rect x="535.9" y="739.6" width="7.4" height="7.4" fill="#3c50b4"/>
<text x="556.4" y="727.2" font-size="12" fill="#111111" textLength="54.4" lengthAdjust="spacingAndGlyphs" stroke="#111111">ApoAI-WT</text>
<text x="556.4" y="746.9" font-size="12" fill="#111111" textLength="50.6" lengthAdjust="spacingAndGlyphs" stroke="#111111">ApoAI-Mil</text>
<g fill="none" stroke="#3a3a3a" stroke-width="0.75" stroke-dasharray="0.9 1.0">
<path d="M520.2,858.47C524.84,858.47 538.74,858.6 548.01,858.47C557.29,858.33 568.9,858.33 575.86,857.66C582.82,857 585.13,856.15 589.77,854.46C594.41,852.76 599.04,851.38 603.68,847.5C608.31,843.63 612.95,837.34 617.58,831.19C622.22,825.04 626.86,819.11 631.49,810.6C636.13,802.09 640.76,792.86 645.4,780.12C650.04,767.37 655.02,746.69 659.31,734.13C663.59,721.56 669.14,709.61 671.1,704.71"/>
<path d="M520.2,873.17C524.84,873.04 538.74,872.59 548.01,872.37C557.29,872.15 568.9,872.24 575.86,871.84C582.82,871.44 585.13,871.08 589.77,869.97C594.41,868.85 599.04,867.51 603.68,865.15C608.31,862.79 612.95,859.58 617.58,855.79C622.22,852 626.86,849.11 631.49,842.42C636.13,835.74 640.76,828.38 645.4,815.68C650.04,802.98 654.67,780.25 659.31,766.21C663.94,752.18 670.9,737.25 673.22,731.45"/>
<path d="M520.2,860.34C529.48,860.34 561.95,860.43 575.86,860.34C589.78,860.25 594.41,860.34 603.68,859.8C612.95,859.27 624.54,860.25 631.49,857.13C638.45,854.01 641.73,849.78 645.4,841.09C649.07,832.4 650.75,812.34 653.54,804.99C656.32,797.63 659.18,798.84 662.11,796.97C665.04,795.09 669.6,794.29 671.1,793.76"/>
<path d="M520.2,872.64C529.48,872.59 561.95,872.51 575.86,872.37C589.78,872.24 594.41,872.51 603.68,871.84C612.95,871.17 624.54,869.92 631.49,868.36C638.45,866.8 641.96,865.24 645.4,862.48C648.84,859.71 649.83,857.35 652.15,851.78C654.47,846.21 657.24,834.71 659.31,829.05C661.38,823.39 662.61,819.92 664.57,817.82C666.54,815.73 670.01,816.71 671.1,816.49"/>
</g>
<g stroke="#3c50b4" fill="none" stroke-width="1.1">
<path d="M520.2,865.95C524.84,865.87 538.74,865.6 548.01,865.42C557.29,865.24 568.9,865.29 575.86,864.88C582.82,864.48 585.13,864.31 589.77,863.01C594.41,861.72 599.04,860.12 603.68,857.13C608.31,854.14 612.95,849.46 617.58,845.1C622.22,840.73 626.86,837.39 631.49,830.92C636.13,824.46 640.76,819.56 645.4,806.32C650.04,793.09 654.67,766.3 659.31,751.51C663.94,736.71 670.9,723.21 673.22,717.55"/>
<path d="M520.23,869.7 L534.14,862.48 L548.05,861.68 L561.95,863.82 L575.86,872.1 L589.77,868.36 L603.68,860.34 L617.58,824.24 L631.49,829.05 L645.4,805.79 L659.31,745.62 L673.22,715.41"/>
<path stroke-width="1" opacity="0.85" d="M520.23,858.2 V880.39 M516.53,858.2 H523.93 M516.53,880.39 H523.93"/>
<path stroke-width="1" opacity="0.85" d="M534.14,839.48 V884.94 M530.44,839.48 H537.84 M530.44,884.94 H537.84"/>
<path stroke-width="1" opacity="0.85" d="M548.05,840.55 V881.73 M544.35,840.55 H551.75 M544.35,881.73 H551.75"/>
<path stroke-width="1" opacity="0.85" d="M561.95,854.46 V873.17 M558.25,854.46 H565.65 M558.25,873.17 H565.65"/>
<path stroke-width="1" opacity="0.85" d="M575.86,844.56 V898.84 M572.16,844.56 H579.56 M572.16,898.84 H579.56"/>
<path stroke-width="1" opacity="0.85" d="M589.77,863.01 V873.71 M586.07,863.01 H593.47 M586.07,873.71 H593.47"/>
<path stroke-width="1" opacity="0.85" d="M603.68,843.23 V877.18 M599.98,843.23 H607.38 M599.98,877.18 H607.38"/>
<path stroke-width="1" opacity="0.85" d="M617.58,810.34 V837.88 M613.88,810.34 H621.28 M613.88,837.88 H621.28"/>
<path stroke-width="1" opacity="0.85" d="M631.49,819.16 V839.21 M627.79,819.16 H635.19 M627.79,839.21 H635.19"/>
<path stroke-width="1" opacity="0.85" d="M645.4,773.97 V837.61 M641.7,773.97 H649.1 M641.7,837.61 H649.1"/>
<path stroke-width="1" opacity="0.85" d="M659.31,724.23 V767.28 M655.61,724.23 H663.01 M655.61,767.28 H663.01"/>
<path stroke-width="1" opacity="0.85" d="M673.22,691.88 V739.21 M669.52,691.88 H676.92 M669.52,739.21 H676.92"/>
</g>
<g stroke="#f3a321" fill="none" stroke-width="1.1">
<path d="M520.2,866.49C529.48,866.44 561.95,866.36 575.86,866.22C589.78,866.09 594.41,866.09 603.68,865.69C612.95,865.29 624.54,865.55 631.49,863.82C638.45,862.08 641.96,858.82 645.4,855.26C648.84,851.69 649.83,847.9 652.15,842.42C654.47,836.94 656.99,827.72 659.31,822.37C661.63,817.02 663.74,813.01 666.06,810.34C668.38,807.66 672.02,806.99 673.22,806.32"/>
<path d="M520.23,864.35 L534.14,868.36 L548.05,874.24 L561.95,874.24 L575.86,859.8 L589.77,865.69 L603.68,864.62 L617.58,863.01 L631.49,864.08 L645.4,851.51 L659.31,818.89 L673.22,805.25"/>
<path stroke-width="1" opacity="0.85" d="M520.23,847.5 V880.39 M516.53,847.5 H523.93 M516.53,880.39 H523.93"/>
<path stroke-width="1" opacity="0.85" d="M534.14,860.87 V876.38 M530.44,860.87 H537.84 M530.44,876.38 H537.84"/>
<path stroke-width="1" opacity="0.85" d="M548.05,859 V889.75 M544.35,859 H551.75 M544.35,889.75 H551.75"/>
<path stroke-width="1" opacity="0.85" d="M561.95,865.69 V883.07 M558.25,865.69 H565.65 M558.25,883.07 H565.65"/>
<path stroke-width="1" opacity="0.85" d="M575.86,850.18 V869.7 M572.16,850.18 H579.56 M572.16,869.7 H579.56"/>
<path stroke-width="1" opacity="0.85" d="M589.77,848.57 V883.6 M586.07,848.57 H593.47 M586.07,883.6 H593.47"/>
<path stroke-width="1" opacity="0.85" d="M603.68,854.99 V873.71 M599.98,854.99 H607.38 M599.98,873.71 H607.38"/>
<path stroke-width="1" opacity="0.85" d="M617.58,846.7 V878.25 M613.88,846.7 H621.28 M613.88,878.25 H621.28"/>
<path stroke-width="1" opacity="0.85" d="M631.49,853.65 V874.24 M627.79,853.65 H635.19 M627.79,874.24 H635.19"/>
<path stroke-width="1" opacity="0.85" d="M645.4,843.23 V859.54 M641.7,843.23 H649.1 M641.7,859.54 H649.1"/>
<path stroke-width="1" opacity="0.85" d="M659.31,797.5 V840.02 M655.61,797.5 H663.01 M655.61,840.02 H663.01"/>
</g>
<rect x="516.53" y="866" width="7.4" height="7.4" fill="#3c50b4"/>
<rect x="530.44" y="858.78" width="7.4" height="7.4" fill="#3c50b4"/>
<rect x="544.35" y="857.98" width="7.4" height="7.4" fill="#3c50b4"/>
<rect x="558.25" y="860.12" width="7.4" height="7.4" fill="#3c50b4"/>
<rect x="572.16" y="868.4" width="7.4" height="7.4" fill="#3c50b4"/>
<rect x="586.07" y="864.66" width="7.4" height="7.4" fill="#3c50b4"/>
<rect x="599.98" y="856.64" width="7.4" height="7.4" fill="#3c50b4"/>
<rect x="613.88" y="820.54" width="7.4" height="7.4" fill="#3c50b4"/>
<rect x="627.79" y="825.35" width="7.4" height="7.4" fill="#3c50b4"/>
<rect x="641.7" y="802.09" width="7.4" height="7.4" fill="#3c50b4"/>
<rect x="655.61" y="741.92" width="7.4" height="7.4" fill="#3c50b4"/>
<rect x="669.52" y="711.71" width="7.4" height="7.4" fill="#3c50b4"/>
<circle cx="520.23" cy="864.35" r="3.8" fill="#f3a321"/>
<circle cx="534.14" cy="868.36" r="3.8" fill="#f3a321"/>
<circle cx="548.05" cy="874.24" r="3.8" fill="#f3a321"/>
<circle cx="561.95" cy="874.24" r="3.8" fill="#f3a321"/>
<circle cx="575.86" cy="859.8" r="3.8" fill="#f3a321"/>
<circle cx="589.77" cy="865.69" r="3.8" fill="#f3a321"/>
<circle cx="603.68" cy="864.62" r="3.8" fill="#f3a321"/>
<circle cx="617.58" cy="863.01" r="3.8" fill="#f3a321"/>
<circle cx="631.49" cy="864.08" r="3.8" fill="#f3a321"/>
<circle cx="645.4" cy="851.51" r="3.8" fill="#f3a321"/>
<circle cx="659.31" cy="818.89" r="3.8" fill="#f3a321"/>
<circle cx="673.22" cy="805.25" r="3.8" fill="#f3a321"/>
</g>
</svg>
</body>
</html>
